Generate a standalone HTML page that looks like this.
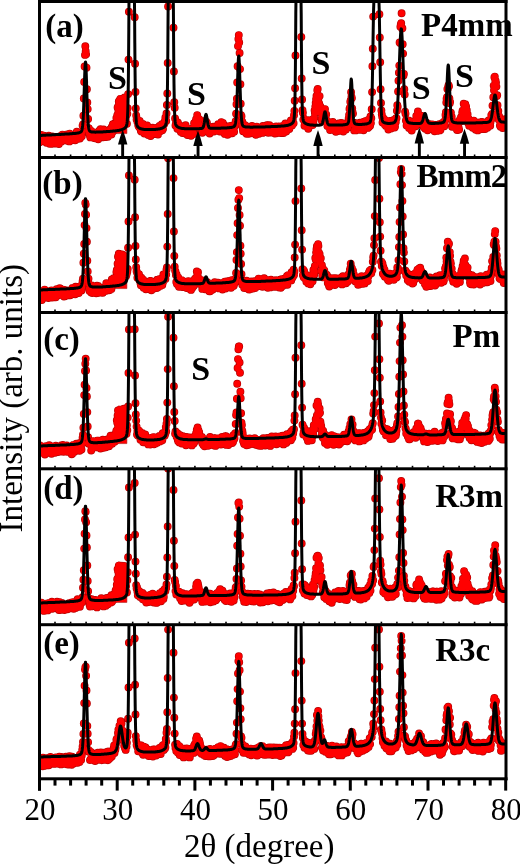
<!DOCTYPE html><html><head><meta charset="utf-8"><title>XRD Rietveld refinement</title><style>html,body{margin:0;padding:0;background:#fff;}svg{display:block}</style></head><body>
<svg width="520" height="864" viewBox="0 0 520 864">
<rect width="520" height="864" fill="#fff"/>
<defs>
<clipPath id="ca"><rect x="40" y="2" width="466" height="155"/></clipPath>
<clipPath id="cb"><rect x="40" y="158" width="466" height="154"/></clipPath>
<clipPath id="cc"><rect x="40" y="313" width="466" height="155"/></clipPath>
<clipPath id="cd"><rect x="40" y="469" width="466" height="155"/></clipPath>
<clipPath id="ce"><rect x="40" y="625" width="466" height="153"/></clipPath>
</defs>
<defs><path id="oa" d="M39.5 142.4h0M39.9 138.8h0M40.3 136.1h0M40.7 138.8h0M41.1 134.9h0M41.4 136.2h0M41.8 140.1h0M42.2 135.1h0M42.6 141h0M43 140.5h0M43.4 139.8h0M43.8 135.9h0M44.2 135.7h0M44.6 139.5h0M44.9 139.2h0M45.3 140.4h0M45.7 138.4h0M46.1 136.9h0M46.5 142.7h0M46.9 141.5h0M47.3 137.8h0M47.7 136.2h0M48 142.5h0M48.4 138.3h0M48.8 135.7h0M49.2 137.1h0M49.6 143.7h0M50 138.6h0M50.4 142.1h0M50.8 138h0M51.2 143.9h0M51.5 142.2h0M51.9 136.8h0M52.3 136.5h0M52.7 140.5h0M53.1 139.3h0M53.5 136.7h0M53.9 141.4h0M54.3 137.9h0M54.7 138.5h0M55 139.2h0M55.4 143.6h0M55.8 143.3h0M56.2 141.7h0M56.6 138.8h0M57 139.5h0M57.4 139.6h0M57.8 137.2h0M58.1 138.7h0M58.5 141.7h0M58.9 144.1h0M59.3 140.3h0M59.7 136.9h0M60.1 136.2h0M60.5 137.5h0M60.9 136.5h0M61.3 136.3h0M61.6 141.6h0M62 137.6h0M62.4 134.6h0M62.8 136.5h0M63.2 140.5h0M63.6 139.5h0M64 137.5h0M64.4 135.8h0M64.8 137.4h0M65.1 139.8h0M65.5 136.6h0M65.9 134.6h0M66.3 136.4h0M66.7 135.4h0M67.1 137h0M67.5 136.7h0M67.9 140.9h0M68.2 139.7h0M68.6 138.7h0M69 134h0M69.4 141.4h0M69.8 133.6h0M70.2 137.8h0M70.6 134.6h0M71 140.4h0M71.4 138.6h0M71.7 140.2h0M72.1 139.2h0M72.5 139.7h0M72.9 139.3h0M73.3 139.5h0M73.7 138.9h0M74.1 136.8h0M74.5 136.6h0M74.9 136.6h0M75.2 140.3h0M75.6 139.6h0M76 138.3h0M76.4 136.6h0M76.8 131.8h0M77.2 137.6h0M77.6 135.8h0M78 133.7h0M78.4 136.7h0M78.7 138.8h0M79.1 133.6h0M79.5 136.7h0M79.9 138.5h0M80.3 136.5h0M80.7 132.7h0M81.1 135.5h0M81.5 136.2h0M81.8 136.3h0M82.2 131.7h0M82.6 125.6h0M83 124.4h0M83.4 115.8h0M83.8 98.5h0M84.2 81.9h0M84.6 66.5h0M85 54.9h0M85.3 46.3h0M85.7 51.3h0M86.1 54.2h0M86.5 67.8h0M86.9 89.2h0M87.3 102.4h0M87.7 109.1h0M88.1 119h0M88.5 130.1h0M88.8 128.3h0M89.2 133.5h0M89.6 133h0M90 136.2h0M90.4 137.4h0M90.8 133.5h0M91.2 130.9h0M91.6 136h0M91.9 131.6h0M92.3 136.1h0M92.7 135h0M93.1 133.5h0M93.5 136.5h0M93.9 137.9h0M94.3 136.1h0M94.7 135.6h0M95.1 138.3h0M95.4 137.7h0M95.8 137.3h0M96.2 136.5h0M96.6 132.4h0M97 136h0M97.4 136h0M97.8 138.5h0M98.2 139.2h0M98.6 132.8h0M98.9 137.7h0M99.3 130.8h0M99.7 133.6h0M100.1 133.4h0M100.5 129.3h0M100.9 136h0M101.3 130.5h0M101.7 129.9h0M102 130.5h0M102.4 136h0M102.8 134.6h0M103.2 137.3h0M103.6 129.5h0M104 131.3h0M104.4 135.6h0M104.8 136.2h0M105.2 133.3h0M105.5 135.6h0M105.9 136.4h0M106.3 137.1h0M106.7 133.6h0M107.1 133.3h0M107.5 132.7h0M107.9 136.7h0M108.3 132.3h0M108.7 132h0M109 131.5h0M109.4 131.6h0M109.8 130.1h0M110.2 129.2h0M110.6 130.6h0M111 133.7h0M111.4 134.5h0M111.8 127h0M112.1 130.7h0M112.5 132.1h0M112.9 124.2h0M113.3 130.4h0M113.7 126.6h0M114.1 123.7h0M114.5 129.9h0M114.9 124.9h0M115.3 124.1h0M115.6 124.5h0M116 123.2h0M116.4 117.9h0M116.8 118.3h0M117.2 115.4h0M117.6 107.4h0M118 106.7h0M118.4 107.3h0M118.8 101.4h0M119.1 109h0M119.5 108.8h0M119.9 100.6h0M120.3 102.3h0M120.7 100.7h0M121.1 109.6h0M121.5 100.8h0M121.9 98.9h0M122.3 101.5h0M122.6 110.7h0M123 99.1h0M123.4 103.3h0M123.8 105.5h0M124.2 98.1h0M124.6 97.4h0M125 106.4h0M125.4 105.9h0M125.7 118.7h0M126.1 123.6h0M126.5 115.3h0M126.9 123.8h0M127.3 113.8h0M127.7 108.1h0M128.1 94.1h0M128.5 59.6h0M128.9 11.7h0M129.2 -7h0M129.6 -7h0M130 -7h0M130.4 -7h0M130.8 -7h0M131.2 -7h0M131.6 -7h0M132 -7h0M132.4 -7h0M132.7 -7h0M133.1 -7h0M133.5 -7h0M133.9 -7h0M134.3 -7h0M134.7 17.3h0M135.1 63.8h0M135.5 92h0M135.8 108.4h0M136.2 115.4h0M136.6 119.5h0M137 118.9h0M137.4 121.8h0M137.8 120.8h0M138.2 125.1h0M138.6 126.3h0M139 125.5h0M139.3 127.3h0M139.7 121h0M140.1 123.3h0M140.5 124.1h0M140.9 131h0M141.3 131.5h0M141.7 127.9h0M142.1 131.1h0M142.5 124.4h0M142.8 123.9h0M143.2 132.2h0M143.6 125.6h0M144 129.2h0M144.4 133.5h0M144.8 128.8h0M145.2 128h0M145.6 127.4h0M145.9 127.3h0M146.3 131.1h0M146.7 127h0M147.1 125.4h0M147.5 129.1h0M147.9 134.3h0M148.3 135.1h0M148.7 134.7h0M149.1 130.8h0M149.4 131.5h0M149.8 132.2h0M150.2 135.8h0M150.6 136h0M151 134.1h0M151.4 132.3h0M151.8 130.6h0M152.2 131.3h0M152.6 127.8h0M152.9 130.2h0M153.3 128.7h0M153.7 133h0M154.1 130.5h0M154.5 133.2h0M154.9 128.7h0M155.3 134.1h0M155.7 133h0M156.1 133.2h0M156.4 132.1h0M156.8 133.2h0M157.2 127.7h0M157.6 134.1h0M158 134.6h0M158.4 128.9h0M158.8 130.1h0M159.2 130.8h0M159.5 126h0M159.9 130.6h0M160.3 131.3h0M160.7 126.7h0M161.1 127.9h0M161.5 124.9h0M161.9 124.3h0M162.3 130.2h0M162.7 124h0M163 129.1h0M163.4 124.6h0M163.8 123.1h0M164.2 123.9h0M164.6 122.3h0M165 120.4h0M165.4 117.5h0M165.8 117h0M166.2 120.9h0M166.5 113.4h0M166.9 105h0M167.3 93.4h0M167.7 62.9h0M168.1 6.5h0M168.5 -7h0M168.9 -7h0M169.3 -7h0M169.6 -7h0M170 -7h0M170.4 -7h0M170.8 -7h0M171.2 -7h0M171.6 -7h0M172 -7h0M172.4 -7h0M172.8 -7h0M173.1 -7h0M173.5 27.7h0M173.9 71.4h0M174.3 102.3h0M174.7 107.8h0M175.1 118.5h0M175.5 125.4h0M175.9 123.5h0M176.3 123.5h0M176.6 126.4h0M177 126.6h0M177.4 128.8h0M177.8 122.4h0M178.2 128.9h0M178.6 124.1h0M179 129.5h0M179.4 125.7h0M179.7 125.5h0M180.1 127.8h0M180.5 128.4h0M180.9 132.1h0M181.3 127.1h0M181.7 131.7h0M182.1 131.1h0M182.5 133.1h0M182.9 129.7h0M183.2 130.9h0M183.6 127.6h0M184 130.6h0M184.4 133.2h0M184.8 126.2h0M185.2 128.5h0M185.6 125.2h0M186 128.5h0M186.4 133.1h0M186.7 128.2h0M187.1 132.1h0M187.5 135.1h0M187.9 128.9h0M188.3 129.1h0M188.7 132.5h0M189.1 129.7h0M189.5 129.3h0M189.8 134.6h0M190.2 134.8h0M190.6 132.1h0M191 135.8h0M191.4 131.2h0M191.8 131.3h0M192.2 128.4h0M192.6 134.2h0M193 130.1h0M193.3 127.9h0M193.7 133.9h0M194.1 123.3h0M194.5 126.5h0M194.9 127.3h0M195.3 125.4h0M195.7 121.1h0M196.1 119.2h0M196.5 122.4h0M196.8 125.1h0M197.2 115.1h0M197.6 122.4h0M198 124.1h0M198.4 124.5h0M198.8 124.5h0M199.2 119.1h0M199.6 129.1h0M200 126.5h0M200.3 129.9h0M200.7 126.9h0M201.1 131.9h0M201.5 126.6h0M201.9 126.2h0M202.3 132.7h0M202.7 125.9h0M203.1 128.2h0M203.4 127.7h0M203.8 130.1h0M204.2 127.3h0M204.6 130.5h0M205 121h0M205.4 122.3h0M205.8 123h0M206.2 121.8h0M206.6 126.6h0M206.9 122.8h0M207.3 125.5h0M207.7 128.2h0M208.1 128h0M208.5 131.5h0M208.9 132.6h0M209.3 129.7h0M209.7 133.6h0M210.1 130.1h0M210.4 128.5h0M210.8 127.9h0M211.2 128.4h0M211.6 129.7h0M212 127.2h0M212.4 128h0M212.8 129.6h0M213.2 126.7h0M213.5 130.8h0M213.9 131.6h0M214.3 129.2h0M214.7 127.8h0M215.1 128.2h0M215.5 130.7h0M215.9 130.7h0M216.3 129.8h0M216.7 127.2h0M217 129.8h0M217.4 128.3h0M217.8 130.8h0M218.2 124.3h0M218.6 129.5h0M219 125.5h0M219.4 126.4h0M219.8 131.5h0M220.2 127.1h0M220.5 123.8h0M220.9 130.7h0M221.3 122.1h0M221.7 123.9h0M222.1 124.6h0M222.5 130.6h0M222.9 123h0M223.3 131.9h0M223.6 128.7h0M224 129.8h0M224.4 133h0M224.8 133.9h0M225.2 126.4h0M225.6 132.4h0M226 127.2h0M226.4 131h0M226.8 131h0M227.1 126.7h0M227.5 134.8h0M227.9 134.5h0M228.3 132h0M228.7 132.2h0M229.1 132.4h0M229.5 126.1h0M229.9 127.3h0M230.3 129.6h0M230.6 130.5h0M231 128.1h0M231.4 131h0M231.8 125.7h0M232.2 133.3h0M232.6 130h0M233 129.7h0M233.4 130.2h0M233.7 128.4h0M234.1 131.8h0M234.5 126.8h0M234.9 125.6h0M235.3 124.1h0M235.7 121.1h0M236.1 113.8h0M236.5 104.2h0M236.9 98.7h0M237.2 82.4h0M237.6 66.2h0M238 46.1h0M238.4 38.9h0M238.8 35.1h0M239.2 42.5h0M239.6 53h0M240 69.1h0M240.4 84.2h0M240.7 103.7h0M241.1 115.2h0M241.5 116.3h0M241.9 125.4h0M242.3 121.8h0M242.7 128.7h0M243.1 131.2h0M243.5 124.1h0M243.9 127.1h0M244.2 125.4h0M244.6 128.9h0M245 128.2h0M245.4 125.5h0M245.8 132.7h0M246.2 133h0M246.6 133.8h0M247 127.9h0M247.3 133.2h0M247.7 132.7h0M248.1 128.6h0M248.5 132.8h0M248.9 133.8h0M249.3 127.3h0M249.7 133.5h0M250.1 132.3h0M250.5 128.9h0M250.8 132.8h0M251.2 127.5h0M251.6 129.7h0M252 125.9h0M252.4 131.2h0M252.8 127.3h0M253.2 131.3h0M253.6 132.6h0M254 133h0M254.3 130.9h0M254.7 133.7h0M255.1 131.8h0M255.5 126.9h0M255.9 134.8h0M256.3 130.5h0M256.7 126.6h0M257.1 128h0M257.4 132.4h0M257.8 132.3h0M258.2 128.1h0M258.6 127.5h0M259 133.8h0M259.4 130.2h0M259.8 132.5h0M260.2 129.8h0M260.6 127.6h0M260.9 128.6h0M261.3 130.9h0M261.7 129.7h0M262.1 132.1h0M262.5 132.9h0M262.9 126h0M263.3 129.7h0M263.7 126.5h0M264.1 130.6h0M264.4 130.9h0M264.8 126.3h0M265.2 129.7h0M265.6 129.8h0M266 130.8h0M266.4 125.7h0M266.8 125.2h0M267.2 128.1h0M267.5 128.3h0M267.9 125.1h0M268.3 132.8h0M268.7 131.4h0M269.1 126.6h0M269.5 125.2h0M269.9 127.7h0M270.3 127h0M270.7 129.4h0M271 126.5h0M271.4 127.5h0M271.8 132.6h0M272.2 132.6h0M272.6 129.3h0M273 128h0M273.4 130.3h0M273.8 132.5h0M274.2 129.9h0M274.5 132.3h0M274.9 133.6h0M275.3 127.2h0M275.7 129.2h0M276.1 126.4h0M276.5 133.2h0M276.9 133h0M277.3 131.3h0M277.7 128.7h0M278 128.8h0M278.4 128.6h0M278.8 126.4h0M279.2 129.3h0M279.6 128.5h0M280 131.3h0M280.4 133.1h0M280.8 129h0M281.1 127.6h0M281.5 131.4h0M281.9 126.2h0M282.3 129.5h0M282.7 126.6h0M283.1 128.9h0M283.5 133.1h0M283.9 130.6h0M284.3 128h0M284.6 124.8h0M285 126.3h0M285.4 123.5h0M285.8 126.8h0M286.2 131.6h0M286.6 126.3h0M287 123.9h0M287.4 129.5h0M287.8 128.7h0M288.1 124.9h0M288.5 125.1h0M288.9 124.9h0M289.3 129h0M289.7 125h0M290.1 123.1h0M290.5 126.2h0M290.9 120.4h0M291.2 124.6h0M291.6 120.5h0M292 125.5h0M292.4 124h0M292.8 119.8h0M293.2 123.3h0M293.6 123.3h0M294 115.2h0M294.4 110.9h0M294.7 100.7h0M295.1 88.2h0M295.5 55.5h0M295.9 -7h0M296.3 -7h0M296.7 -7h0M297.1 -7h0M297.5 -7h0M297.9 -7h0M298.2 -7h0M298.6 -7h0M299 -7h0M299.4 -7h0M299.8 -7h0M300.2 -7h0M300.6 -7h0M301 -7h0M301.3 37h0M301.7 78.5h0M302.1 99.5h0M302.5 110.3h0M302.9 112.7h0M303.3 119.6h0M303.7 118.7h0M304.1 118.6h0M304.5 125.7h0M304.8 123.1h0M305.2 119.7h0M305.6 123.4h0M306 122h0M306.4 123.8h0M306.8 125.2h0M307.2 125.1h0M307.6 121.8h0M308 127.5h0M308.3 128.7h0M308.7 120.3h0M309.1 123.3h0M309.5 124.1h0M309.9 122.7h0M310.3 122.9h0M310.7 120.4h0M311.1 125.1h0M311.4 124.1h0M311.8 125.3h0M312.2 123.3h0M312.6 125.1h0M313 119.3h0M313.4 123.6h0M313.8 119.7h0M314.2 118.1h0M314.6 110.5h0M314.9 113h0M315.3 106.7h0M315.7 102.7h0M316.1 99.1h0M316.5 96h0M316.9 97h0M317.3 90.2h0M317.7 88.9h0M318.1 96.6h0M318.4 98.4h0M318.8 96.1h0M319.2 103.5h0M319.6 96.1h0M320 108.2h0M320.4 106.4h0M320.8 113h0M321.2 110.7h0M321.6 118.6h0M321.9 120.8h0M322.3 120.3h0M322.7 119.9h0M323.1 115h0M323.5 116.2h0M323.9 113h0M324.3 109.9h0M324.7 117.4h0M325 109.1h0M325.4 114.8h0M325.8 114.3h0M326.2 114.5h0M326.6 122.4h0M327 120.6h0M327.4 126.1h0M327.8 123.8h0M328.2 121.7h0M328.5 124.8h0M328.9 124.5h0M329.3 124.6h0M329.7 125.1h0M330.1 130h0M330.5 124.6h0M330.9 128.2h0M331.3 122.3h0M331.7 129.4h0M332 123.8h0M332.4 124.4h0M332.8 121.9h0M333.2 127.1h0M333.6 124.1h0M334 125.1h0M334.4 124.7h0M334.8 130.4h0M335.1 125.4h0M335.5 127.2h0M335.9 131.7h0M336.3 127.6h0M336.7 127.6h0M337.1 124.6h0M337.5 128.5h0M337.9 125.8h0M338.3 131h0M338.6 127.6h0M339 130h0M339.4 123.2h0M339.8 124.2h0M340.2 126h0M340.6 129.4h0M341 123h0M341.4 125.1h0M341.8 127.8h0M342.1 130.1h0M342.5 126.8h0M342.9 129.6h0M343.3 131.5h0M343.7 123.5h0M344.1 128.9h0M344.5 125h0M344.9 127.7h0M345.2 124.7h0M345.6 128.1h0M346 129.5h0M346.4 125.3h0M346.8 124.9h0M347.2 123.4h0M347.6 124.8h0M348 127.5h0M348.4 124.2h0M348.7 118.2h0M349.1 114.9h0M349.5 109h0M349.9 107.8h0M350.3 101.8h0M350.7 100.3h0M351.1 92.2h0M351.5 96.8h0M351.9 98.1h0M352.2 108.5h0M352.6 112.2h0M353 113.6h0M353.4 124.3h0M353.8 122.7h0M354.2 130.4h0M354.6 124.6h0M355 129.1h0M355.4 125.4h0M355.7 130.4h0M356.1 128.1h0M356.5 123.3h0M356.9 129.5h0M357.3 127.9h0M357.7 125.5h0M358.1 126.9h0M358.5 126.9h0M358.8 127.4h0M359.2 125.9h0M359.6 129.7h0M360 122.7h0M360.4 126.8h0M360.8 123.5h0M361.2 124.3h0M361.6 127.4h0M362 125h0M362.3 123.6h0M362.7 130h0M363.1 128.6h0M363.5 130.2h0M363.9 121.6h0M364.3 123.6h0M364.7 128h0M365.1 128.1h0M365.5 122.2h0M365.8 121h0M366.2 125.7h0M366.6 122.8h0M367 127.4h0M367.4 125.3h0M367.8 127.9h0M368.2 122.7h0M368.6 119.8h0M368.9 127h0M369.3 126.4h0M369.7 121.9h0M370.1 125.8h0M370.5 116.4h0M370.9 123.1h0M371.3 118.2h0M371.7 109.2h0M372.1 92.1h0M372.4 66.3h0M372.8 48.7h0M373.2 16.6h0M373.6 -7h0M374 -7h0M374.4 -7h0M374.8 -7h0M375.2 -7h0M375.6 -7h0M375.9 -7h0M376.3 -7h0M376.7 -7h0M377.1 -7h0M377.5 -7h0M377.9 -7h0M378.3 -7h0M378.7 -7h0M379 -7h0M379.4 14.2h0M379.8 37.5h0M380.2 62.2h0M380.6 89.2h0M381 103h0M381.4 110.5h0M381.8 114.5h0M382.2 116.7h0M382.5 122.6h0M382.9 120.5h0M383.3 118.1h0M383.7 121.6h0M384.1 121.1h0M384.5 124.2h0M384.9 123.4h0M385.3 120.1h0M385.7 123.3h0M386 126h0M386.4 123.5h0M386.8 121.4h0M387.2 126.6h0M387.6 124.8h0M388 123.6h0M388.4 129.5h0M388.8 129.2h0M389.1 128.3h0M389.5 126.7h0M389.9 121h0M390.3 123.6h0M390.7 121.1h0M391.1 128.5h0M391.5 121h0M391.9 123.7h0M392.3 121.6h0M392.6 125.9h0M393 121.8h0M393.4 126.6h0M393.8 120h0M394.2 122.6h0M394.6 127.6h0M395 126.8h0M395.4 123h0M395.8 121.9h0M396.1 118.3h0M396.5 118.3h0M396.9 110.7h0M397.3 105.3h0M397.7 106.7h0M398.1 91.5h0M398.5 80.8h0M398.9 72.7h0M399.3 65.6h0M399.6 42.4h0M400 42.9h0M400.4 26.7h0M400.8 24.3h0M401.2 23.2h0M401.6 13.3h0M402 28.4h0M402.4 28.2h0M402.7 44.2h0M403.1 53.6h0M403.5 75.5h0M403.9 74h0M404.3 89.2h0M404.7 94.5h0M405.1 111.7h0M405.5 113.7h0M405.9 120.6h0M406.2 119.7h0M406.6 125.6h0M407 125h0M407.4 121.4h0M407.8 123.8h0M408.2 123.4h0M408.6 120.5h0M409 128.1h0M409.4 126h0M409.7 124.9h0M410.1 124.8h0M410.5 124.4h0M410.9 128.1h0M411.3 125.8h0M411.7 130.5h0M412.1 121.8h0M412.5 124.2h0M412.8 125.8h0M413.2 125.6h0M413.6 125.5h0M414 124.5h0M414.4 126.7h0M414.8 121.6h0M415.2 121.2h0M415.6 126.2h0M416 120.3h0M416.3 115.9h0M416.7 124.6h0M417.1 116.5h0M417.5 120.5h0M417.9 111.5h0M418.3 118.1h0M418.7 116h0M419.1 120.4h0M419.5 120.9h0M419.8 119.6h0M420.2 120.4h0M420.6 118.2h0M421 124.1h0M421.4 115.8h0M421.8 123.8h0M422.2 120.7h0M422.6 118.8h0M422.9 121.6h0M423.3 120.4h0M423.7 127.2h0M424.1 120.9h0M424.5 120.9h0M424.9 124.7h0M425.3 128.8h0M425.7 125.7h0M426.1 128.8h0M426.4 126.2h0M426.8 123h0M427.2 128.1h0M427.6 130.3h0M428 125.2h0M428.4 128.5h0M428.8 123.9h0M429.2 127.7h0M429.6 124.2h0M429.9 126h0M430.3 125.9h0M430.7 127.2h0M431.1 127.4h0M431.5 126.3h0M431.9 128.4h0M432.3 124.4h0M432.7 127.2h0M433.1 125.1h0M433.4 126.6h0M433.8 129.6h0M434.2 127.7h0M434.6 131.3h0M435 127.4h0M435.4 125h0M435.8 125.5h0M436.2 129.8h0M436.5 127.9h0M436.9 127.8h0M437.3 130.9h0M437.7 129.4h0M438.1 129.5h0M438.5 124.6h0M438.9 127.8h0M439.3 124.1h0M439.7 130.4h0M440 130h0M440.4 130h0M440.8 127.7h0M441.2 127.5h0M441.6 124.3h0M442 126.4h0M442.4 124h0M442.8 122.6h0M443.2 125.4h0M443.5 123.1h0M443.9 124.5h0M444.3 126.2h0M444.7 124.1h0M445.1 120.3h0M445.5 115h0M445.9 112.3h0M446.3 102.5h0M446.6 98.7h0M447 97.1h0M447.4 88.9h0M447.8 88.8h0M448.2 86.4h0M448.6 85.2h0M449 86.3h0M449.4 98.5h0M449.8 103.3h0M450.1 101.9h0M450.5 114.1h0M450.9 112.7h0M451.3 119.3h0M451.7 116.8h0M452.1 126.8h0M452.5 125.6h0M452.9 125.4h0M453.3 121.7h0M453.6 125.5h0M454 124.2h0M454.4 127h0M454.8 124.7h0M455.2 125.2h0M455.6 125.8h0M456 122.7h0M456.4 124h0M456.7 129.2h0M457.1 130h0M457.5 129.7h0M457.9 130h0M458.3 127.3h0M458.7 128h0M459.1 129.5h0M459.5 121.4h0M459.9 119.6h0M460.2 119.7h0M460.6 118.8h0M461 117.2h0M461.4 121.2h0M461.8 120h0M462.2 112.5h0M462.6 110.7h0M463 117.5h0M463.4 110.1h0M463.7 103.7h0M464.1 111.4h0M464.5 107.6h0M464.9 105.4h0M465.3 104.3h0M465.7 112.4h0M466.1 106.5h0M466.5 111h0M466.8 110.3h0M467.2 116.6h0M467.6 114.2h0M468 122.8h0M468.4 118.5h0M468.8 120.3h0M469.2 125.7h0M469.6 123.5h0M470 121.9h0M470.3 122.4h0M470.7 123.2h0M471.1 123.8h0M471.5 125.2h0M471.9 122.5h0M472.3 124.4h0M472.7 127.7h0M473.1 125.9h0M473.5 127.4h0M473.8 120.6h0M474.2 124.9h0M474.6 128.4h0M475 122h0M475.4 129.2h0M475.8 129.7h0M476.2 122.5h0M476.6 128h0M477 123.3h0M477.3 127.7h0M477.7 130.4h0M478.1 125.7h0M478.5 124h0M478.9 129.8h0M479.3 124.9h0M479.7 122.4h0M480.1 122.9h0M480.4 126.5h0M480.8 128h0M481.2 125.8h0M481.6 123.3h0M482 122h0M482.4 129h0M482.8 125.9h0M483.2 126.6h0M483.6 124.4h0M483.9 126h0M484.3 126.2h0M484.7 122.8h0M485.1 129h0M485.5 127.5h0M485.9 124.3h0M486.3 122.4h0M486.7 127.3h0M487.1 122.7h0M487.4 127.8h0M487.8 124.2h0M488.2 121.6h0M488.6 120.4h0M489 122.2h0M489.4 123.4h0M489.8 124.1h0M490.2 125.7h0M490.5 121.9h0M490.9 118.6h0M491.3 115.1h0M491.7 118.8h0M492.1 114h0M492.5 105.6h0M492.9 106.1h0M493.3 97.3h0M493.7 85.6h0M494 90.3h0M494.4 77.3h0M494.8 76.6h0M495.2 80h0M495.6 80.6h0M496 82.6h0M496.4 86.6h0M496.8 96.1h0M497.2 95.3h0M497.5 105.3h0M497.9 114.9h0M498.3 111h0M498.7 119.6h0M499.1 116.1h0M499.5 118.4h0M499.9 125.4h0M500.3 122.5h0M500.6 126.7h0M501 120.8h0M501.4 126.1h0M501.8 120.3h0M502.2 120.7h0M502.6 128h0M503 127h0M503.4 125.1h0M503.8 125.6h0M504.1 125.9h0M504.5 121.4h0M504.9 119.2h0M505.3 124.4h0M505.7 125h0"/></defs>
<g clip-path="url(#ca)" fill="none" stroke-linecap="round"><use href="#oa" stroke="#b80000" stroke-width="7.9"/><path d="M113.5 133.2 L115 109.5 L116.2 100.5 Q116.8 95.5 118.6 95.5 L124 96 Q126.8 96 126.8 98.5 L126.8 133.2 Z" fill="#ff0000" stroke="#b80000" stroke-width="0.7"/><use href="#oa" stroke="#ff0000" stroke-width="6.5"/></g>
<polyline clip-path="url(#ca)" points="40,135.5 40.2,135.4 40.4,135.4 40.6,135.4 40.8,135.4 41,135.4 41.2,135.4 41.4,135.4 41.6,135.4 41.8,135.4 42,135.4 42.2,135.3 42.4,135.3 42.6,135.3 42.8,135.3 43,135.3 43.2,135.3 43.4,135.3 43.6,135.3 43.8,135.3 44,135.3 44.2,135.2 44.4,135.2 44.6,135.2 44.8,135.2 45,135.2 45.2,135.2 45.4,135.2 45.6,135.2 45.8,135.2 46,135.1 46.2,135.1 46.4,135.1 46.6,135.1 46.8,135.1 47,135.1 47.2,135.1 47.4,135.1 47.6,135.1 47.8,135.1 48,135 48.2,135 48.4,135 48.6,135 48.8,135 49,135 49.2,135 49.4,135 49.6,135 49.8,135 50,134.9 50.2,134.9 50.4,134.9 50.6,134.9 50.8,134.9 51,134.9 51.2,134.9 51.4,134.9 51.6,134.9 51.8,134.8 52,134.8 52.2,134.8 52.4,134.8 52.6,134.8 52.8,134.8 53,134.8 53.2,134.8 53.4,134.8 53.6,134.8 53.8,134.7 54,134.7 54.2,134.7 54.4,134.7 54.6,134.7 54.8,134.7 55,134.7 55.2,134.7 55.4,134.7 55.6,134.6 55.8,134.6 56,134.6 56.2,134.6 56.4,134.6 56.6,134.6 56.8,134.6 57,134.6 57.2,134.6 57.4,134.5 57.6,134.5 57.8,134.5 58,134.5 58.2,134.5 58.4,134.5 58.6,134.5 58.8,134.5 59,134.5 59.2,134.5 59.4,134.4 59.6,134.4 59.8,134.4 60,134.4 60.2,134.4 60.4,134.4 60.6,134.4 60.8,134.4 61,134.4 61.2,134.3 61.4,134.3 61.6,134.3 61.8,134.3 62,134.3 62.2,134.3 62.4,134.3 62.6,134.3 62.8,134.3 63,134.2 63.2,134.2 63.4,134.2 63.6,134.2 63.8,134.2 64,134.2 64.2,134.2 64.4,134.2 64.6,134.1 64.8,134.1 65,134.1 65.2,134.1 65.4,134.1 65.6,134.1 65.8,134.1 66,134.1 66.2,134.1 66.4,134 66.6,134 66.8,134 67,134 67.2,134 67.4,134 67.6,134 67.8,134 68,133.9 68.2,133.9 68.4,133.9 68.6,133.9 68.8,133.9 69,133.9 69.2,133.9 69.4,133.9 69.6,133.8 69.8,133.8 70,133.8 70.2,133.8 70.4,133.8 70.6,133.8 70.8,133.8 71,133.7 71.2,133.7 71.4,133.7 71.6,133.7 71.8,133.7 72,133.7 72.2,133.7 72.4,133.6 72.6,133.6 72.8,133.6 73,133.6 73.2,133.6 73.4,133.6 73.6,133.5 73.8,133.5 74,133.5 74.2,133.5 74.4,133.5 74.6,133.4 74.8,133.4 75,133.4 75.2,133.4 75.4,133.4 75.6,133.3 75.8,133.3 76,133.3 76.2,133.3 76.4,133.2 76.6,133.2 76.8,133.2 77,133.2 77.2,133.1 77.4,133.1 77.6,133.1 77.8,133 78,133 78.2,132.9 78.4,132.9 78.6,132.9 78.8,132.8 79,132.8 79.2,132.7 79.4,132.6 79.6,132.6 79.8,132.5 80,132.4 80.2,132.3 80.4,132.3 80.6,132.1 80.8,132 81,131.8 81.2,131.6 81.4,131.3 81.6,131 81.8,130.5 82,129.8 82.2,128.9 82.4,127.6 82.6,126 82.8,123.9 83,121.2 83.2,117.8 83.4,113.8 83.6,109 83.8,103.6 84,97.6 84.2,91.2 84.4,84.7 84.6,78.3 84.8,72.5 85,67.6 85.2,64 85.4,62.2 85.6,62.1 85.8,64 86,67.5 86.2,72.4 86.4,78.2 86.6,84.5 86.8,91 87,97.4 87.2,103.4 87.4,108.8 87.6,113.5 87.8,117.5 88,120.9 88.2,123.5 88.4,125.6 88.6,127.3 88.8,128.5 89,129.4 89.2,130 89.4,130.5 89.6,130.8 89.8,131.1 90,131.3 90.2,131.4 90.4,131.5 90.6,131.6 90.8,131.7 91,131.8 91.2,131.8 91.4,131.9 91.6,131.9 91.8,131.9 92,132 92.2,132 92.4,132 92.6,132 92.8,132.1 93,132.1 93.2,132.1 93.4,132.1 93.6,132.1 93.8,132.1 94,132.1 94.2,132.1 94.4,132.1 94.6,132.1 94.8,132.1 95,132.2 95.2,132.2 95.4,132.2 95.6,132.2 95.8,132.2 96,132.1 96.2,132.1 96.4,132.1 96.6,132.1 96.8,132.1 97,132.1 97.2,132.1 97.4,132.1 97.6,132.1 97.8,132.1 98,132.1 98.2,132.1 98.4,132.1 98.6,132.1 98.8,132.1 99,132.1 99.2,132.1 99.4,132 99.6,132 99.8,132 100,132 100.2,132 100.4,132 100.6,132 100.8,132 101,132 101.2,132 101.4,131.9 101.6,131.9 101.8,131.9 102,131.9 102.2,131.9 102.4,131.9 102.6,131.9 102.8,131.9 103,131.9 103.2,131.8 103.4,131.8 103.6,131.8 103.8,131.8 104,131.8 104.2,131.8 104.4,131.8 104.6,131.8 104.8,131.7 105,131.7 105.2,131.7 105.4,131.7 105.6,131.7 105.8,131.7 106,131.7 106.2,131.7 106.4,131.6 106.6,131.6 106.8,131.6 107,131.6 107.2,131.6 107.4,131.6 107.6,131.6 107.8,131.5 108,131.5 108.2,131.5 108.4,131.5 108.6,131.5 108.8,131.5 109,131.5 109.2,131.4 109.4,131.4 109.6,131.4 109.8,131.4 110,131.4 110.2,131.4 110.4,131.3 110.6,131.3 110.8,131.3 111,131.3 111.2,131.3 111.4,131.3 111.6,131.2 111.8,131.2 112,131.2 112.2,131.2 112.4,131.2 112.6,131.2 112.8,131.1 113,131.1 113.2,131.1 113.4,131.1 113.6,131.1 113.8,131 114,131 114.2,131 114.4,131 114.6,131 114.8,130.9 115,130.9 115.2,130.9 115.4,130.9 115.6,130.8 115.8,130.8 116,130.8 116.2,130.8 116.4,130.7 116.6,130.7 116.8,130.7 117,130.7 117.2,130.6 117.4,130.6 117.6,130.6 117.8,130.5 118,130.5 118.2,130.5 118.4,130.5 118.6,130.4 118.8,130.4 119,130.3 119.2,130.3 119.4,130.3 119.6,130.2 119.8,130.2 120,130.1 120.2,130.1 120.4,130 120.6,130 120.8,129.9 121,129.9 121.2,129.8 121.4,129.8 121.6,129.7 121.8,129.6 122,129.6 122.2,129.5 122.4,129.4 122.6,129.3 122.8,129.2 123,129.2 123.2,129.1 123.4,129 123.6,128.9 123.8,128.8 124,128.6 124.2,128.5 124.4,128.4 124.6,128.3 124.8,128.1 125,128 125.2,127.8 125.4,127.6 125.6,127.4 125.8,127.2 126,126.9 126.2,126.5 126.4,126.1 126.6,125.5 126.8,124.7 127,123.5 127.2,121.7 127.4,119.1 127.6,115.3 127.8,109.8 128,102 128.2,91 128.4,75.9 128.6,55.6 128.8,29 129,-2 129.2,-2 129.4,-2 129.6,-2 129.8,-2 130,-2 130.2,-2 130.4,-2 130.6,-2 130.8,-2 131,-2 131.2,-2 131.4,-2 131.6,-2 131.8,-2 132,-2 132.2,-2 132.4,-2 132.6,-2 132.8,-2 133,-2 133.2,-2 133.4,-2 133.6,-2 133.8,-2 134,-2 134.2,-2 134.4,-2 134.6,12.7 134.8,43 135,66.3 135.2,83.8 135.4,96.7 135.6,106 135.8,112.6 136,117.2 136.2,120.3 136.4,122.4 136.6,123.8 136.8,124.8 137,125.5 137.2,126 137.4,126.4 137.6,126.7 137.8,126.9 138,127.1 138.2,127.3 138.4,127.5 138.6,127.6 138.8,127.8 139,127.9 139.2,128 139.4,128.1 139.6,128.2 139.8,128.3 140,128.4 140.2,128.5 140.4,128.6 140.6,128.7 140.8,128.7 141,128.8 141.2,128.9 141.4,128.9 141.6,129 141.8,129 142,129.1 142.2,129.1 142.4,129.2 142.6,129.2 142.8,129.2 143,129.3 143.2,129.3 143.4,129.3 143.6,129.3 143.8,129.4 144,129.4 144.2,129.4 144.4,129.4 144.6,129.4 144.8,129.5 145,129.5 145.2,129.5 145.4,129.5 145.6,129.5 145.8,129.5 146,129.5 146.2,129.5 146.4,129.6 146.6,129.6 146.8,129.6 147,129.6 147.2,129.6 147.4,129.6 147.6,129.6 147.8,129.6 148,129.6 148.2,129.6 148.4,129.6 148.6,129.6 148.8,129.6 149,129.6 149.2,129.6 149.4,129.6 149.6,129.6 149.8,129.6 150,129.6 150.2,129.6 150.4,129.6 150.6,129.6 150.8,129.6 151,129.6 151.2,129.6 151.4,129.6 151.6,129.6 151.8,129.6 152,129.5 152.2,129.5 152.4,129.5 152.6,129.5 152.8,129.5 153,129.5 153.2,129.5 153.4,129.5 153.6,129.5 153.8,129.5 154,129.5 154.2,129.5 154.4,129.4 154.6,129.4 154.8,129.4 155,129.4 155.2,129.4 155.4,129.4 155.6,129.4 155.8,129.3 156,129.3 156.2,129.3 156.4,129.3 156.6,129.3 156.8,129.3 157,129.2 157.2,129.2 157.4,129.2 157.6,129.2 157.8,129.2 158,129.1 158.2,129.1 158.4,129.1 158.6,129 158.8,129 159,129 159.2,128.9 159.4,128.9 159.6,128.9 159.8,128.8 160,128.8 160.2,128.7 160.4,128.7 160.6,128.6 160.8,128.6 161,128.5 161.2,128.5 161.4,128.4 161.6,128.3 161.8,128.3 162,128.2 162.2,128.1 162.4,128 162.6,127.9 162.8,127.8 163,127.7 163.2,127.6 163.4,127.5 163.6,127.3 163.8,127.2 164,127.1 164.2,126.9 164.4,126.7 164.6,126.6 164.8,126.4 165,126.1 165.2,125.9 165.4,125.6 165.6,125.2 165.8,124.7 166,124 166.2,122.9 166.4,121.4 166.6,119 166.8,115.5 167,110.2 167.2,102.5 167.4,91.3 167.6,75.6 167.8,54.1 168,25.3 168.2,-2 168.4,-2 168.6,-2 168.8,-2 169,-2 169.2,-2 169.4,-2 169.6,-2 169.8,-2 170,-2 170.2,-2 170.4,-2 170.6,-2 170.8,-2 171,-2 171.2,-2 171.4,-2 171.6,-2 171.8,-2 172,-2 172.2,-2 172.4,-2 172.6,-2 172.8,-2 173,-2 173.2,-2 173.4,7.6 173.6,40.5 173.8,65.5 174,84 174.2,97.2 174.4,106.5 174.6,112.9 174.8,117.3 175,120.1 175.2,122 175.4,123.3 175.6,124.2 175.8,124.7 176,125.2 176.2,125.5 176.4,125.8 176.6,126 176.8,126.2 177,126.4 177.2,126.5 177.4,126.7 177.6,126.8 177.8,127 178,127.1 178.2,127.2 178.4,127.3 178.6,127.4 178.8,127.5 179,127.6 179.2,127.7 179.4,127.8 179.6,127.8 179.8,127.9 180,128 180.2,128 180.4,128.1 180.6,128.1 180.8,128.2 181,128.2 181.2,128.3 181.4,128.3 181.6,128.3 181.8,128.4 182,128.4 182.2,128.4 182.4,128.5 182.6,128.5 182.8,128.5 183,128.5 183.2,128.6 183.4,128.6 183.6,128.6 183.8,128.6 184,128.6 184.2,128.6 184.4,128.7 184.6,128.7 184.8,128.7 185,128.7 185.2,128.7 185.4,128.7 185.6,128.7 185.8,128.7 186,128.7 186.2,128.8 186.4,128.8 186.6,128.8 186.8,128.8 187,128.8 187.2,128.8 187.4,128.8 187.6,128.8 187.8,128.8 188,128.8 188.2,128.8 188.4,128.8 188.6,128.8 188.8,128.8 189,128.8 189.2,128.8 189.4,128.8 189.6,128.8 189.8,128.8 190,128.8 190.2,128.8 190.4,128.8 190.6,128.8 190.8,128.8 191,128.8 191.2,128.8 191.4,128.8 191.6,128.8 191.8,128.8 192,128.8 192.2,128.8 192.4,128.8 192.6,128.8 192.8,128.8 193,128.8 193.2,128.8 193.4,128.8 193.6,128.8 193.8,128.8 194,128.8 194.2,128.8 194.4,128.8 194.6,128.8 194.8,128.8 195,128.8 195.2,128.8 195.4,128.8 195.6,128.8 195.8,128.8 196,128.8 196.2,128.8 196.4,128.8 196.6,128.8 196.8,128.8 197,128.7 197.2,128.7 197.4,128.7 197.6,128.7 197.8,128.7 198,128.7 198.2,128.7 198.4,128.7 198.6,128.7 198.8,128.7 199,128.7 199.2,128.7 199.4,128.7 199.6,128.6 199.8,128.6 200,128.6 200.2,128.6 200.4,128.6 200.6,128.6 200.8,128.5 201,128.5 201.2,128.5 201.4,128.5 201.6,128.4 201.8,128.4 202,128.3 202.2,128.2 202.4,128.1 202.6,127.9 202.8,127.7 203,127.4 203.2,127.1 203.4,126.6 203.6,126 203.8,125.2 204,124.3 204.2,123.3 204.4,122.2 204.6,120.9 204.8,119.6 205,118.3 205.2,117.1 205.4,116 205.6,115.2 205.8,114.6 206,114.4 206.2,114.6 206.4,115.1 206.6,116 206.8,117.1 207,118.3 207.2,119.6 207.4,120.9 207.6,122.1 207.8,123.2 208,124.2 208.2,125.1 208.4,125.8 208.6,126.4 208.8,126.9 209,127.3 209.2,127.6 209.4,127.8 209.6,127.9 209.8,128 210,128.1 210.2,128.2 210.4,128.2 210.6,128.2 210.8,128.2 211,128.3 211.2,128.3 211.4,128.3 211.6,128.3 211.8,128.3 212,128.3 212.2,128.3 212.4,128.3 212.6,128.3 212.8,128.3 213,128.3 213.2,128.3 213.4,128.3 213.6,128.3 213.8,128.3 214,128.3 214.2,128.3 214.4,128.3 214.6,128.3 214.8,128.3 215,128.3 215.2,128.3 215.4,128.3 215.6,128.3 215.8,128.3 216,128.3 216.2,128.3 216.4,128.3 216.6,128.3 216.8,128.3 217,128.3 217.2,128.3 217.4,128.3 217.6,128.2 217.8,128.2 218,128.2 218.2,128.2 218.4,128.2 218.6,128.2 218.8,128.2 219,128.2 219.2,128.2 219.4,128.2 219.6,128.2 219.8,128.2 220,128.2 220.2,128.2 220.4,128.2 220.6,128.2 220.8,128.2 221,128.1 221.2,128.1 221.4,128.1 221.6,128.1 221.8,128.1 222,128.1 222.2,128.1 222.4,128.1 222.6,128.1 222.8,128.1 223,128.1 223.2,128.1 223.4,128 223.6,128 223.8,128 224,128 224.2,128 224.4,128 224.6,128 224.8,128 225,128 225.2,128 225.4,128 225.6,127.9 225.8,127.9 226,127.9 226.2,127.9 226.4,127.9 226.6,127.9 226.8,127.9 227,127.9 227.2,127.8 227.4,127.8 227.6,127.8 227.8,127.8 228,127.8 228.2,127.8 228.4,127.8 228.6,127.7 228.8,127.7 229,127.7 229.2,127.7 229.4,127.7 229.6,127.6 229.8,127.6 230,127.6 230.2,127.6 230.4,127.5 230.6,127.5 230.8,127.5 231,127.5 231.2,127.4 231.4,127.4 231.6,127.4 231.8,127.3 232,127.3 232.2,127.2 232.4,127.2 232.6,127.1 232.8,127.1 233,127 233.2,126.9 233.4,126.8 233.6,126.8 233.8,126.7 234,126.5 234.2,126.4 234.4,126.2 234.6,125.9 234.8,125.6 235,125.1 235.2,124.5 235.4,123.6 235.6,122.5 235.8,120.9 236,118.9 236.2,116.4 236.4,113.2 236.6,109.3 236.8,104.7 237,99.3 237.2,93.4 237.4,87.1 237.6,80.5 237.8,74 238,67.9 238.2,62.7 238.4,58.8 238.6,56.5 238.8,56 239,57.4 239.2,60.6 239.4,65.2 239.6,70.8 239.8,77.2 240,83.7 240.2,90.2 240.4,96.4 240.6,102 240.8,106.9 241,111.2 241.2,114.7 241.4,117.6 241.6,119.8 241.8,121.6 242,122.9 242.2,123.9 242.4,124.6 242.6,125.1 242.8,125.5 243,125.8 243.2,126 243.4,126.2 243.6,126.3 243.8,126.4 244,126.5 244.2,126.6 244.4,126.6 244.6,126.7 244.8,126.7 245,126.8 245.2,126.8 245.4,126.9 245.6,126.9 245.8,126.9 246,126.9 246.2,127 246.4,127 246.6,127 246.8,127 247,127 247.2,127.1 247.4,127.1 247.6,127.1 247.8,127.1 248,127.1 248.2,127.1 248.4,127.1 248.6,127.1 248.8,127.1 249,127.1 249.2,127.1 249.4,127.1 249.6,127.1 249.8,127.1 250,127.2 250.2,127.2 250.4,127.2 250.6,127.2 250.8,127.2 251,127.2 251.2,127.2 251.4,127.2 251.6,127.2 251.8,127.2 252,127.2 252.2,127.2 252.4,127.2 252.6,127.2 252.8,127.2 253,127.2 253.2,127.1 253.4,127.1 253.6,127.1 253.8,127.1 254,127.1 254.2,127.1 254.4,127.1 254.6,127.1 254.8,127.1 255,127.1 255.2,127.1 255.4,127.1 255.6,127.1 255.8,127.1 256,127.1 256.2,127.1 256.4,127.1 256.6,127.1 256.8,127.1 257,127.1 257.2,127.1 257.4,127.1 257.6,127.1 257.8,127.1 258,127.1 258.2,127.1 258.4,127 258.6,127 258.8,127 259,127 259.2,127 259.4,127 259.6,127 259.8,127 260,127 260.2,127 260.4,127 260.6,127 260.8,127 261,127 261.2,127 261.4,127 261.6,127 261.8,127 262,127 262.2,126.9 262.4,126.9 262.6,126.9 262.8,126.9 263,126.9 263.2,126.9 263.4,126.9 263.6,126.9 263.8,126.9 264,126.9 264.2,126.9 264.4,126.9 264.6,126.9 264.8,126.9 265,126.9 265.2,126.9 265.4,126.8 265.6,126.8 265.8,126.8 266,126.8 266.2,126.8 266.4,126.8 266.6,126.8 266.8,126.8 267,126.8 267.2,126.8 267.4,126.8 267.6,126.8 267.8,126.8 268,126.8 268.2,126.7 268.4,126.7 268.6,126.7 268.8,126.7 269,126.7 269.2,126.7 269.4,126.7 269.6,126.7 269.8,126.7 270,126.7 270.2,126.7 270.4,126.7 270.6,126.7 270.8,126.7 271,126.6 271.2,126.6 271.4,126.6 271.6,126.6 271.8,126.6 272,126.6 272.2,126.6 272.4,126.6 272.6,126.6 272.8,126.6 273,126.6 273.2,126.6 273.4,126.5 273.6,126.5 273.8,126.5 274,126.5 274.2,126.5 274.4,126.5 274.6,126.5 274.8,126.5 275,126.5 275.2,126.5 275.4,126.5 275.6,126.4 275.8,126.4 276,126.4 276.2,126.4 276.4,126.4 276.6,126.4 276.8,126.4 277,126.4 277.2,126.4 277.4,126.4 277.6,126.3 277.8,126.3 278,126.3 278.2,126.3 278.4,126.3 278.6,126.3 278.8,126.3 279,126.3 279.2,126.3 279.4,126.2 279.6,126.2 279.8,126.2 280,126.2 280.2,126.2 280.4,126.2 280.6,126.2 280.8,126.1 281,126.1 281.2,126.1 281.4,126.1 281.6,126.1 281.8,126.1 282,126.1 282.2,126 282.4,126 282.6,126 282.8,126 283,126 283.2,126 283.4,125.9 283.6,125.9 283.8,125.9 284,125.9 284.2,125.9 284.4,125.8 284.6,125.8 284.8,125.8 285,125.8 285.2,125.7 285.4,125.7 285.6,125.7 285.8,125.7 286,125.6 286.2,125.6 286.4,125.6 286.6,125.5 286.8,125.5 287,125.5 287.2,125.4 287.4,125.4 287.6,125.3 287.8,125.3 288,125.3 288.2,125.2 288.4,125.1 288.6,125.1 288.8,125 289,125 289.2,124.9 289.4,124.8 289.6,124.8 289.8,124.7 290,124.6 290.2,124.5 290.4,124.4 290.6,124.3 290.8,124.2 291,124.1 291.2,124 291.4,123.9 291.6,123.7 291.8,123.6 292,123.5 292.2,123.3 292.4,123.1 292.6,122.9 292.8,122.7 293,122.4 293.2,122.1 293.4,121.7 293.6,121.2 293.8,120.4 294,119.3 294.2,117.6 294.4,115 294.6,111.1 294.8,105.3 295,96.8 295.2,84.6 295.4,67.6 295.6,44.4 295.8,13.6 296,-2 296.2,-2 296.4,-2 296.6,-2 296.8,-2 297,-2 297.2,-2 297.4,-2 297.6,-2 297.8,-2 298,-2 298.2,-2 298.4,-2 298.6,-2 298.8,-2 299,-2 299.2,-2 299.4,-2 299.6,-2 299.8,-2 300,-2 300.2,-2 300.4,-2 300.6,-2 300.8,-2 301,-2 301.2,13.4 301.4,44.2 301.6,67.4 301.8,84.4 302,96.6 302.2,105.1 302.4,110.9 302.6,114.7 302.8,117.3 303,119 303.2,120.2 303.4,120.9 303.6,121.5 303.8,121.8 304,122.1 304.2,122.4 304.4,122.6 304.6,122.8 304.8,123 305,123.1 305.2,123.3 305.4,123.4 305.6,123.5 305.8,123.6 306,123.7 306.2,123.8 306.4,123.9 306.6,124 306.8,124.1 307,124.2 307.2,124.2 307.4,124.3 307.6,124.4 307.8,124.4 308,124.5 308.2,124.5 308.4,124.6 308.6,124.6 308.8,124.7 309,124.7 309.2,124.8 309.4,124.8 309.6,124.8 309.8,124.8 310,124.9 310.2,124.9 310.4,124.9 310.6,124.9 310.8,125 311,125 311.2,125 311.4,125 311.6,125 311.8,125.1 312,125.1 312.2,125.1 312.4,125.1 312.6,125.1 312.8,125.1 313,125.1 313.2,125.1 313.4,125.2 313.6,125.2 313.8,125.2 314,125.2 314.2,125.2 314.4,125.2 314.6,125.2 314.8,125.2 315,125.2 315.2,125.2 315.4,125.2 315.6,125.2 315.8,125.2 316,125.2 316.2,125.2 316.4,125.2 316.6,125.2 316.8,125.2 317,125.2 317.2,125.2 317.4,125.2 317.6,125.2 317.8,125.2 318,125.2 318.2,125.2 318.4,125.2 318.6,125.2 318.8,125.2 319,125.2 319.2,125.2 319.4,125.2 319.6,125.1 319.8,125.1 320,125.1 320.2,125.1 320.4,125.1 320.6,125 320.8,125 321,124.9 321.2,124.8 321.4,124.7 321.6,124.6 321.8,124.4 322,124.1 322.2,123.8 322.4,123.3 322.6,122.7 322.8,122 323,121.2 323.2,120.2 323.4,119.1 323.6,117.9 323.8,116.7 324,115.5 324.2,114.3 324.4,113.3 324.6,112.5 324.8,111.9 325,111.8 325.2,111.9 325.4,112.5 325.6,113.3 325.8,114.3 326,115.5 326.2,116.7 326.4,117.9 326.6,119.1 326.8,120.2 327,121.2 327.2,122 327.4,122.7 327.6,123.3 327.8,123.7 328,124.1 328.2,124.3 328.4,124.5 328.6,124.7 328.8,124.8 329,124.9 329.2,124.9 329.4,125 329.6,125 329.8,125 330,125 330.2,125.1 330.4,125.1 330.6,125.1 330.8,125.1 331,125.1 331.2,125.1 331.4,125.1 331.6,125.1 331.8,125.1 332,125.1 332.2,125.1 332.4,125.1 332.6,125.1 332.8,125.1 333,125.1 333.2,125.1 333.4,125.1 333.6,125.1 333.8,125.1 334,125.1 334.2,125.1 334.4,125.1 334.6,125.1 334.8,125.1 335,125.1 335.2,125.1 335.4,125.1 335.6,125.1 335.8,125.1 336,125.1 336.2,125.1 336.4,125.1 336.6,125.1 336.8,125.1 337,125.1 337.2,125.1 337.4,125.1 337.6,125.1 337.8,125.1 338,125.1 338.2,125.1 338.4,125.1 338.6,125.1 338.8,125 339,125 339.2,125 339.4,125 339.6,125 339.8,125 340,125 340.2,125 340.4,125 340.6,125 340.8,125 341,125 341.2,125 341.4,125 341.6,124.9 341.8,124.9 342,124.9 342.2,124.9 342.4,124.9 342.6,124.9 342.8,124.9 343,124.9 343.2,124.8 343.4,124.8 343.6,124.8 343.8,124.8 344,124.8 344.2,124.8 344.4,124.7 344.6,124.7 344.8,124.7 345,124.7 345.2,124.6 345.4,124.6 345.6,124.6 345.8,124.5 346,124.5 346.2,124.5 346.4,124.4 346.6,124.3 346.8,124.3 347,124.2 347.2,124.1 347.4,124 347.6,123.8 347.8,123.6 348,123.2 348.2,122.8 348.4,122.1 348.6,121.1 348.8,119.8 349,118.1 349.2,115.8 349.4,112.9 349.6,109.4 349.8,105.4 350,100.9 350.2,96.1 350.4,91.3 350.6,86.8 350.8,83 351,80.3 351.2,79.1 351.4,79.5 351.6,81.5 351.8,84.7 352,88.9 352.2,93.6 352.4,98.4 352.6,103.1 352.8,107.4 353,111.2 353.2,114.3 353.4,116.9 353.6,118.9 353.8,120.4 354,121.5 354.2,122.3 354.4,122.9 354.6,123.3 354.8,123.5 355,123.7 355.2,123.8 355.4,123.9 355.6,124 355.8,124.1 356,124.1 356.2,124.2 356.4,124.2 356.6,124.2 356.8,124.3 357,124.3 357.2,124.3 357.4,124.3 357.6,124.3 357.8,124.4 358,124.4 358.2,124.4 358.4,124.4 358.6,124.4 358.8,124.4 359,124.4 359.2,124.4 359.4,124.4 359.6,124.4 359.8,124.4 360,124.4 360.2,124.4 360.4,124.4 360.6,124.4 360.8,124.4 361,124.4 361.2,124.4 361.4,124.4 361.6,124.4 361.8,124.4 362,124.4 362.2,124.3 362.4,124.3 362.6,124.3 362.8,124.3 363,124.3 363.2,124.3 363.4,124.3 363.6,124.3 363.8,124.2 364,124.2 364.2,124.2 364.4,124.2 364.6,124.2 364.8,124.1 365,124.1 365.2,124.1 365.4,124.1 365.6,124 365.8,124 366,124 366.2,123.9 366.4,123.9 366.6,123.9 366.8,123.8 367,123.8 367.2,123.7 367.4,123.7 367.6,123.6 367.8,123.5 368,123.5 368.2,123.4 368.4,123.3 368.6,123.2 368.8,123.1 369,123 369.2,122.9 369.4,122.8 369.6,122.6 369.8,122.4 370,122.2 370.2,121.9 370.4,121.4 370.6,120.8 370.8,119.8 371,118.5 371.2,116.5 371.4,113.7 371.6,109.9 371.8,104.8 372,98.1 372.2,89.8 372.4,79.9 372.6,68.4 372.8,55.9 373,42.9 373.2,30.1 373.4,18.6 373.6,9.4 373.8,3.4 374,1.2 374.2,1.1 374.4,1 374.6,1 374.8,0.9 375,0.8 375.2,0.7 375.4,0.7 375.6,0.6 375.8,0.6 376,0.5 376.2,0.5 376.4,0.4 376.6,0.4 376.8,0.4 377,0.4 377.2,0.4 377.4,0.4 377.6,0.4 377.8,0.4 378,0.5 378.2,0.5 378.4,0.6 378.6,0.6 378.8,0.7 379,2.8 379.2,8.8 379.4,18 379.6,29.5 379.8,42.2 380,55.3 380.2,67.8 380.4,79.2 380.6,89.2 380.8,97.5 381,104.1 381.2,109.2 381.4,113.1 381.6,115.9 381.8,117.8 382,119.2 382.2,120.1 382.4,120.8 382.6,121.2 382.8,121.5 383,121.8 383.2,122 383.4,122.1 383.6,122.3 383.8,122.4 384,122.5 384.2,122.6 384.4,122.7 384.6,122.7 384.8,122.8 385,122.9 385.2,122.9 385.4,123 385.6,123.1 385.8,123.1 386,123.1 386.2,123.2 386.4,123.2 386.6,123.2 386.8,123.3 387,123.3 387.2,123.3 387.4,123.3 387.6,123.4 387.8,123.4 388,123.4 388.2,123.4 388.4,123.4 388.6,123.4 388.8,123.4 389,123.4 389.2,123.4 389.4,123.4 389.6,123.4 389.8,123.4 390,123.4 390.2,123.4 390.4,123.4 390.6,123.3 390.8,123.3 391,123.3 391.2,123.3 391.4,123.3 391.6,123.2 391.8,123.2 392,123.2 392.2,123.2 392.4,123.1 392.6,123.1 392.8,123 393,123 393.2,122.9 393.4,122.9 393.6,122.8 393.8,122.7 394,122.6 394.2,122.5 394.4,122.4 394.6,122.2 394.8,122 395,121.7 395.2,121.4 395.4,121 395.6,120.5 395.8,119.9 396,119.2 396.2,118.3 396.4,117.2 396.6,115.8 396.8,114.3 397,112.4 397.2,110.2 397.4,107.6 397.6,104.7 397.8,101.4 398,97.7 398.2,93.6 398.4,89.1 398.6,84.3 398.8,79.1 399,73.8 399.2,68.2 399.4,62.6 399.6,57 399.8,51.6 400,46.4 400.2,41.7 400.4,37.5 400.6,34 400.8,31.4 401,29.6 401.2,28.9 401.4,29.1 401.6,30.4 401.8,32.6 402,35.7 402.2,39.5 402.4,44 402.6,48.9 402.8,54.2 403,59.8 403.2,65.4 403.4,71 403.6,76.4 403.8,81.7 404,86.7 404.2,91.4 404.4,95.6 404.6,99.6 404.8,103.1 405,106.2 405.2,108.9 405.4,111.3 405.6,113.3 405.8,115 406,116.5 406.2,117.7 406.4,118.7 406.6,119.5 406.8,120.2 407,120.7 407.2,121.1 407.4,121.5 407.6,121.8 407.8,122 408,122.2 408.2,122.4 408.4,122.5 408.6,122.6 408.8,122.7 409,122.8 409.2,122.8 409.4,122.9 409.6,122.9 409.8,123 410,123 410.2,123.1 410.4,123.1 410.6,123.1 410.8,123.2 411,123.2 411.2,123.2 411.4,123.2 411.6,123.3 411.8,123.3 412,123.3 412.2,123.3 412.4,123.3 412.6,123.3 412.8,123.4 413,123.4 413.2,123.4 413.4,123.4 413.6,123.4 413.8,123.4 414,123.4 414.2,123.4 414.4,123.4 414.6,123.5 414.8,123.5 415,123.5 415.2,123.5 415.4,123.5 415.6,123.5 415.8,123.5 416,123.5 416.2,123.5 416.4,123.5 416.6,123.5 416.8,123.5 417,123.5 417.2,123.5 417.4,123.5 417.6,123.5 417.8,123.5 418,123.5 418.2,123.5 418.4,123.5 418.6,123.5 418.8,123.5 419,123.5 419.2,123.5 419.4,123.4 419.6,123.4 419.8,123.4 420,123.4 420.2,123.3 420.4,123.3 420.6,123.3 420.8,123.2 421,123.1 421.2,123 421.4,122.8 421.6,122.6 421.8,122.4 422,122 422.2,121.7 422.4,121.2 422.6,120.7 422.8,120.1 423,119.4 423.2,118.7 423.4,117.9 423.6,117.1 423.8,116.3 424,115.5 424.2,114.8 424.4,114.2 424.6,113.8 424.8,113.5 425,113.4 425.2,113.5 425.4,113.7 425.6,114.2 425.8,114.8 426,115.5 426.2,116.3 426.4,117.1 426.6,117.9 426.8,118.7 427,119.4 427.2,120.1 427.4,120.6 427.6,121.2 427.8,121.6 428,122 428.2,122.3 428.4,122.5 428.6,122.7 428.8,122.9 429,123 429.2,123.1 429.4,123.2 429.6,123.2 429.8,123.3 430,123.3 430.2,123.3 430.4,123.3 430.6,123.3 430.8,123.4 431,123.4 431.2,123.4 431.4,123.4 431.6,123.4 431.8,123.4 432,123.4 432.2,123.4 432.4,123.4 432.6,123.4 432.8,123.4 433,123.4 433.2,123.4 433.4,123.4 433.6,123.4 433.8,123.4 434,123.4 434.2,123.4 434.4,123.4 434.6,123.4 434.8,123.4 435,123.4 435.2,123.3 435.4,123.3 435.6,123.3 435.8,123.3 436,123.3 436.2,123.3 436.4,123.3 436.6,123.3 436.8,123.3 437,123.3 437.2,123.3 437.4,123.3 437.6,123.3 437.8,123.2 438,123.2 438.2,123.2 438.4,123.2 438.6,123.2 438.8,123.2 439,123.2 439.2,123.1 439.4,123.1 439.6,123.1 439.8,123.1 440,123.1 440.2,123 440.4,123 440.6,123 440.8,123 441,122.9 441.2,122.9 441.4,122.9 441.6,122.8 441.8,122.8 442,122.7 442.2,122.7 442.4,122.6 442.6,122.6 442.8,122.5 443,122.4 443.2,122.3 443.4,122.2 443.6,122.1 443.8,121.9 444,121.6 444.2,121.3 444.4,120.9 444.6,120.3 444.8,119.5 445,118.5 445.2,117.1 445.4,115.4 445.6,113.3 445.8,110.7 446,107.6 446.2,104 446.4,99.9 446.6,95.4 446.8,90.5 447,85.5 447.2,80.5 447.4,75.8 447.6,71.6 447.8,68.3 448,66 448.2,65 448.4,65.3 448.6,67 448.8,69.8 449,73.6 449.2,78.1 449.4,83 449.6,88 449.8,92.9 450,97.6 450.2,101.9 450.4,105.8 450.6,109.2 450.8,112 451,114.3 451.2,116.2 451.4,117.8 451.6,118.9 451.8,119.8 452,120.5 452.2,121 452.4,121.4 452.6,121.6 452.8,121.9 453,122 453.2,122.1 453.4,122.2 453.6,122.3 453.8,122.4 454,122.4 454.2,122.5 454.4,122.5 454.6,122.6 454.8,122.6 455,122.7 455.2,122.7 455.4,122.7 455.6,122.7 455.8,122.8 456,122.8 456.2,122.8 456.4,122.8 456.6,122.8 456.8,122.9 457,122.9 457.2,122.9 457.4,122.9 457.6,122.9 457.8,122.9 458,122.9 458.2,122.9 458.4,122.9 458.6,122.9 458.8,123 459,123 459.2,123 459.4,123 459.6,123 459.8,123 460,123 460.2,123 460.4,123 460.6,123 460.8,123 461,123 461.2,123 461.4,123 461.6,123 461.8,123 462,123 462.2,123 462.4,123 462.6,123 462.8,123 463,123 463.2,123 463.4,123 463.6,123 463.8,123 464,123 464.2,123 464.4,123 464.6,123 464.8,123 465,123 465.2,123 465.4,123 465.6,123 465.8,123 466,123 466.2,123 466.4,123 466.6,123 466.8,123 467,123 467.2,123 467.4,123 467.6,123 467.8,123 468,123 468.2,123 468.4,123 468.6,123 468.8,123 469,123 469.2,123 469.4,123 469.6,123 469.8,123 470,123 470.2,123 470.4,122.9 470.6,122.9 470.8,122.9 471,122.9 471.2,122.9 471.4,122.9 471.6,122.9 471.8,122.9 472,122.9 472.2,122.9 472.4,122.9 472.6,122.9 472.8,122.9 473,122.9 473.2,122.9 473.4,122.9 473.6,122.9 473.8,122.9 474,122.9 474.2,122.9 474.4,122.9 474.6,122.9 474.8,122.9 475,122.9 475.2,122.9 475.4,122.9 475.6,122.9 475.8,122.9 476,122.8 476.2,122.8 476.4,122.8 476.6,122.8 476.8,122.8 477,122.8 477.2,122.8 477.4,122.8 477.6,122.8 477.8,122.8 478,122.8 478.2,122.8 478.4,122.8 478.6,122.8 478.8,122.8 479,122.8 479.2,122.8 479.4,122.8 479.6,122.8 479.8,122.8 480,122.7 480.2,122.7 480.4,122.7 480.6,122.7 480.8,122.7 481,122.7 481.2,122.7 481.4,122.7 481.6,122.7 481.8,122.7 482,122.7 482.2,122.7 482.4,122.7 482.6,122.7 482.8,122.6 483,122.6 483.2,122.6 483.4,122.6 483.6,122.6 483.8,122.6 484,122.6 484.2,122.6 484.4,122.6 484.6,122.6 484.8,122.5 485,122.5 485.2,122.5 485.4,122.5 485.6,122.5 485.8,122.5 486,122.5 486.2,122.4 486.4,122.4 486.6,122.4 486.8,122.4 487,122.4 487.2,122.3 487.4,122.3 487.6,122.3 487.8,122.2 488,122.2 488.2,122.2 488.4,122.1 488.6,122 488.8,122 489,121.9 489.2,121.8 489.4,121.7 489.6,121.5 489.8,121.3 490,121.1 490.2,120.8 490.4,120.4 490.6,120 490.8,119.5 491,118.9 491.2,118.2 491.4,117.4 491.6,116.5 491.8,115.4 492,114.2 492.2,112.9 492.4,111.5 492.6,110 492.8,108.4 493,106.8 493.2,105.1 493.4,103.4 493.6,101.7 493.8,100.2 494,98.7 494.2,97.5 494.4,96.4 494.6,95.6 494.8,95.1 495,95 495.2,95.1 495.4,95.6 495.6,96.4 495.8,97.4 496,98.7 496.2,100.1 496.4,101.7 496.6,103.3 496.8,105 497,106.7 497.2,108.4 497.4,109.9 497.6,111.4 497.8,112.9 498,114.1 498.2,115.3 498.4,116.3 498.6,117.3 498.8,118.1 499,118.8 499.2,119.4 499.4,119.9 499.6,120.3 499.8,120.6 500,120.9 500.2,121.1 500.4,121.3 500.6,121.5 500.8,121.6 501,121.7 501.2,121.8 501.4,121.8 501.6,121.9 501.8,121.9 502,122 502.2,122 502.4,122 502.6,122.1 502.8,122.1 503,122.1 503.2,122.1 503.4,122.1 503.6,122.1 503.8,122.2 504,122.2 504.2,122.2 504.4,122.2 504.6,122.2 504.8,122.2 505,122.2 505.2,122.2 505.4,122.2 505.6,122.2 505.8,122.2 506,122.2" stroke="#000" stroke-width="3" fill="none" stroke-linejoin="round"/>
<defs><path id="ob" d="M39.5 297.8h0M39.9 291.2h0M40.3 295.9h0M40.7 298.3h0M41.1 294.1h0M41.4 297.9h0M41.8 300h0M42.2 297.6h0M42.6 291.8h0M43 298h0M43.4 298.1h0M43.8 295.3h0M44.2 293.7h0M44.6 289.6h0M44.9 290.9h0M45.3 295h0M45.7 295.7h0M46.1 291.8h0M46.5 291h0M46.9 294.7h0M47.3 297.2h0M47.7 296.6h0M48 292.2h0M48.4 298.1h0M48.8 296.3h0M49.2 294h0M49.6 293.9h0M50 294.9h0M50.4 294.4h0M50.8 292h0M51.2 294.8h0M51.5 290.5h0M51.9 290.6h0M52.3 297.6h0M52.7 295.3h0M53.1 291.6h0M53.5 293.7h0M53.9 293.4h0M54.3 295.4h0M54.7 295h0M55 296.9h0M55.4 293.8h0M55.8 297.3h0M56.2 295.2h0M56.6 289.3h0M57 291.3h0M57.4 295.3h0M57.8 295.6h0M58.1 294.2h0M58.5 292.3h0M58.9 289.2h0M59.3 294.8h0M59.7 288.2h0M60.1 293.7h0M60.5 291.8h0M60.9 293.2h0M61.3 294.8h0M61.6 293.9h0M62 293.6h0M62.4 290.1h0M62.8 289.6h0M63.2 289.6h0M63.6 292.1h0M64 296.6h0M64.4 295.7h0M64.8 290.8h0M65.1 296.3h0M65.5 290.2h0M65.9 295.7h0M66.3 291.4h0M66.7 295.5h0M67.1 293.9h0M67.5 292.4h0M67.9 292.1h0M68.2 291.2h0M68.6 290.8h0M69 294.4h0M69.4 294.9h0M69.8 291.4h0M70.2 295.2h0M70.6 294.2h0M71 293.4h0M71.4 290h0M71.7 292.9h0M72.1 292.1h0M72.5 288h0M72.9 292.9h0M73.3 288.4h0M73.7 291.4h0M74.1 292.3h0M74.5 288.2h0M74.9 289.3h0M75.2 294.2h0M75.6 286.7h0M76 291.8h0M76.4 290.5h0M76.8 291.5h0M77.2 292.6h0M77.6 290.7h0M78 290.5h0M78.4 290.9h0M78.7 293h0M79.1 289.1h0M79.5 288.4h0M79.9 289.9h0M80.3 286.1h0M80.7 289.7h0M81.1 287h0M81.5 290.5h0M81.8 287.6h0M82.2 284.7h0M82.6 281.2h0M83 278.8h0M83.4 262.7h0M83.8 253.7h0M84.2 244h0M84.6 225.1h0M85 213.9h0M85.3 202.9h0M85.7 204.5h0M86.1 214.8h0M86.5 228.1h0M86.9 241.7h0M87.3 260.7h0M87.7 271.4h0M88.1 278.8h0M88.5 278.7h0M88.8 283.6h0M89.2 288.8h0M89.6 291.1h0M90 285.7h0M90.4 287.7h0M90.8 291.1h0M91.2 292.4h0M91.6 285.9h0M91.9 285.5h0M92.3 293.1h0M92.7 288.4h0M93.1 292.2h0M93.5 287.1h0M93.9 288.4h0M94.3 292.9h0M94.7 292.6h0M95.1 287.2h0M95.4 291.7h0M95.8 286.6h0M96.2 293.3h0M96.6 286.4h0M97 285.8h0M97.4 290h0M97.8 293h0M98.2 285.9h0M98.6 291.7h0M98.9 291.5h0M99.3 291.9h0M99.7 288.1h0M100.1 290.7h0M100.5 287.7h0M100.9 288.3h0M101.3 288.3h0M101.7 290.7h0M102 292.8h0M102.4 289.5h0M102.8 292.7h0M103.2 291.5h0M103.6 290.4h0M104 288.3h0M104.4 288h0M104.8 287.8h0M105.2 290.1h0M105.5 290.9h0M105.9 285.6h0M106.3 283.2h0M106.7 285.5h0M107.1 284h0M107.5 288.8h0M107.9 288.3h0M108.3 285.4h0M108.7 286.3h0M109 290.3h0M109.4 288.6h0M109.8 289.9h0M110.2 285.8h0M110.6 288.2h0M111 284.7h0M111.4 289.1h0M111.8 279.5h0M112.1 285.3h0M112.5 280.2h0M112.9 282.2h0M113.3 284.7h0M113.7 278.2h0M114.1 280.6h0M114.5 278.3h0M114.9 279.9h0M115.3 280.5h0M115.6 280.2h0M116 279.4h0M116.4 272.1h0M116.8 269.9h0M117.2 272.4h0M117.6 263.8h0M118 256.7h0M118.4 263.1h0M118.8 253.8h0M119.1 255.6h0M119.5 256.5h0M119.9 260.2h0M120.3 266.3h0M120.7 264.6h0M121.1 256.8h0M121.5 265.9h0M121.9 254.4h0M122.3 263.8h0M122.6 256.6h0M123 259.5h0M123.4 265.1h0M123.8 264.4h0M124.2 261.5h0M124.6 256.3h0M125 259.6h0M125.4 272.5h0M125.7 272.7h0M126.1 275.9h0M126.5 274.6h0M126.9 273.2h0M127.3 271.7h0M127.7 269h0M128.1 247.8h0M128.5 221.5h0M128.9 175.4h0M129.2 149h0M129.6 149h0M130 149h0M130.4 149h0M130.8 149h0M131.2 149h0M131.6 149h0M132 149h0M132.4 149h0M132.7 149h0M133.1 149h0M133.5 149h0M133.9 149h0M134.3 149h0M134.7 179.8h0M135.1 217.3h0M135.5 246h0M135.8 259.5h0M136.2 267.3h0M136.6 271.3h0M137 272.5h0M137.4 277.8h0M137.8 277.3h0M138.2 273.6h0M138.6 277h0M139 274.2h0M139.3 278.9h0M139.7 280.6h0M140.1 279.7h0M140.5 283.3h0M140.9 285.2h0M141.3 277.7h0M141.7 284.8h0M142.1 285.8h0M142.5 280.1h0M142.8 281.7h0M143.2 279.7h0M143.6 287.7h0M144 282.1h0M144.4 284h0M144.8 284.7h0M145.2 287.7h0M145.6 286.4h0M145.9 289.3h0M146.3 286h0M146.7 282.5h0M147.1 287.1h0M147.5 283.9h0M147.9 282.9h0M148.3 285.7h0M148.7 284.7h0M149.1 284.8h0M149.4 289.1h0M149.8 283.1h0M150.2 281h0M150.6 281h0M151 283.8h0M151.4 290.2h0M151.8 287.7h0M152.2 283.3h0M152.6 288.3h0M152.9 289.1h0M153.3 284.1h0M153.7 283.5h0M154.1 286.8h0M154.5 281.7h0M154.9 282.3h0M155.3 285.2h0M155.7 283.4h0M156.1 281.5h0M156.4 285.8h0M156.8 288h0M157.2 279.7h0M157.6 283.6h0M158 284.6h0M158.4 286.9h0M158.8 284.7h0M159.2 279.1h0M159.5 280.2h0M159.9 279.2h0M160.3 283.9h0M160.7 285.7h0M161.1 284h0M161.5 284.4h0M161.9 283.1h0M162.3 285.1h0M162.7 278.9h0M163 282.3h0M163.4 274.4h0M163.8 278.3h0M164.2 278.2h0M164.6 278.3h0M165 278.9h0M165.4 279h0M165.8 274.7h0M166.2 274.6h0M166.5 269.8h0M166.9 267.4h0M167.3 246.6h0M167.7 214h0M168.1 158.3h0M168.5 149h0M168.9 149h0M169.3 149h0M169.6 149h0M170 149h0M170.4 149h0M170.8 149h0M171.2 149h0M171.6 149h0M172 149h0M172.4 149h0M172.8 149h0M173.1 149h0M173.5 178.1h0M173.9 231.5h0M174.3 255.9h0M174.7 266.8h0M175.1 270.6h0M175.5 271.4h0M175.9 275.1h0M176.3 281.9h0M176.6 274.4h0M177 283.9h0M177.4 279h0M177.8 283.2h0M178.2 277.5h0M178.6 282h0M179 286.8h0M179.4 286.7h0M179.7 281.8h0M180.1 281h0M180.5 282.8h0M180.9 283.2h0M181.3 283.6h0M181.7 280.1h0M182.1 287h0M182.5 284.3h0M182.9 283.1h0M183.2 281.3h0M183.6 281.5h0M184 286.7h0M184.4 287.1h0M184.8 285.5h0M185.2 284.5h0M185.6 286.1h0M186 283.4h0M186.4 286.3h0M186.7 288h0M187.1 287.9h0M187.5 284.1h0M187.9 285.8h0M188.3 281.1h0M188.7 287.7h0M189.1 284.4h0M189.5 282h0M189.8 289.1h0M190.2 282.4h0M190.6 283.6h0M191 289.9h0M191.4 283.5h0M191.8 284.4h0M192.2 287.9h0M192.6 281.3h0M193 283.2h0M193.3 280.9h0M193.7 286.1h0M194.1 283.6h0M194.5 283h0M194.9 279h0M195.3 278.4h0M195.7 283.7h0M196.1 280.9h0M196.5 277.2h0M196.8 271.4h0M197.2 276.5h0M197.6 274.8h0M198 272.3h0M198.4 281.5h0M198.8 283h0M199.2 278.8h0M199.6 282.7h0M200 281.2h0M200.3 281h0M200.7 284.2h0M201.1 283.8h0M201.5 280.2h0M201.9 280.7h0M202.3 288.9h0M202.7 283.4h0M203.1 285.5h0M203.4 283.4h0M203.8 288.5h0M204.2 288h0M204.6 282.3h0M205 289.2h0M205.4 288.5h0M205.8 287.1h0M206.2 286.3h0M206.6 283.3h0M206.9 287.1h0M207.3 282.3h0M207.7 286.1h0M208.1 286.7h0M208.5 289.9h0M208.9 286h0M209.3 291.3h0M209.7 285h0M210.1 291.3h0M210.4 284.4h0M210.8 284.6h0M211.2 290.4h0M211.6 284.1h0M212 285.7h0M212.4 288.7h0M212.8 289.6h0M213.2 286.5h0M213.5 285.8h0M213.9 288.1h0M214.3 284.9h0M214.7 282.3h0M215.1 285.1h0M215.5 282.4h0M215.9 285.4h0M216.3 282.7h0M216.7 284.8h0M217 283h0M217.4 287h0M217.8 283.7h0M218.2 282.7h0M218.6 284.4h0M219 288.4h0M219.4 283.9h0M219.8 284.8h0M220.2 284.7h0M220.5 285.3h0M220.9 287.9h0M221.3 283.8h0M221.7 286.9h0M222.1 289.1h0M222.5 289.5h0M222.9 282.9h0M223.3 283.8h0M223.6 284.8h0M224 283.1h0M224.4 288.4h0M224.8 281.6h0M225.2 283.2h0M225.6 288.6h0M226 286.1h0M226.4 283.2h0M226.8 287.1h0M227.1 281.4h0M227.5 281.5h0M227.9 284h0M228.3 285.6h0M228.7 286.5h0M229.1 283.7h0M229.5 282.7h0M229.9 280.9h0M230.3 281.3h0M230.6 280.9h0M231 287.8h0M231.4 283.4h0M231.8 280.1h0M232.2 280.9h0M232.6 284.1h0M233 282.3h0M233.4 285.9h0M233.7 285.7h0M234.1 284.5h0M234.5 282h0M234.9 281.2h0M235.3 282.1h0M235.7 278.8h0M236.1 272.9h0M236.5 260h0M236.9 252.2h0M237.2 235.1h0M237.6 223.3h0M238 208h0M238.4 199.7h0M238.8 190.1h0M239.2 198.1h0M239.6 215h0M240 225.8h0M240.4 245.7h0M240.7 253.7h0M241.1 263.9h0M241.5 274.2h0M241.9 281.7h0M242.3 284.7h0M242.7 280.7h0M243.1 285h0M243.5 283.4h0M243.9 284.3h0M244.2 287.9h0M244.6 288.1h0M245 282.9h0M245.4 282.6h0M245.8 285.2h0M246.2 283.2h0M246.6 280.8h0M247 281.4h0M247.3 287.7h0M247.7 281.6h0M248.1 287.8h0M248.5 288.9h0M248.9 289.4h0M249.3 289.5h0M249.7 287.4h0M250.1 287.1h0M250.5 284.8h0M250.8 285.9h0M251.2 281.4h0M251.6 288.7h0M252 288.6h0M252.4 288.8h0M252.8 288.5h0M253.2 287.8h0M253.6 286.9h0M254 287.6h0M254.3 281.2h0M254.7 286.6h0M255.1 288h0M255.5 283.6h0M255.9 285.4h0M256.3 282.2h0M256.7 286.7h0M257.1 285.2h0M257.4 281h0M257.8 282.7h0M258.2 279.8h0M258.6 278.6h0M259 280.3h0M259.4 280.6h0M259.8 285.9h0M260.2 284.4h0M260.6 284.6h0M260.9 285.7h0M261.3 282.2h0M261.7 279.8h0M262.1 284.8h0M262.5 286.7h0M262.9 285.7h0M263.3 286.6h0M263.7 282.9h0M264.1 278.2h0M264.4 285h0M264.8 282.8h0M265.2 284.7h0M265.6 283.1h0M266 285.6h0M266.4 285h0M266.8 286.5h0M267.2 282.3h0M267.5 282.3h0M267.9 287.7h0M268.3 284.9h0M268.7 280.1h0M269.1 280.2h0M269.5 284.5h0M269.9 281.8h0M270.3 287.4h0M270.7 281.2h0M271 279.8h0M271.4 281.9h0M271.8 284.2h0M272.2 284.2h0M272.6 280.2h0M273 286.3h0M273.4 286.1h0M273.8 286.7h0M274.2 285.1h0M274.5 285.4h0M274.9 286.2h0M275.3 280.9h0M275.7 284.3h0M276.1 280.2h0M276.5 286.9h0M276.9 286.7h0M277.3 281.6h0M277.7 281h0M278 280.8h0M278.4 281.5h0M278.8 284.8h0M279.2 287.6h0M279.6 287.1h0M280 279.8h0M280.4 284.6h0M280.8 287.7h0M281.1 280.6h0M281.5 279.2h0M281.9 285.5h0M282.3 286.3h0M282.7 283.6h0M283.1 285.1h0M283.5 279.2h0M283.9 283.8h0M284.3 278.6h0M284.6 280.3h0M285 283.5h0M285.4 280.9h0M285.8 278.5h0M286.2 278.9h0M286.6 283.3h0M287 276h0M287.4 284.7h0M287.8 281.1h0M288.1 275.1h0M288.5 280h0M288.9 280h0M289.3 276.5h0M289.7 276h0M290.1 278.3h0M290.5 277.3h0M290.9 275.3h0M291.2 280.4h0M291.6 272.2h0M292 277.2h0M292.4 277.7h0M292.8 272.4h0M293.2 276.2h0M293.6 269.8h0M294 275h0M294.4 271.8h0M294.7 257.4h0M295.1 244.6h0M295.5 201.1h0M295.9 149h0M296.3 149h0M296.7 149h0M297.1 149h0M297.5 149h0M297.9 149h0M298.2 149h0M298.6 149h0M299 149h0M299.4 149h0M299.8 149h0M300.2 149h0M300.6 149h0M301 149h0M301.3 188.4h0M301.7 230.2h0M302.1 249.6h0M302.5 269.3h0M302.9 275.3h0M303.3 269.8h0M303.7 277.2h0M304.1 271h0M304.5 272.7h0M304.8 278.3h0M305.2 277.7h0M305.6 275.1h0M306 275.6h0M306.4 281.8h0M306.8 281.9h0M307.2 275.8h0M307.6 279.5h0M308 282.1h0M308.3 283.4h0M308.7 282.9h0M309.1 282.9h0M309.5 278.4h0M309.9 275.4h0M310.3 284.2h0M310.7 277h0M311.1 282.6h0M311.4 280.6h0M311.8 276h0M312.2 278.2h0M312.6 281.2h0M313 275.7h0M313.4 269.9h0M313.8 272.7h0M314.2 274.8h0M314.6 271.8h0M314.9 265.9h0M315.3 258h0M315.7 259.4h0M316.1 252.6h0M316.5 249.3h0M316.9 246.3h0M317.3 254h0M317.7 250.1h0M318.1 244.1h0M318.4 245.9h0M318.8 252.4h0M319.2 253.8h0M319.6 254h0M320 262h0M320.4 258.1h0M320.8 258.3h0M321.2 271.1h0M321.6 265h0M321.9 265.2h0M322.3 275.4h0M322.7 268.1h0M323.1 274.2h0M323.5 277.4h0M323.9 275.7h0M324.3 270.5h0M324.7 274.9h0M325 274.2h0M325.4 277.6h0M325.8 275.5h0M326.2 274.8h0M326.6 274.7h0M327 275.1h0M327.4 276.4h0M327.8 283h0M328.2 279.3h0M328.5 280.8h0M328.9 285.6h0M329.3 286.6h0M329.7 282.8h0M330.1 282h0M330.5 281.8h0M330.9 279.3h0M331.3 283h0M331.7 278.2h0M332 280.5h0M332.4 284.2h0M332.8 281.7h0M333.2 281.2h0M333.6 281.1h0M334 278.1h0M334.4 284.1h0M334.8 285h0M335.1 281.2h0M335.5 281.1h0M335.9 278.3h0M336.3 280h0M336.7 279.7h0M337.1 278.9h0M337.5 283.4h0M337.9 283h0M338.3 282.8h0M338.6 279.8h0M339 278.6h0M339.4 283.1h0M339.8 281.4h0M340.2 280.4h0M340.6 279.1h0M341 279.5h0M341.4 277.5h0M341.8 283.5h0M342.1 284.4h0M342.5 281.3h0M342.9 276.2h0M343.3 281.2h0M343.7 282.8h0M344.1 279.5h0M344.5 281.2h0M344.9 280.1h0M345.2 276.2h0M345.6 280.8h0M346 283.3h0M346.4 279h0M346.8 278.3h0M347.2 277.1h0M347.6 281.8h0M348 276.8h0M348.4 274.5h0M348.7 280.1h0M349.1 280.2h0M349.5 274.5h0M349.9 269.6h0M350.3 268.5h0M350.7 263.7h0M351.1 266.4h0M351.5 268.3h0M351.9 268.2h0M352.2 270.2h0M352.6 270.8h0M353 270.6h0M353.4 277.4h0M353.8 274.5h0M354.2 276.1h0M354.6 279.5h0M355 277.2h0M355.4 281.6h0M355.7 281.6h0M356.1 279.7h0M356.5 279h0M356.9 279.9h0M357.3 282.5h0M357.7 278.9h0M358.1 284.7h0M358.5 281.8h0M358.8 281.4h0M359.2 284.5h0M359.6 282.6h0M360 277.2h0M360.4 278h0M360.8 277.7h0M361.2 278.5h0M361.6 276.3h0M362 277.5h0M362.3 278.8h0M362.7 280.2h0M363.1 283.7h0M363.5 281.1h0M363.9 278.3h0M364.3 279h0M364.7 283.4h0M365.1 279.4h0M365.5 282.1h0M365.8 277.5h0M366.2 276.8h0M366.6 275.9h0M367 275.4h0M367.4 279.2h0M367.8 281.1h0M368.2 274.4h0M368.6 276h0M368.9 272.5h0M369.3 271.7h0M369.7 270.6h0M370.1 271.8h0M370.5 271.7h0M370.9 269.7h0M371.3 273.2h0M371.7 270.2h0M372.1 269.6h0M372.4 269.9h0M372.8 261.7h0M373.2 257.2h0M373.6 255.6h0M374 245.1h0M374.4 238.2h0M374.8 216.1h0M375.2 180h0M375.6 149h0M375.9 149h0M376.3 149h0M376.7 149h0M377.1 149h0M377.5 149h0M377.9 149h0M378.3 149h0M378.7 149h0M379 158.1h0M379.4 198.8h0M379.8 222.3h0M380.2 236.6h0M380.6 250.8h0M381 261.8h0M381.4 261.8h0M381.8 266h0M382.2 263h0M382.5 263.8h0M382.9 273.7h0M383.3 266.7h0M383.7 274.4h0M384.1 275.4h0M384.5 269.6h0M384.9 276.8h0M385.3 273.1h0M385.7 276.3h0M386 276h0M386.4 273.4h0M386.8 277h0M387.2 277.9h0M387.6 277.4h0M388 279.9h0M388.4 277.1h0M388.8 280.7h0M389.1 279.7h0M389.5 275.1h0M389.9 273.6h0M390.3 278.1h0M390.7 277.5h0M391.1 274.7h0M391.5 275.2h0M391.9 275.2h0M392.3 274.6h0M392.6 277.1h0M393 278.4h0M393.4 278.3h0M393.8 279.8h0M394.2 276.7h0M394.6 273.9h0M395 276.1h0M395.4 275.3h0M395.8 273h0M396.1 274.3h0M396.5 277.4h0M396.9 277h0M397.3 267.4h0M397.7 271.8h0M398.1 268.5h0M398.5 260.1h0M398.9 247.1h0M399.3 237h0M399.6 221.9h0M400 207.4h0M400.4 184.3h0M400.8 172.1h0M401.2 169h0M401.6 173.7h0M402 185.1h0M402.4 200.9h0M402.7 216.4h0M403.1 234.5h0M403.5 248.2h0M403.9 252.5h0M404.3 261.4h0M404.7 270.8h0M405.1 271.7h0M405.5 270.8h0M405.9 272.6h0M406.2 275.6h0M406.6 272.7h0M407 272.7h0M407.4 275.8h0M407.8 280.3h0M408.2 275.1h0M408.6 280.4h0M409 274.8h0M409.4 281.7h0M409.7 280h0M410.1 275.1h0M410.5 276.6h0M410.9 277.3h0M411.3 275.3h0M411.7 281.8h0M412.1 278.4h0M412.5 283.6h0M412.8 282.8h0M413.2 283h0M413.6 280.4h0M414 275.3h0M414.4 279.7h0M414.8 273.7h0M415.2 277h0M415.6 276.6h0M416 272.6h0M416.3 276.4h0M416.7 272.7h0M417.1 277.8h0M417.5 269.6h0M417.9 275.8h0M418.3 270.5h0M418.7 272h0M419.1 268.5h0M419.5 273.2h0M419.8 272.9h0M420.2 267.8h0M420.6 271.4h0M421 271.5h0M421.4 271.1h0M421.8 277.3h0M422.2 274h0M422.6 280.6h0M422.9 279.1h0M423.3 277.9h0M423.7 280.4h0M424.1 278.9h0M424.5 279.9h0M424.9 283.9h0M425.3 281.7h0M425.7 278.7h0M426.1 286h0M426.4 286.8h0M426.8 282.8h0M427.2 281.5h0M427.6 281.4h0M428 283.7h0M428.4 279.1h0M428.8 284.6h0M429.2 284.4h0M429.6 282.1h0M429.9 277.5h0M430.3 278.3h0M430.7 286h0M431.1 283.2h0M431.5 284.6h0M431.9 279.4h0M432.3 281.4h0M432.7 283.5h0M433.1 279.4h0M433.4 282.1h0M433.8 277.9h0M434.2 279.6h0M434.6 281.5h0M435 285.6h0M435.4 283.2h0M435.8 284.5h0M436.2 282.4h0M436.5 276.5h0M436.9 280.7h0M437.3 282.3h0M437.7 282.2h0M438.1 276.7h0M438.5 280.8h0M438.9 279.1h0M439.3 276.2h0M439.7 276.4h0M440 275.2h0M440.4 279.8h0M440.8 276.4h0M441.2 282.7h0M441.6 278.6h0M442 276.3h0M442.4 276.1h0M442.8 274.9h0M443.2 276h0M443.5 281.6h0M443.9 280.2h0M444.3 276.5h0M444.7 275.1h0M445.1 268.4h0M445.5 270.9h0M445.9 266.1h0M446.3 257.6h0M446.6 261.6h0M447 248.2h0M447.4 248.3h0M447.8 241.7h0M448.2 245.5h0M448.6 244h0M449 243.7h0M449.4 255.2h0M449.8 252.1h0M450.1 255.8h0M450.5 261.6h0M450.9 263.6h0M451.3 273h0M451.7 268.7h0M452.1 278.4h0M452.5 277.8h0M452.9 274.1h0M453.3 281.8h0M453.6 281.1h0M454 277.8h0M454.4 278h0M454.8 279.1h0M455.2 282h0M455.6 281.5h0M456 277.7h0M456.4 280.7h0M456.7 283.8h0M457.1 281.6h0M457.5 276.2h0M457.9 276.5h0M458.3 276.7h0M458.7 278.8h0M459.1 277.1h0M459.5 281.4h0M459.9 282.1h0M460.2 276.5h0M460.6 277.4h0M461 273.8h0M461.4 271.3h0M461.8 269.8h0M462.2 274.2h0M462.6 266.2h0M463 269.3h0M463.4 263.3h0M463.7 260.7h0M464.1 263.8h0M464.5 263.9h0M464.9 258.5h0M465.3 265h0M465.7 265.8h0M466.1 268.3h0M466.5 271.3h0M466.8 270.9h0M467.2 270.8h0M467.6 267.6h0M468 275h0M468.4 274h0M468.8 277.3h0M469.2 276.1h0M469.6 274.7h0M470 282.5h0M470.3 283.8h0M470.7 278.8h0M471.1 284.2h0M471.5 276.2h0M471.9 275.3h0M472.3 283.3h0M472.7 275.9h0M473.1 276.4h0M473.5 284.4h0M473.8 284.5h0M474.2 283.1h0M474.6 280.8h0M475 281.3h0M475.4 277.5h0M475.8 279.8h0M476.2 278.7h0M476.6 282.8h0M477 277.3h0M477.3 278.8h0M477.7 282.4h0M478.1 279.9h0M478.5 277.9h0M478.9 281.6h0M479.3 283.1h0M479.7 279.5h0M480.1 284.6h0M480.4 280.3h0M480.8 276.3h0M481.2 277.2h0M481.6 280.4h0M482 280.8h0M482.4 278.4h0M482.8 282.9h0M483.2 279.4h0M483.6 281.1h0M483.9 276.8h0M484.3 279.7h0M484.7 276.6h0M485.1 276.7h0M485.5 276.9h0M485.9 276.1h0M486.3 276.6h0M486.7 274.8h0M487.1 280.4h0M487.4 282.3h0M487.8 276.1h0M488.2 279.5h0M488.6 280h0M489 276h0M489.4 274.2h0M489.8 274.1h0M490.2 281h0M490.5 281.1h0M490.9 276.1h0M491.3 271.5h0M491.7 267.9h0M492.1 261.1h0M492.5 261.7h0M492.9 262.4h0M493.3 256.9h0M493.7 244.2h0M494 245.1h0M494.4 241.6h0M494.8 234.1h0M495.2 231.1h0M495.6 241.8h0M496 246.5h0M496.4 248.6h0M496.8 255.4h0M497.2 260.7h0M497.5 263.4h0M497.9 267.6h0M498.3 273.8h0M498.7 269.6h0M499.1 272.2h0M499.5 278.2h0M499.9 274.5h0M500.3 279.1h0M500.6 277.8h0M501 275.3h0M501.4 275.1h0M501.8 279.1h0M502.2 278h0M502.6 277.9h0M503 278.2h0M503.4 281.6h0M503.8 283h0M504.1 274.5h0M504.5 281.2h0M504.9 282.5h0M505.3 282.4h0M505.7 281.5h0"/></defs>
<g clip-path="url(#cb)" fill="none" stroke-linecap="round"><use href="#ob" stroke="#b80000" stroke-width="7.9"/><path d="M113.5 288.2 L115 265 L116.2 256 Q116.8 251 118.6 251 L124 251.5 Q126.8 251.5 126.8 254 L126.8 288.2 Z" fill="#ff0000" stroke="#b80000" stroke-width="0.7"/><use href="#ob" stroke="#ff0000" stroke-width="6.5"/></g>
<polyline clip-path="url(#cb)" points="40,290 40.2,289.9 40.4,289.9 40.6,289.9 40.8,289.9 41,289.9 41.2,289.9 41.4,289.9 41.6,289.9 41.8,289.9 42,289.9 42.2,289.9 42.4,289.9 42.6,289.8 42.8,289.8 43,289.8 43.2,289.8 43.4,289.8 43.6,289.8 43.8,289.8 44,289.8 44.2,289.8 44.4,289.8 44.6,289.8 44.8,289.8 45,289.8 45.2,289.7 45.4,289.7 45.6,289.7 45.8,289.7 46,289.7 46.2,289.7 46.4,289.7 46.6,289.7 46.8,289.7 47,289.7 47.2,289.7 47.4,289.7 47.6,289.7 47.8,289.6 48,289.6 48.2,289.6 48.4,289.6 48.6,289.6 48.8,289.6 49,289.6 49.2,289.6 49.4,289.6 49.6,289.6 49.8,289.6 50,289.6 50.2,289.5 50.4,289.5 50.6,289.5 50.8,289.5 51,289.5 51.2,289.5 51.4,289.5 51.6,289.5 51.8,289.5 52,289.5 52.2,289.5 52.4,289.5 52.6,289.5 52.8,289.4 53,289.4 53.2,289.4 53.4,289.4 53.6,289.4 53.8,289.4 54,289.4 54.2,289.4 54.4,289.4 54.6,289.4 54.8,289.4 55,289.4 55.2,289.3 55.4,289.3 55.6,289.3 55.8,289.3 56,289.3 56.2,289.3 56.4,289.3 56.6,289.3 56.8,289.3 57,289.3 57.2,289.3 57.4,289.3 57.6,289.2 57.8,289.2 58,289.2 58.2,289.2 58.4,289.2 58.6,289.2 58.8,289.2 59,289.2 59.2,289.2 59.4,289.2 59.6,289.2 59.8,289.2 60,289.1 60.2,289.1 60.4,289.1 60.6,289.1 60.8,289.1 61,289.1 61.2,289.1 61.4,289.1 61.6,289.1 61.8,289.1 62,289.1 62.2,289 62.4,289 62.6,289 62.8,289 63,289 63.2,289 63.4,289 63.6,289 63.8,289 64,289 64.2,289 64.4,288.9 64.6,288.9 64.8,288.9 65,288.9 65.2,288.9 65.4,288.9 65.6,288.9 65.8,288.9 66,288.9 66.2,288.9 66.4,288.8 66.6,288.8 66.8,288.8 67,288.8 67.2,288.8 67.4,288.8 67.6,288.8 67.8,288.8 68,288.8 68.2,288.8 68.4,288.7 68.6,288.7 68.8,288.7 69,288.7 69.2,288.7 69.4,288.7 69.6,288.7 69.8,288.7 70,288.7 70.2,288.6 70.4,288.6 70.6,288.6 70.8,288.6 71,288.6 71.2,288.6 71.4,288.6 71.6,288.5 71.8,288.5 72,288.5 72.2,288.5 72.4,288.5 72.6,288.5 72.8,288.5 73,288.4 73.2,288.4 73.4,288.4 73.6,288.4 73.8,288.4 74,288.4 74.2,288.3 74.4,288.3 74.6,288.3 74.8,288.3 75,288.3 75.2,288.2 75.4,288.2 75.6,288.2 75.8,288.2 76,288.1 76.2,288.1 76.4,288.1 76.6,288.1 76.8,288 77,288 77.2,288 77.4,287.9 77.6,287.9 77.8,287.9 78,287.8 78.2,287.8 78.4,287.7 78.6,287.7 78.8,287.6 79,287.6 79.2,287.5 79.4,287.4 79.6,287.4 79.8,287.3 80,287.2 80.2,287.1 80.4,286.9 80.6,286.8 80.8,286.6 81,286.4 81.2,286.2 81.4,285.8 81.6,285.4 81.8,284.7 82,283.9 82.2,282.7 82.4,281.2 82.6,279.1 82.8,276.4 83,273 83.2,268.8 83.4,263.7 83.6,257.7 83.8,250.9 84,243.3 84.2,235.3 84.4,227.1 84.6,219.1 84.8,211.7 85,205.6 85.2,201.1 85.4,198.7 85.6,198.7 85.8,201 86,205.5 86.2,211.6 86.4,218.9 86.6,226.9 86.8,235.1 87,243.2 87.2,250.7 87.4,257.5 87.6,263.5 87.8,268.5 88,272.7 88.2,276.1 88.4,278.7 88.6,280.8 88.8,282.3 89,283.4 89.2,284.3 89.4,284.9 89.6,285.3 89.8,285.6 90,285.9 90.2,286.1 90.4,286.2 90.6,286.3 90.8,286.4 91,286.5 91.2,286.6 91.4,286.6 91.6,286.7 91.8,286.7 92,286.8 92.2,286.8 92.4,286.9 92.6,286.9 92.8,286.9 93,286.9 93.2,287 93.4,287 93.6,287 93.8,287 94,287 94.2,287 94.4,287 94.6,287 94.8,287.1 95,287.1 95.2,287.1 95.4,287.1 95.6,287.1 95.8,287.1 96,287.1 96.2,287.1 96.4,287.1 96.6,287.1 96.8,287.1 97,287.1 97.2,287.1 97.4,287.1 97.6,287.1 97.8,287.1 98,287 98.2,287 98.4,287 98.6,287 98.8,287 99,287 99.2,287 99.4,287 99.6,287 99.8,287 100,287 100.2,287 100.4,287 100.6,287 100.8,286.9 101,286.9 101.2,286.9 101.4,286.9 101.6,286.9 101.8,286.9 102,286.9 102.2,286.9 102.4,286.9 102.6,286.9 102.8,286.8 103,286.8 103.2,286.8 103.4,286.8 103.6,286.8 103.8,286.8 104,286.8 104.2,286.8 104.4,286.7 104.6,286.7 104.8,286.7 105,286.7 105.2,286.7 105.4,286.7 105.6,286.7 105.8,286.7 106,286.6 106.2,286.6 106.4,286.6 106.6,286.6 106.8,286.6 107,286.6 107.2,286.6 107.4,286.6 107.6,286.5 107.8,286.5 108,286.5 108.2,286.5 108.4,286.5 108.6,286.5 108.8,286.5 109,286.4 109.2,286.4 109.4,286.4 109.6,286.4 109.8,286.4 110,286.4 110.2,286.3 110.4,286.3 110.6,286.3 110.8,286.3 111,286.3 111.2,286.3 111.4,286.2 111.6,286.2 111.8,286.2 112,286.2 112.2,286.2 112.4,286.2 112.6,286.1 112.8,286.1 113,286.1 113.2,286.1 113.4,286.1 113.6,286 113.8,286 114,286 114.2,286 114.4,286 114.6,285.9 114.8,285.9 115,285.9 115.2,285.9 115.4,285.9 115.6,285.8 115.8,285.8 116,285.8 116.2,285.8 116.4,285.7 116.6,285.7 116.8,285.7 117,285.7 117.2,285.6 117.4,285.6 117.6,285.6 117.8,285.5 118,285.5 118.2,285.5 118.4,285.4 118.6,285.4 118.8,285.4 119,285.3 119.2,285.3 119.4,285.3 119.6,285.2 119.8,285.2 120,285.1 120.2,285.1 120.4,285 120.6,285 120.8,284.9 121,284.9 121.2,284.8 121.4,284.8 121.6,284.7 121.8,284.6 122,284.6 122.2,284.5 122.4,284.4 122.6,284.3 122.8,284.2 123,284.1 123.2,284.1 123.4,284 123.6,283.9 123.8,283.8 124,283.6 124.2,283.5 124.4,283.4 124.6,283.3 124.8,283.1 125,282.9 125.2,282.8 125.4,282.6 125.6,282.4 125.8,282.1 126,281.9 126.2,281.5 126.4,281.1 126.6,280.5 126.8,279.7 127,278.5 127.2,276.7 127.4,274.1 127.6,270.3 127.8,264.8 128,257 128.2,246 128.4,230.9 128.6,210.6 128.8,184 129,154 129.2,154 129.4,154 129.6,154 129.8,154 130,154 130.2,154 130.4,154 130.6,154 130.8,154 131,154 131.2,154 131.4,154 131.6,154 131.8,154 132,154 132.2,154 132.4,154 132.6,154 132.8,154 133,154 133.2,154 133.4,154 133.6,154 133.8,154 134,154 134.2,154 134.4,154 134.6,167.7 134.8,198 135,221.3 135.2,238.8 135.4,251.7 135.6,261 135.8,267.6 136,272.1 136.2,275.3 136.4,277.4 136.6,278.8 136.8,279.8 137,280.5 137.2,281 137.4,281.4 137.6,281.7 137.8,281.9 138,282.1 138.2,282.3 138.4,282.5 138.6,282.6 138.8,282.8 139,282.9 139.2,283 139.4,283.1 139.6,283.2 139.8,283.3 140,283.4 140.2,283.5 140.4,283.6 140.6,283.7 140.8,283.7 141,283.8 141.2,283.9 141.4,283.9 141.6,284 141.8,284 142,284.1 142.2,284.1 142.4,284.1 142.6,284.2 142.8,284.2 143,284.2 143.2,284.3 143.4,284.3 143.6,284.3 143.8,284.4 144,284.4 144.2,284.4 144.4,284.4 144.6,284.4 144.8,284.5 145,284.5 145.2,284.5 145.4,284.5 145.6,284.5 145.8,284.5 146,284.5 146.2,284.5 146.4,284.5 146.6,284.6 146.8,284.6 147,284.6 147.2,284.6 147.4,284.6 147.6,284.6 147.8,284.6 148,284.6 148.2,284.6 148.4,284.6 148.6,284.6 148.8,284.6 149,284.6 149.2,284.6 149.4,284.6 149.6,284.6 149.8,284.6 150,284.6 150.2,284.6 150.4,284.6 150.6,284.6 150.8,284.6 151,284.6 151.2,284.6 151.4,284.6 151.6,284.6 151.8,284.5 152,284.5 152.2,284.5 152.4,284.5 152.6,284.5 152.8,284.5 153,284.5 153.2,284.5 153.4,284.5 153.6,284.5 153.8,284.5 154,284.5 154.2,284.4 154.4,284.4 154.6,284.4 154.8,284.4 155,284.4 155.2,284.4 155.4,284.4 155.6,284.4 155.8,284.3 156,284.3 156.2,284.3 156.4,284.3 156.6,284.3 156.8,284.3 157,284.2 157.2,284.2 157.4,284.2 157.6,284.2 157.8,284.1 158,284.1 158.2,284.1 158.4,284.1 158.6,284 158.8,284 159,284 159.2,283.9 159.4,283.9 159.6,283.9 159.8,283.8 160,283.8 160.2,283.7 160.4,283.7 160.6,283.6 160.8,283.6 161,283.5 161.2,283.5 161.4,283.4 161.6,283.3 161.8,283.2 162,283.2 162.2,283.1 162.4,283 162.6,282.9 162.8,282.8 163,282.7 163.2,282.6 163.4,282.5 163.6,282.3 163.8,282.2 164,282.1 164.2,281.9 164.4,281.7 164.6,281.6 164.8,281.4 165,281.1 165.2,280.9 165.4,280.6 165.6,280.2 165.8,279.7 166,279 166.2,277.9 166.4,276.4 166.6,274 166.8,270.5 167,265.2 167.2,257.5 167.4,246.3 167.6,230.6 167.8,209.1 168,180.3 168.2,154 168.4,154 168.6,154 168.8,154 169,154 169.2,154 169.4,154 169.6,154 169.8,154 170,154 170.2,154 170.4,154 170.6,154 170.8,154 171,154 171.2,154 171.4,154 171.6,154 171.8,154 172,154 172.2,154 172.4,154 172.6,154 172.8,154 173,154 173.2,154 173.4,162.6 173.6,195.5 173.8,220.5 174,239 174.2,252.2 174.4,261.5 174.6,267.9 174.8,272.3 175,275.1 175.2,277 175.4,278.3 175.6,279.1 175.8,279.7 176,280.2 176.2,280.5 176.4,280.8 176.6,281 176.8,281.2 177,281.4 177.2,281.5 177.4,281.7 177.6,281.8 177.8,282 178,282.1 178.2,282.2 178.4,282.3 178.6,282.4 178.8,282.5 179,282.6 179.2,282.7 179.4,282.8 179.6,282.8 179.8,282.9 180,283 180.2,283 180.4,283.1 180.6,283.1 180.8,283.2 181,283.2 181.2,283.3 181.4,283.3 181.6,283.3 181.8,283.4 182,283.4 182.2,283.4 182.4,283.5 182.6,283.5 182.8,283.5 183,283.5 183.2,283.6 183.4,283.6 183.6,283.6 183.8,283.6 184,283.6 184.2,283.6 184.4,283.7 184.6,283.7 184.8,283.7 185,283.7 185.2,283.7 185.4,283.7 185.6,283.7 185.8,283.7 186,283.7 186.2,283.8 186.4,283.8 186.6,283.8 186.8,283.8 187,283.8 187.2,283.8 187.4,283.8 187.6,283.8 187.8,283.8 188,283.8 188.2,283.8 188.4,283.8 188.6,283.8 188.8,283.8 189,283.8 189.2,283.8 189.4,283.8 189.6,283.8 189.8,283.8 190,283.8 190.2,283.8 190.4,283.8 190.6,283.8 190.8,283.8 191,283.8 191.2,283.8 191.4,283.8 191.6,283.8 191.8,283.8 192,283.8 192.2,283.8 192.4,283.8 192.6,283.8 192.8,283.8 193,283.8 193.2,283.8 193.4,283.8 193.6,283.8 193.8,283.8 194,283.8 194.2,283.8 194.4,283.8 194.6,283.8 194.8,283.8 195,283.8 195.2,283.8 195.4,283.8 195.6,283.8 195.8,283.8 196,283.8 196.2,283.8 196.4,283.8 196.6,283.8 196.8,283.8 197,283.8 197.2,283.8 197.4,283.8 197.6,283.8 197.8,283.8 198,283.8 198.2,283.8 198.4,283.7 198.6,283.7 198.8,283.7 199,283.7 199.2,283.7 199.4,283.7 199.6,283.7 199.8,283.7 200,283.7 200.2,283.7 200.4,283.7 200.6,283.7 200.8,283.6 201,283.6 201.2,283.6 201.4,283.6 201.6,283.6 201.8,283.5 202,283.5 202.2,283.5 202.4,283.4 202.6,283.3 202.8,283.2 203,283.1 203.2,282.9 203.4,282.6 203.6,282.4 203.8,282 204,281.6 204.2,281.1 204.4,280.5 204.6,279.9 204.8,279.3 205,278.7 205.2,278.1 205.4,277.6 205.6,277.2 205.8,276.9 206,276.8 206.2,276.9 206.4,277.1 206.6,277.5 206.8,278 207,278.6 207.2,279.2 207.4,279.8 207.6,280.4 207.8,281 208,281.4 208.2,281.8 208.4,282.2 208.6,282.5 208.8,282.7 209,282.8 209.2,283 209.4,283.1 209.6,283.1 209.8,283.2 210,283.2 210.2,283.2 210.4,283.2 210.6,283.3 210.8,283.3 211,283.3 211.2,283.3 211.4,283.3 211.6,283.3 211.8,283.3 212,283.3 212.2,283.3 212.4,283.3 212.6,283.2 212.8,283.2 213,283.2 213.2,283.2 213.4,283.2 213.6,283.2 213.8,283.2 214,283.2 214.2,283.2 214.4,283.2 214.6,283.2 214.8,283.2 215,283.2 215.2,283.2 215.4,283.2 215.6,283.2 215.8,283.1 216,283.1 216.2,283.1 216.4,283.1 216.6,283.1 216.8,283.1 217,283.1 217.2,283.1 217.4,283.1 217.6,283.1 217.8,283.1 218,283.1 218.2,283.1 218.4,283 218.6,283 218.8,283 219,283 219.2,283 219.4,283 219.6,283 219.8,283 220,283 220.2,283 220.4,283 220.6,282.9 220.8,282.9 221,282.9 221.2,282.9 221.4,282.9 221.6,282.9 221.8,282.9 222,282.9 222.2,282.9 222.4,282.9 222.6,282.8 222.8,282.8 223,282.8 223.2,282.8 223.4,282.8 223.6,282.8 223.8,282.8 224,282.8 224.2,282.7 224.4,282.7 224.6,282.7 224.8,282.7 225,282.7 225.2,282.7 225.4,282.7 225.6,282.7 225.8,282.6 226,282.6 226.2,282.6 226.4,282.6 226.6,282.6 226.8,282.6 227,282.6 227.2,282.5 227.4,282.5 227.6,282.5 227.8,282.5 228,282.5 228.2,282.4 228.4,282.4 228.6,282.4 228.8,282.4 229,282.4 229.2,282.3 229.4,282.3 229.6,282.3 229.8,282.3 230,282.2 230.2,282.2 230.4,282.2 230.6,282.1 230.8,282.1 231,282.1 231.2,282 231.4,282 231.6,281.9 231.8,281.9 232,281.8 232.2,281.8 232.4,281.7 232.6,281.7 232.8,281.6 233,281.5 233.2,281.4 233.4,281.4 233.6,281.3 233.8,281.1 234,281 234.2,280.8 234.4,280.6 234.6,280.3 234.8,279.9 235,279.4 235.2,278.6 235.4,277.7 235.6,276.3 235.8,274.6 236,272.3 236.2,269.3 236.4,265.7 236.6,261.2 236.8,255.9 237,249.8 237.2,243 237.4,235.8 237.6,228.2 237.8,220.8 238,213.8 238.2,207.9 238.4,203.4 238.6,200.7 238.8,200.1 239,201.7 239.2,205.4 239.4,210.7 239.6,217.2 239.8,224.4 240,231.9 240.2,239.3 240.4,246.4 240.6,252.8 240.8,258.5 241,263.4 241.2,267.4 241.4,270.7 241.6,273.3 241.8,275.3 242,276.8 242.2,277.9 242.4,278.7 242.6,279.3 242.8,279.8 243,280.1 243.2,280.3 243.4,280.5 243.6,280.7 243.8,280.8 244,280.9 244.2,281 244.4,281 244.6,281.1 244.8,281.2 245,281.2 245.2,281.2 245.4,281.3 245.6,281.3 245.8,281.4 246,281.4 246.2,281.4 246.4,281.4 246.6,281.5 246.8,281.5 247,281.5 247.2,281.5 247.4,281.5 247.6,281.5 247.8,281.5 248,281.6 248.2,281.6 248.4,281.6 248.6,281.6 248.8,281.6 249,281.6 249.2,281.6 249.4,281.6 249.6,281.6 249.8,281.6 250,281.6 250.2,281.6 250.4,281.6 250.6,281.6 250.8,281.6 251,281.6 251.2,281.6 251.4,281.6 251.6,281.6 251.8,281.6 252,281.6 252.2,281.6 252.4,281.6 252.6,281.6 252.8,281.6 253,281.6 253.2,281.6 253.4,281.6 253.6,281.6 253.8,281.6 254,281.6 254.2,281.6 254.4,281.6 254.6,281.6 254.8,281.5 255,281.5 255.2,281.5 255.4,281.5 255.6,281.5 255.8,281.5 256,281.5 256.2,281.5 256.4,281.5 256.6,281.5 256.8,281.5 257,281.5 257.2,281.5 257.4,281.5 257.6,281.5 257.8,281.5 258,281.5 258.2,281.4 258.4,281.4 258.6,281.4 258.8,281.4 259,281.4 259.2,281.4 259.4,281.4 259.6,281.4 259.8,281.4 260,281.4 260.2,281.4 260.4,281.4 260.6,281.4 260.8,281.4 261,281.3 261.2,281.3 261.4,281.3 261.6,281.3 261.8,281.3 262,281.3 262.2,281.3 262.4,281.3 262.6,281.3 262.8,281.3 263,281.3 263.2,281.3 263.4,281.3 263.6,281.2 263.8,281.2 264,281.2 264.2,281.2 264.4,281.2 264.6,281.2 264.8,281.2 265,281.2 265.2,281.2 265.4,281.2 265.6,281.2 265.8,281.1 266,281.1 266.2,281.1 266.4,281.1 266.6,281.1 266.8,281.1 267,281.1 267.2,281.1 267.4,281.1 267.6,281.1 267.8,281.1 268,281.1 268.2,281 268.4,281 268.6,281 268.8,281 269,281 269.2,281 269.4,281 269.6,281 269.8,281 270,281 270.2,280.9 270.4,280.9 270.6,280.9 270.8,280.9 271,280.9 271.2,280.9 271.4,280.9 271.6,280.9 271.8,280.9 272,280.9 272.2,280.9 272.4,280.8 272.6,280.8 272.8,280.8 273,280.8 273.2,280.8 273.4,280.8 273.6,280.8 273.8,280.8 274,280.8 274.2,280.7 274.4,280.7 274.6,280.7 274.8,280.7 275,280.7 275.2,280.7 275.4,280.7 275.6,280.7 275.8,280.7 276,280.6 276.2,280.6 276.4,280.6 276.6,280.6 276.8,280.6 277,280.6 277.2,280.6 277.4,280.6 277.6,280.5 277.8,280.5 278,280.5 278.2,280.5 278.4,280.5 278.6,280.5 278.8,280.5 279,280.5 279.2,280.4 279.4,280.4 279.6,280.4 279.8,280.4 280,280.4 280.2,280.4 280.4,280.3 280.6,280.3 280.8,280.3 281,280.3 281.2,280.3 281.4,280.3 281.6,280.2 281.8,280.2 282,280.2 282.2,280.2 282.4,280.2 282.6,280.2 282.8,280.1 283,280.1 283.2,280.1 283.4,280.1 283.6,280.1 283.8,280 284,280 284.2,280 284.4,280 284.6,279.9 284.8,279.9 285,279.9 285.2,279.9 285.4,279.8 285.6,279.8 285.8,279.8 286,279.7 286.2,279.7 286.4,279.7 286.6,279.6 286.8,279.6 287,279.6 287.2,279.5 287.4,279.5 287.6,279.4 287.8,279.4 288,279.3 288.2,279.3 288.4,279.2 288.6,279.2 288.8,279.1 289,279.1 289.2,279 289.4,278.9 289.6,278.8 289.8,278.8 290,278.7 290.2,278.6 290.4,278.5 290.6,278.4 290.8,278.3 291,278.2 291.2,278.1 291.4,277.9 291.6,277.8 291.8,277.7 292,277.5 292.2,277.3 292.4,277.2 292.6,277 292.8,276.7 293,276.5 293.2,276.2 293.4,275.8 293.6,275.2 293.8,274.4 294,273.3 294.2,271.6 294.4,269 294.6,265.1 294.8,259.3 295,250.8 295.2,238.6 295.4,221.6 295.6,198.4 295.8,167.6 296,154 296.2,154 296.4,154 296.6,154 296.8,154 297,154 297.2,154 297.4,154 297.6,154 297.8,154 298,154 298.2,154 298.4,154 298.6,154 298.8,154 299,154 299.2,154 299.4,154 299.6,154 299.8,154 300,154 300.2,154 300.4,154 300.6,154 300.8,154 301,154 301.2,167.4 301.4,198.2 301.6,221.4 301.8,238.4 302,250.5 302.2,259 302.4,264.8 302.6,268.7 302.8,271.3 303,273 303.2,274.1 303.4,274.9 303.6,275.4 303.8,275.8 304,276.1 304.2,276.4 304.4,276.6 304.6,276.8 304.8,276.9 305,277.1 305.2,277.2 305.4,277.4 305.6,277.5 305.8,277.6 306,277.7 306.2,277.8 306.4,277.9 306.6,278 306.8,278.1 307,278.2 307.2,278.2 307.4,278.3 307.6,278.4 307.8,278.4 308,278.5 308.2,278.5 308.4,278.6 308.6,278.6 308.8,278.7 309,278.7 309.2,278.8 309.4,278.8 309.6,278.8 309.8,278.9 310,278.9 310.2,278.9 310.4,278.9 310.6,279 310.8,279 311,279 311.2,279 311.4,279 311.6,279.1 311.8,279.1 312,279.1 312.2,279.1 312.4,279.1 312.6,279.1 312.8,279.1 313,279.2 313.2,279.2 313.4,279.2 313.6,279.2 313.8,279.2 314,279.2 314.2,279.2 314.4,279.2 314.6,279.2 314.8,279.2 315,279.2 315.2,279.2 315.4,279.2 315.6,279.3 315.8,279.3 316,279.3 316.2,279.3 316.4,279.3 316.6,279.3 316.8,279.3 317,279.3 317.2,279.3 317.4,279.3 317.6,279.3 317.8,279.3 318,279.3 318.2,279.3 318.4,279.3 318.6,279.3 318.8,279.3 319,279.3 319.2,279.3 319.4,279.2 319.6,279.2 319.8,279.2 320,279.2 320.2,279.2 320.4,279.2 320.6,279.2 320.8,279.1 321,279.1 321.2,279.1 321.4,279 321.6,278.9 321.8,278.8 322,278.6 322.2,278.3 322.4,278 322.6,277.7 322.8,277.2 323,276.7 323.2,276 323.4,275.3 323.6,274.5 323.8,273.7 324,272.9 324.2,272.1 324.4,271.5 324.6,270.9 324.8,270.6 325,270.5 325.2,270.6 325.4,270.9 325.6,271.5 325.8,272.1 326,272.9 326.2,273.7 326.4,274.5 326.6,275.3 326.8,276 327,276.6 327.2,277.2 327.4,277.7 327.6,278 327.8,278.3 328,278.6 328.2,278.7 328.4,278.9 328.6,279 328.8,279 329,279.1 329.2,279.1 329.4,279.1 329.6,279.2 329.8,279.2 330,279.2 330.2,279.2 330.4,279.2 330.6,279.2 330.8,279.2 331,279.2 331.2,279.2 331.4,279.2 331.6,279.2 331.8,279.2 332,279.2 332.2,279.2 332.4,279.2 332.6,279.2 332.8,279.2 333,279.2 333.2,279.2 333.4,279.2 333.6,279.2 333.8,279.2 334,279.2 334.2,279.2 334.4,279.2 334.6,279.2 334.8,279.2 335,279.2 335.2,279.2 335.4,279.2 335.6,279.2 335.8,279.2 336,279.2 336.2,279.2 336.4,279.2 336.6,279.2 336.8,279.2 337,279.2 337.2,279.2 337.4,279.2 337.6,279.2 337.8,279.2 338,279.2 338.2,279.2 338.4,279.2 338.6,279.1 338.8,279.1 339,279.1 339.2,279.1 339.4,279.1 339.6,279.1 339.8,279.1 340,279.1 340.2,279.1 340.4,279.1 340.6,279.1 340.8,279.1 341,279.1 341.2,279.1 341.4,279.1 341.6,279.1 341.8,279.1 342,279 342.2,279 342.4,279 342.6,279 342.8,279 343,279 343.2,279 343.4,279 343.6,279 343.8,279 344,278.9 344.2,278.9 344.4,278.9 344.6,278.9 344.8,278.9 345,278.9 345.2,278.9 345.4,278.8 345.6,278.8 345.8,278.8 346,278.8 346.2,278.7 346.4,278.7 346.6,278.7 346.8,278.6 347,278.6 347.2,278.5 347.4,278.4 347.6,278.2 347.8,278.1 348,277.8 348.2,277.5 348.4,277 348.6,276.5 348.8,275.8 349,274.9 349.2,273.9 349.4,272.6 349.6,271.2 349.8,269.7 350,268.1 350.2,266.5 350.4,265 350.6,263.6 350.8,262.4 351,261.6 351.2,261.3 351.4,261.4 351.6,262 351.8,262.9 352,264.2 352.2,265.6 352.4,267.2 352.6,268.8 352.8,270.4 353,271.8 353.2,273.1 353.4,274.2 353.6,275.1 353.8,275.9 354,276.5 354.2,277 354.4,277.4 354.6,277.6 354.8,277.8 355,278 355.2,278.1 355.4,278.1 355.6,278.2 355.8,278.2 356,278.3 356.2,278.3 356.4,278.3 356.6,278.3 356.8,278.3 357,278.3 357.2,278.3 357.4,278.3 357.6,278.3 357.8,278.3 358,278.3 358.2,278.2 358.4,278.2 358.6,278.2 358.8,278.2 359,278.2 359.2,278.2 359.4,278.2 359.6,278.1 359.8,278.1 360,278.1 360.2,278.1 360.4,278.1 360.6,278 360.8,278 361,278 361.2,278 361.4,277.9 361.6,277.9 361.8,277.9 362,277.9 362.2,277.8 362.4,277.8 362.6,277.8 362.8,277.7 363,277.7 363.2,277.6 363.4,277.6 363.6,277.6 363.8,277.5 364,277.5 364.2,277.4 364.4,277.4 364.6,277.3 364.8,277.2 365,277.2 365.2,277.1 365.4,277 365.6,277 365.8,276.9 366,276.8 366.2,276.7 366.4,276.6 366.6,276.5 366.8,276.4 367,276.3 367.2,276.2 367.4,276.1 367.6,276 367.8,275.9 368,275.7 368.2,275.6 368.4,275.4 368.6,275.2 368.8,275.1 369,274.9 369.2,274.7 369.4,274.4 369.6,274.2 369.8,273.9 370,273.7 370.2,273.4 370.4,273.1 370.6,272.7 370.8,272.3 371,271.9 371.2,271.5 371.4,271 371.6,270.5 371.8,269.9 372,269.3 372.2,268.6 372.4,267.8 372.6,266.8 372.8,265.7 373,264.3 373.2,262.6 373.4,260.4 373.6,257.6 373.8,254 374,249.3 374.2,243.3 374.4,235.6 374.6,225.8 374.8,213.6 375,198.9 375.2,181.4 375.4,161 375.6,154 375.8,154 376,154 376.2,154 376.4,154 376.6,154 376.8,154 377,154 377.2,154 377.4,154 377.6,154 377.8,154 378,154 378.2,154 378.4,154 378.6,154 378.8,154 379,161 379.2,181.4 379.4,198.9 379.6,213.7 379.8,225.8 380,235.6 380.2,243.3 380.4,249.3 380.6,254 380.8,257.6 381,260.3 381.2,262.5 381.4,264.2 381.6,265.6 381.8,266.7 382,267.6 382.2,268.4 382.4,269.1 382.6,269.7 382.8,270.3 383,270.8 383.2,271.3 383.4,271.7 383.6,272.1 383.8,272.4 384,272.7 384.2,273 384.4,273.3 384.6,273.6 384.8,273.8 385,274 385.2,274.2 385.4,274.4 385.6,274.6 385.8,274.7 386,274.9 386.2,275 386.4,275.1 386.6,275.3 386.8,275.4 387,275.5 387.2,275.6 387.4,275.6 387.6,275.7 387.8,275.8 388,275.9 388.2,275.9 388.4,276 388.6,276 388.8,276.1 389,276.1 389.2,276.2 389.4,276.2 389.6,276.2 389.8,276.2 390,276.3 390.2,276.3 390.4,276.3 390.6,276.3 390.8,276.3 391,276.3 391.2,276.3 391.4,276.3 391.6,276.3 391.8,276.2 392,276.2 392.2,276.2 392.4,276.1 392.6,276.1 392.8,276.1 393,276 393.2,276 393.4,275.9 393.6,275.8 393.8,275.7 394,275.6 394.2,275.5 394.4,275.4 394.6,275.3 394.8,275.2 395,275 395.2,274.9 395.4,274.7 395.6,274.5 395.8,274.2 396,273.9 396.2,273.6 396.4,273.2 396.6,272.8 396.8,272.2 397,271.6 397.2,270.7 397.4,269.6 397.6,268.3 397.8,266.6 398,264.4 398.2,261.8 398.4,258.5 398.6,254.5 398.8,249.7 399,244.1 399.2,237.7 399.4,230.4 399.6,222.5 399.8,213.9 400,204.9 400.2,196 400.4,187.3 400.6,179.6 400.8,173.2 401,168.8 401.2,166.9 401.4,167.5 401.6,170.8 401.8,176.2 402,183.4 402.2,191.6 402.4,200.5 402.6,209.5 402.8,218.3 403,226.6 403.2,234.3 403.4,241.1 403.6,247.2 403.8,252.4 404,256.7 404.2,260.4 404.4,263.4 404.6,265.8 404.8,267.7 405,269.2 405.2,270.4 405.4,271.4 405.6,272.2 405.8,272.8 406,273.3 406.2,273.7 406.4,274.1 406.6,274.4 406.8,274.7 407,274.9 407.2,275.1 407.4,275.3 407.6,275.5 407.8,275.7 408,275.8 408.2,276 408.4,276.1 408.6,276.2 408.8,276.3 409,276.4 409.2,276.5 409.4,276.6 409.6,276.7 409.8,276.7 410,276.8 410.2,276.9 410.4,276.9 410.6,277 410.8,277.1 411,277.1 411.2,277.2 411.4,277.2 411.6,277.2 411.8,277.3 412,277.3 412.2,277.4 412.4,277.4 412.6,277.4 412.8,277.4 413,277.5 413.2,277.5 413.4,277.5 413.6,277.6 413.8,277.6 414,277.6 414.2,277.6 414.4,277.6 414.6,277.7 414.8,277.7 415,277.7 415.2,277.7 415.4,277.7 415.6,277.7 415.8,277.7 416,277.8 416.2,277.8 416.4,277.8 416.6,277.8 416.8,277.8 417,277.8 417.2,277.8 417.4,277.8 417.6,277.8 417.8,277.8 418,277.8 418.2,277.8 418.4,277.9 418.6,277.9 418.8,277.9 419,277.9 419.2,277.9 419.4,277.9 419.6,277.8 419.8,277.8 420,277.8 420.2,277.8 420.4,277.8 420.6,277.8 420.8,277.7 421,277.7 421.2,277.6 421.4,277.5 421.6,277.4 421.8,277.2 422,277 422.2,276.8 422.4,276.5 422.6,276.1 422.8,275.8 423,275.3 423.2,274.8 423.4,274.3 423.6,273.8 423.8,273.3 424,272.8 424.2,272.3 424.4,272 424.6,271.7 424.8,271.5 425,271.4 425.2,271.5 425.4,271.7 425.6,272 425.8,272.4 426,272.8 426.2,273.3 426.4,273.8 426.6,274.4 426.8,274.9 427,275.4 427.2,275.8 427.4,276.2 427.6,276.5 427.8,276.8 428,277.1 428.2,277.3 428.4,277.4 428.6,277.6 428.8,277.7 429,277.7 429.2,277.8 429.4,277.8 429.6,277.9 429.8,277.9 430,277.9 430.2,277.9 430.4,278 430.6,278 430.8,278 431,278 431.2,278 431.4,278 431.6,278 431.8,278 432,278 432.2,278 432.4,278 432.6,278 432.8,278 433,278 433.2,278 433.4,278 433.6,278 433.8,278 434,278 434.2,278 434.4,278 434.6,278 434.8,278 435,278 435.2,278 435.4,278 435.6,278 435.8,278 436,278 436.2,278 436.4,278 436.6,278 436.8,278 437,278 437.2,277.9 437.4,277.9 437.6,277.9 437.8,277.9 438,277.9 438.2,277.9 438.4,277.9 438.6,277.9 438.8,277.9 439,277.9 439.2,277.9 439.4,277.9 439.6,277.8 439.8,277.8 440,277.8 440.2,277.8 440.4,277.8 440.6,277.8 440.8,277.8 441,277.7 441.2,277.7 441.4,277.7 441.6,277.7 441.8,277.6 442,277.6 442.2,277.6 442.4,277.5 442.6,277.5 442.8,277.5 443,277.4 443.2,277.3 443.4,277.2 443.6,277.1 443.8,276.9 444,276.7 444.2,276.4 444.4,276.1 444.6,275.6 444.8,275 445,274.3 445.2,273.3 445.4,272.2 445.6,270.9 445.8,269.3 446,267.5 446.2,265.4 446.4,263.2 446.6,260.7 446.8,258.2 447,255.7 447.2,253.3 447.4,251 447.6,249 447.8,247.4 448,246.3 448.2,245.9 448.4,246 448.6,246.8 448.8,248.1 449,249.9 449.2,252.1 449.4,254.5 449.6,257 449.8,259.5 450,261.9 450.2,264.3 450.4,266.4 450.6,268.4 450.8,270.1 451,271.5 451.2,272.8 451.4,273.8 451.6,274.6 451.8,275.3 452,275.8 452.2,276.2 452.4,276.5 452.6,276.8 452.8,276.9 453,277.1 453.2,277.2 453.4,277.3 453.6,277.3 453.8,277.4 454,277.4 454.2,277.5 454.4,277.5 454.6,277.5 454.8,277.6 455,277.6 455.2,277.6 455.4,277.6 455.6,277.6 455.8,277.7 456,277.7 456.2,277.7 456.4,277.7 456.6,277.7 456.8,277.7 457,277.7 457.2,277.7 457.4,277.7 457.6,277.7 457.8,277.7 458,277.8 458.2,277.8 458.4,277.8 458.6,277.8 458.8,277.8 459,277.8 459.2,277.8 459.4,277.8 459.6,277.8 459.8,277.8 460,277.8 460.2,277.8 460.4,277.8 460.6,277.8 460.8,277.8 461,277.8 461.2,277.8 461.4,277.8 461.6,277.8 461.8,277.8 462,277.8 462.2,277.8 462.4,277.8 462.6,277.8 462.8,277.8 463,277.8 463.2,277.8 463.4,277.8 463.6,277.8 463.8,277.8 464,277.8 464.2,277.8 464.4,277.8 464.6,277.8 464.8,277.8 465,277.8 465.2,277.8 465.4,277.8 465.6,277.8 465.8,277.8 466,277.8 466.2,277.8 466.4,277.8 466.6,277.8 466.8,277.8 467,277.8 467.2,277.8 467.4,277.8 467.6,277.8 467.8,277.8 468,277.8 468.2,277.8 468.4,277.8 468.6,277.8 468.8,277.8 469,277.8 469.2,277.8 469.4,277.8 469.6,277.8 469.8,277.8 470,277.8 470.2,277.8 470.4,277.8 470.6,277.8 470.8,277.8 471,277.8 471.2,277.8 471.4,277.8 471.6,277.7 471.8,277.7 472,277.7 472.2,277.7 472.4,277.7 472.6,277.7 472.8,277.7 473,277.7 473.2,277.7 473.4,277.7 473.6,277.7 473.8,277.7 474,277.7 474.2,277.7 474.4,277.7 474.6,277.7 474.8,277.7 475,277.7 475.2,277.7 475.4,277.7 475.6,277.7 475.8,277.7 476,277.7 476.2,277.7 476.4,277.7 476.6,277.7 476.8,277.7 477,277.7 477.2,277.7 477.4,277.7 477.6,277.7 477.8,277.6 478,277.6 478.2,277.6 478.4,277.6 478.6,277.6 478.8,277.6 479,277.6 479.2,277.6 479.4,277.6 479.6,277.6 479.8,277.6 480,277.6 480.2,277.6 480.4,277.6 480.6,277.6 480.8,277.6 481,277.6 481.2,277.6 481.4,277.6 481.6,277.5 481.8,277.5 482,277.5 482.2,277.5 482.4,277.5 482.6,277.5 482.8,277.5 483,277.5 483.2,277.5 483.4,277.5 483.6,277.5 483.8,277.5 484,277.4 484.2,277.4 484.4,277.4 484.6,277.4 484.8,277.4 485,277.4 485.2,277.4 485.4,277.3 485.6,277.3 485.8,277.3 486,277.3 486.2,277.3 486.4,277.3 486.6,277.2 486.8,277.2 487,277.2 487.2,277.2 487.4,277.1 487.6,277.1 487.8,277.1 488,277.1 488.2,277 488.4,277 488.6,276.9 488.8,276.9 489,276.8 489.2,276.7 489.4,276.6 489.6,276.5 489.8,276.3 490,276.1 490.2,275.9 490.4,275.6 490.6,275.2 490.8,274.7 491,274.1 491.2,273.4 491.4,272.5 491.6,271.4 491.8,270.1 492,268.6 492.2,266.9 492.4,265 492.6,262.9 492.8,260.5 493,258 493.2,255.4 493.4,252.7 493.6,250.1 493.8,247.4 494,245 494.2,242.8 494.4,241 494.6,239.6 494.8,238.7 495,238.4 495.2,238.7 495.4,239.6 495.6,241 495.8,242.8 496,245 496.2,247.4 496.4,250 496.6,252.7 496.8,255.4 497,258 497.2,260.5 497.4,262.8 497.6,264.9 497.8,266.9 498,268.6 498.2,270 498.4,271.3 498.6,272.4 498.8,273.3 499,274 499.2,274.6 499.4,275.1 499.6,275.5 499.8,275.8 500,276 500.2,276.2 500.4,276.4 500.6,276.5 500.8,276.6 501,276.7 501.2,276.7 501.4,276.8 501.6,276.8 501.8,276.9 502,276.9 502.2,276.9 502.4,277 502.6,277 502.8,277 503,277 503.2,277 503.4,277.1 503.6,277.1 503.8,277.1 504,277.1 504.2,277.1 504.4,277.1 504.6,277.1 504.8,277.1 505,277.2 505.2,277.2 505.4,277.2 505.6,277.2 505.8,277.2 506,277.2" stroke="#000" stroke-width="3" fill="none" stroke-linejoin="round"/>
<defs><path id="oc" d="M39.5 452.7h0M39.9 445.5h0M40.3 450.2h0M40.7 451.3h0M41.1 452.5h0M41.4 451.9h0M41.8 450.7h0M42.2 451.6h0M42.6 448.3h0M43 446.7h0M43.4 450.6h0M43.8 448.8h0M44.2 451.8h0M44.6 452.9h0M44.9 454.5h0M45.3 449.6h0M45.7 446.1h0M46.1 452.9h0M46.5 448.5h0M46.9 449.2h0M47.3 445.9h0M47.7 450.4h0M48 446.9h0M48.4 449.1h0M48.8 450.8h0M49.2 445.3h0M49.6 451h0M50 446.2h0M50.4 449.1h0M50.8 448.5h0M51.2 451.1h0M51.5 453.7h0M51.9 446.3h0M52.3 449.7h0M52.7 449.1h0M53.1 449.8h0M53.5 446.6h0M53.9 448.6h0M54.3 447.2h0M54.7 451.3h0M55 452.8h0M55.4 446.4h0M55.8 445.8h0M56.2 452h0M56.6 450.7h0M57 446.3h0M57.4 447.4h0M57.8 448.7h0M58.1 452.1h0M58.5 447.1h0M58.9 450.3h0M59.3 447.4h0M59.7 447.9h0M60.1 451.6h0M60.5 447.9h0M60.9 449.1h0M61.3 450.3h0M61.6 445.3h0M62 446.8h0M62.4 447.2h0M62.8 444.9h0M63.2 446.9h0M63.6 451.8h0M64 450.7h0M64.4 446.6h0M64.8 447.5h0M65.1 451.1h0M65.5 451.2h0M65.9 447h0M66.3 447.7h0M66.7 445.5h0M67.1 451.7h0M67.5 445.9h0M67.9 451.7h0M68.2 446.7h0M68.6 447.1h0M69 451.6h0M69.4 448.3h0M69.8 451.4h0M70.2 447.7h0M70.6 450h0M71 453.1h0M71.4 448.4h0M71.7 454.3h0M72.1 447.6h0M72.5 453.6h0M72.9 451.1h0M73.3 445h0M73.7 451.4h0M74.1 449.2h0M74.5 451.8h0M74.9 451h0M75.2 444.9h0M75.6 446.7h0M76 447h0M76.4 443.7h0M76.8 448.2h0M77.2 444.4h0M77.6 446.2h0M78 445h0M78.4 444.6h0M78.7 446.8h0M79.1 446.3h0M79.5 450.8h0M79.9 443h0M80.3 450.3h0M80.7 449h0M81.1 449h0M81.5 449.5h0M81.8 443.8h0M82.2 443.5h0M82.6 437.8h0M83 434.8h0M83.4 427.8h0M83.8 413.9h0M84.2 395.1h0M84.6 384.8h0M85 370.9h0M85.3 363.8h0M85.7 358.8h0M86.1 370.5h0M86.5 387.9h0M86.9 396.5h0M87.3 412.1h0M87.7 426.5h0M88.1 437.2h0M88.5 443h0M88.8 443.7h0M89.2 442.6h0M89.6 444.1h0M90 444.2h0M90.4 443.8h0M90.8 445.1h0M91.2 450.5h0M91.6 443.5h0M91.9 442.3h0M92.3 445.9h0M92.7 445.5h0M93.1 441.1h0M93.5 443h0M93.9 444h0M94.3 444.5h0M94.7 441.5h0M95.1 446h0M95.4 447.4h0M95.8 443.9h0M96.2 443.4h0M96.6 445.4h0M97 440.6h0M97.4 444.7h0M97.8 442.1h0M98.2 445.4h0M98.6 440.8h0M98.9 445.7h0M99.3 445.8h0M99.7 447.8h0M100.1 443.7h0M100.5 448.5h0M100.9 446h0M101.3 443.3h0M101.7 442.5h0M102 446.1h0M102.4 448.1h0M102.8 439.7h0M103.2 442.9h0M103.6 447.8h0M104 440.6h0M104.4 442.2h0M104.8 445.6h0M105.2 444h0M105.5 441.8h0M105.9 447.2h0M106.3 447h0M106.7 443.5h0M107.1 443.5h0M107.5 440.9h0M107.9 439.2h0M108.3 443.6h0M108.7 441.9h0M109 446.2h0M109.4 443.8h0M109.8 438.1h0M110.2 440.7h0M110.6 435.8h0M111 438.6h0M111.4 439.7h0M111.8 436h0M112.1 443.7h0M112.5 436.3h0M112.9 436.4h0M113.3 435.5h0M113.7 439.9h0M114.1 442.1h0M114.5 436.3h0M114.9 441.5h0M115.3 440.8h0M115.6 437.4h0M116 432.4h0M116.4 430.6h0M116.8 420.2h0M117.2 422.4h0M117.6 415.4h0M118 410.4h0M118.4 416.2h0M118.8 419.3h0M119.1 413h0M119.5 411.8h0M119.9 411.7h0M120.3 418.1h0M120.7 416.9h0M121.1 412.6h0M121.5 414h0M121.9 421.5h0M122.3 419.4h0M122.6 418.2h0M123 414.3h0M123.4 417.9h0M123.8 408.8h0M124.2 417.5h0M124.6 409.9h0M125 412.6h0M125.4 416.6h0M125.7 421.1h0M126.1 432h0M126.5 433.8h0M126.9 425.3h0M127.3 430.2h0M127.7 417.6h0M128.1 406.5h0M128.5 372.9h0M128.9 329.4h0M129.2 304h0M129.6 304h0M130 304h0M130.4 304h0M130.8 304h0M131.2 304h0M131.6 304h0M132 304h0M132.4 304h0M132.7 304h0M133.1 304h0M133.5 304h0M133.9 304h0M134.3 304h0M134.7 329.3h0M135.1 375.4h0M135.5 403.3h0M135.8 414.5h0M136.2 420.6h0M136.6 426.6h0M137 434.4h0M137.4 430.9h0M137.8 435.4h0M138.2 432.7h0M138.6 434.7h0M139 430.6h0M139.3 434.6h0M139.7 436.8h0M140.1 432h0M140.5 439.8h0M140.9 435.9h0M141.3 438.3h0M141.7 439.9h0M142.1 435.5h0M142.5 433.2h0M142.8 437h0M143.2 442.3h0M143.6 435h0M144 440h0M144.4 438.2h0M144.8 437.7h0M145.2 434.5h0M145.6 438.4h0M145.9 438.4h0M146.3 441.9h0M146.7 441.3h0M147.1 440.3h0M147.5 438.1h0M147.9 440.2h0M148.3 444.4h0M148.7 441.5h0M149.1 440.8h0M149.4 439.6h0M149.8 441.6h0M150.2 444.6h0M150.6 442.6h0M151 441.1h0M151.4 438.1h0M151.8 437.6h0M152.2 443.9h0M152.6 443.4h0M152.9 438.4h0M153.3 437.1h0M153.7 440h0M154.1 444.2h0M154.5 440.9h0M154.9 438.9h0M155.3 437.4h0M155.7 443.5h0M156.1 442h0M156.4 438.8h0M156.8 440.5h0M157.2 442.8h0M157.6 438.3h0M158 441h0M158.4 439h0M158.8 436.7h0M159.2 436.6h0M159.5 435.9h0M159.9 441.4h0M160.3 439.7h0M160.7 436.8h0M161.1 436.5h0M161.5 439.2h0M161.9 440.4h0M162.3 440.3h0M162.7 433.3h0M163 434.5h0M163.4 432.9h0M163.8 435.6h0M164.2 434.6h0M164.6 435.7h0M165 434.7h0M165.4 433.6h0M165.8 427.1h0M166.2 431.4h0M166.5 423.7h0M166.9 418.9h0M167.3 402.6h0M167.7 369.1h0M168.1 316.7h0M168.5 304h0M168.9 304h0M169.3 304h0M169.6 304h0M170 304h0M170.4 304h0M170.8 304h0M171.2 304h0M171.6 304h0M172 304h0M172.4 304h0M172.8 304h0M173.1 304h0M173.5 337.8h0M173.9 386.2h0M174.3 412h0M174.7 421h0M175.1 433.8h0M175.5 431.5h0M175.9 433.1h0M176.3 433h0M176.6 436.7h0M177 435.9h0M177.4 433.3h0M177.8 440.1h0M178.2 441.2h0M178.6 439.3h0M179 437.1h0M179.4 442.5h0M179.7 435h0M180.1 442.1h0M180.5 439.5h0M180.9 439.4h0M181.3 441.8h0M181.7 443.6h0M182.1 443.2h0M182.5 443h0M182.9 436.3h0M183.2 440.4h0M183.6 439.4h0M184 442.6h0M184.4 441.7h0M184.8 438.1h0M185.2 439.3h0M185.6 442.9h0M186 445.2h0M186.4 441.1h0M186.7 437h0M187.1 442.2h0M187.5 442.1h0M187.9 438.9h0M188.3 437.2h0M188.7 443.8h0M189.1 444h0M189.5 438.5h0M189.8 439.7h0M190.2 444.2h0M190.6 439.7h0M191 443.5h0M191.4 442.1h0M191.8 445.4h0M192.2 437.4h0M192.6 439.1h0M193 443.8h0M193.3 442.6h0M193.7 443.5h0M194.1 440.2h0M194.5 442.1h0M194.9 436h0M195.3 436.4h0M195.7 437.6h0M196.1 433.3h0M196.5 433.3h0M196.8 429.8h0M197.2 432.8h0M197.6 427.4h0M198 433.1h0M198.4 430.3h0M198.8 437.4h0M199.2 432.2h0M199.6 436.6h0M200 436.3h0M200.3 438.8h0M200.7 437.9h0M201.1 439.2h0M201.5 438.2h0M201.9 436.9h0M202.3 443.2h0M202.7 441h0M203.1 441.1h0M203.4 444.9h0M203.8 441.1h0M204.2 439.1h0M204.6 446.2h0M205 443.9h0M205.4 441.2h0M205.8 442.5h0M206.2 443.4h0M206.6 442.9h0M206.9 442.6h0M207.3 445.5h0M207.7 445.7h0M208.1 445.8h0M208.5 442.7h0M208.9 442.3h0M209.3 441.5h0M209.7 440.2h0M210.1 436.9h0M210.4 443.1h0M210.8 444.5h0M211.2 439.1h0M211.6 444.2h0M212 443.8h0M212.4 438.8h0M212.8 443.2h0M213.2 438.5h0M213.5 445.2h0M213.9 442.4h0M214.3 438.2h0M214.7 445.8h0M215.1 438.3h0M215.5 445.9h0M215.9 444.2h0M216.3 442.8h0M216.7 444.3h0M217 438.9h0M217.4 440.6h0M217.8 438.7h0M218.2 444h0M218.6 439.7h0M219 438.1h0M219.4 440.8h0M219.8 443.9h0M220.2 438.7h0M220.5 444.3h0M220.9 444.5h0M221.3 441.6h0M221.7 439.8h0M222.1 436.9h0M222.5 443.4h0M222.9 442.1h0M223.3 439h0M223.6 441.1h0M224 439.3h0M224.4 439.1h0M224.8 436.4h0M225.2 436.3h0M225.6 439.9h0M226 436.3h0M226.4 444.9h0M226.8 440.2h0M227.1 439.6h0M227.5 437.4h0M227.9 438.1h0M228.3 445.1h0M228.7 438.4h0M229.1 440.6h0M229.5 438.3h0M229.9 437.5h0M230.3 439.4h0M230.6 443h0M231 440.4h0M231.4 441h0M231.8 439.2h0M232.2 443.1h0M232.6 441.9h0M233 441.9h0M233.4 435.3h0M233.7 437.7h0M234.1 439.2h0M234.5 438.3h0M234.9 433.7h0M235.3 433.3h0M235.7 423.9h0M236.1 414.9h0M236.5 412.5h0M236.9 398.7h0M237.2 383.8h0M237.6 367.9h0M238 359.1h0M238.4 349.2h0M238.8 346.4h0M239.2 346.5h0M239.6 362.4h0M240 372.8h0M240.4 391.8h0M240.7 398.3h0M241.1 413.2h0M241.5 422.8h0M241.9 424.9h0M242.3 430.8h0M242.7 433.3h0M243.1 441h0M243.5 438.8h0M243.9 443.2h0M244.2 444h0M244.6 442.9h0M245 438.1h0M245.4 443.6h0M245.8 440.3h0M246.2 440h0M246.6 445.3h0M247 441.7h0M247.3 438.9h0M247.7 444.8h0M248.1 445h0M248.5 440.4h0M248.9 441.5h0M249.3 444.5h0M249.7 438.4h0M250.1 440.7h0M250.5 440.4h0M250.8 443.2h0M251.2 440.8h0M251.6 439.1h0M252 442.7h0M252.4 441.7h0M252.8 442.9h0M253.2 442.6h0M253.6 443.9h0M254 440.4h0M254.3 444.2h0M254.7 438.2h0M255.1 440.2h0M255.5 442.6h0M255.9 442.6h0M256.3 440.3h0M256.7 439.8h0M257.1 445.3h0M257.4 443.6h0M257.8 440h0M258.2 440h0M258.6 440.6h0M259 441.1h0M259.4 445.7h0M259.8 442.3h0M260.2 440.7h0M260.6 442h0M260.9 445.9h0M261.3 443.8h0M261.7 443.5h0M262.1 443h0M262.5 439h0M262.9 441.7h0M263.3 438.3h0M263.7 444.3h0M264.1 439.2h0M264.4 440.3h0M264.8 443.7h0M265.2 445.5h0M265.6 438.2h0M266 438.5h0M266.4 440.3h0M266.8 439.1h0M267.2 441.9h0M267.5 444.1h0M267.9 437.9h0M268.3 441.9h0M268.7 440.7h0M269.1 443.1h0M269.5 442.6h0M269.9 443.2h0M270.3 445.9h0M270.7 443.9h0M271 438.4h0M271.4 437.8h0M271.8 436.5h0M272.2 442.3h0M272.6 444h0M273 438h0M273.4 443.2h0M273.8 439.4h0M274.2 441.7h0M274.5 437.2h0M274.9 437.5h0M275.3 441.8h0M275.7 436.4h0M276.1 440.7h0M276.5 444.3h0M276.9 440h0M277.3 438.3h0M277.7 436.9h0M278 437.3h0M278.4 436.8h0M278.8 438.1h0M279.2 437.7h0M279.6 439.9h0M280 436.5h0M280.4 438.1h0M280.8 441.7h0M281.1 436.6h0M281.5 443.4h0M281.9 438.9h0M282.3 441.2h0M282.7 435.7h0M283.1 440.8h0M283.5 444.4h0M283.9 440.3h0M284.3 436h0M284.6 442h0M285 436.2h0M285.4 435.9h0M285.8 437.8h0M286.2 442.9h0M286.6 442.4h0M287 434.2h0M287.4 435.6h0M287.8 438.2h0M288.1 436.2h0M288.5 440.4h0M288.9 438.4h0M289.3 438.1h0M289.7 437.3h0M290.1 433.8h0M290.5 436.2h0M290.9 440.2h0M291.2 431.4h0M291.6 432.9h0M292 438.3h0M292.4 437.5h0M292.8 429.7h0M293.2 433.4h0M293.6 430.6h0M294 429.2h0M294.4 420.6h0M294.7 415.4h0M295.1 394.3h0M295.5 357.8h0M295.9 304h0M296.3 304h0M296.7 304h0M297.1 304h0M297.5 304h0M297.9 304h0M298.2 304h0M298.6 304h0M299 304h0M299.4 304h0M299.8 304h0M300.2 304h0M300.6 304h0M301 304h0M301.3 345.3h0M301.7 383.8h0M302.1 407.6h0M302.5 424.6h0M302.9 425.6h0M303.3 434.4h0M303.7 431.6h0M304.1 427.9h0M304.5 431.1h0M304.8 431.6h0M305.2 432.2h0M305.6 432.9h0M306 433h0M306.4 437.1h0M306.8 431h0M307.2 438.6h0M307.6 439.3h0M308 440.9h0M308.3 439.6h0M308.7 439h0M309.1 440.1h0M309.5 436.7h0M309.9 434.7h0M310.3 435.1h0M310.7 439.5h0M311.1 431.7h0M311.4 437.8h0M311.8 440.2h0M312.2 437.1h0M312.6 430h0M313 432.5h0M313.4 435.2h0M313.8 425.1h0M314.2 429.1h0M314.6 428.9h0M314.9 425.4h0M315.3 424.2h0M315.7 419.2h0M316.1 419.9h0M316.5 405.4h0M316.9 415.5h0M317.3 406.6h0M317.7 401.7h0M318.1 404.1h0M318.4 411.4h0M318.8 414.5h0M319.2 412.8h0M319.6 408.4h0M320 412.8h0M320.4 421.6h0M320.8 424.3h0M321.2 426h0M321.6 430.6h0M321.9 434.5h0M322.3 434.2h0M322.7 437.4h0M323.1 430.6h0M323.5 438.2h0M323.9 433.4h0M324.3 439.1h0M324.7 439h0M325 443h0M325.4 435h0M325.8 436.9h0M326.2 443h0M326.6 443.3h0M327 441.2h0M327.4 444.7h0M327.8 443.3h0M328.2 437.8h0M328.5 439.3h0M328.9 442.9h0M329.3 441.3h0M329.7 443.9h0M330.1 440.6h0M330.5 441.4h0M330.9 436.3h0M331.3 440.5h0M331.7 435.1h0M332 441.9h0M332.4 442.8h0M332.8 439.2h0M333.2 438h0M333.6 444.7h0M334 436.2h0M334.4 440.8h0M334.8 442.7h0M335.1 442.8h0M335.5 440.1h0M335.9 440.7h0M336.3 438.3h0M336.7 439.2h0M337.1 438.6h0M337.5 437.1h0M337.9 440.5h0M338.3 440.8h0M338.6 437.6h0M339 444.6h0M339.4 442.1h0M339.8 441.6h0M340.2 443.3h0M340.6 437.3h0M341 440.6h0M341.4 440.2h0M341.8 437.1h0M342.1 437h0M342.5 440.8h0M342.9 436.7h0M343.3 437h0M343.7 441.1h0M344.1 434.7h0M344.5 436.7h0M344.9 441.1h0M345.2 438.8h0M345.6 438.9h0M346 437.4h0M346.4 437.9h0M346.8 435.4h0M347.2 441.3h0M347.6 440.7h0M348 435.4h0M348.4 438.8h0M348.7 431h0M349.1 435.6h0M349.5 427.9h0M349.9 430h0M350.3 424.1h0M350.7 424.7h0M351.1 423.8h0M351.5 419.4h0M351.9 424.9h0M352.2 426.6h0M352.6 424.5h0M353 430.2h0M353.4 431.1h0M353.8 433.9h0M354.2 436h0M354.6 437.4h0M355 439.9h0M355.4 440.4h0M355.7 433.7h0M356.1 433.4h0M356.5 439.7h0M356.9 435.6h0M357.3 433.7h0M357.7 433.3h0M358.1 440.1h0M358.5 440.8h0M358.8 440.8h0M359.2 441.4h0M359.6 433.1h0M360 441.3h0M360.4 438.4h0M360.8 434.9h0M361.2 439.5h0M361.6 437.1h0M362 433.5h0M362.3 434.1h0M362.7 440.1h0M363.1 434.6h0M363.5 440.4h0M363.9 434.7h0M364.3 432.9h0M364.7 433.3h0M365.1 434.1h0M365.5 438.8h0M365.8 436.8h0M366.2 437.4h0M366.6 432.4h0M367 437.2h0M367.4 432.7h0M367.8 431.2h0M368.2 437h0M368.6 436.5h0M368.9 435.2h0M369.3 433.2h0M369.7 429.3h0M370.1 431.2h0M370.5 429.2h0M370.9 430.6h0M371.3 427.6h0M371.7 427.1h0M372.1 429.4h0M372.4 424.4h0M372.8 423.2h0M373.2 413.6h0M373.6 411.3h0M374 405.1h0M374.4 393.1h0M374.8 370.2h0M375.2 336.6h0M375.6 304h0M375.9 304h0M376.3 304h0M376.7 304h0M377.1 304h0M377.5 304h0M377.9 304h0M378.3 304h0M378.7 304h0M379 323.5h0M379.4 359.2h0M379.8 377.7h0M380.2 401.5h0M380.6 412.5h0M381 417.4h0M381.4 423.8h0M381.8 419.9h0M382.2 420.5h0M382.5 426.9h0M382.9 429.9h0M383.3 430.7h0M383.7 431.6h0M384.1 431.3h0M384.5 431.7h0M384.9 430h0M385.3 431.5h0M385.7 432.3h0M386 435.3h0M386.4 434.1h0M386.8 429.3h0M387.2 429.3h0M387.6 433h0M388 435.8h0M388.4 431.9h0M388.8 433.5h0M389.1 434.5h0M389.5 430.9h0M389.9 436.5h0M390.3 439h0M390.7 439h0M391.1 435.9h0M391.5 437h0M391.9 432.1h0M392.3 430.7h0M392.6 438.8h0M393 434.3h0M393.4 432.5h0M393.8 430.6h0M394.2 436.8h0M394.6 434.9h0M395 429.9h0M395.4 429.1h0M395.8 435.4h0M396.1 434.1h0M396.5 430.7h0M396.9 425.2h0M397.3 423.3h0M397.7 424.9h0M398.1 416.4h0M398.5 407h0M398.9 394h0M399.3 376.7h0M399.6 361.1h0M400 342.6h0M400.4 327.6h0M400.8 309.7h0M401.2 309.3h0M401.6 308.2h0M402 325.2h0M402.4 336.7h0M402.7 360.3h0M403.1 374.5h0M403.5 391.4h0M403.9 405.5h0M404.3 414.6h0M404.7 421.3h0M405.1 422.1h0M405.5 428.3h0M405.9 429.3h0M406.2 433.4h0M406.6 433.8h0M407 434.1h0M407.4 434.9h0M407.8 436.5h0M408.2 434.3h0M408.6 435h0M409 439.2h0M409.4 438.6h0M409.7 439.3h0M410.1 435.4h0M410.5 437.7h0M410.9 437.9h0M411.3 436.6h0M411.7 434.1h0M412.1 433.8h0M412.5 433.7h0M412.8 433.5h0M413.2 434.6h0M413.6 432.2h0M414 436.5h0M414.4 436.4h0M414.8 436.7h0M415.2 437h0M415.6 437.7h0M416 437.2h0M416.3 428.4h0M416.7 434.1h0M417.1 433.6h0M417.5 431.5h0M417.9 423.7h0M418.3 423.6h0M418.7 425.4h0M419.1 430.2h0M419.5 426.8h0M419.8 430.3h0M420.2 428.1h0M420.6 428.1h0M421 434.3h0M421.4 430.8h0M421.8 435.1h0M422.2 435h0M422.6 435.8h0M422.9 437.5h0M423.3 438.5h0M423.7 433.8h0M424.1 441.4h0M424.5 441h0M424.9 433.5h0M425.3 439h0M425.7 435.6h0M426.1 438h0M426.4 439.4h0M426.8 435.3h0M427.2 442.1h0M427.6 442h0M428 434.6h0M428.4 435.3h0M428.8 440.7h0M429.2 433.6h0M429.6 439.7h0M429.9 434h0M430.3 440.9h0M430.7 439.5h0M431.1 438.3h0M431.5 437.2h0M431.9 436h0M432.3 435.5h0M432.7 440.7h0M433.1 439.8h0M433.4 436.4h0M433.8 436.3h0M434.2 434h0M434.6 431.8h0M435 435.3h0M435.4 436.9h0M435.8 437.1h0M436.2 437.9h0M436.5 436.6h0M436.9 436.1h0M437.3 440.5h0M437.7 441h0M438.1 434.2h0M438.5 437.6h0M438.9 438.2h0M439.3 439h0M439.7 436.2h0M440 434.4h0M440.4 438.5h0M440.8 438.4h0M441.2 440.4h0M441.6 436.4h0M442 433h0M442.4 440.4h0M442.8 439.7h0M443.2 434.4h0M443.5 432.2h0M443.9 433.9h0M444.3 436.6h0M444.7 433.5h0M445.1 423.3h0M445.5 425.8h0M445.9 419h0M446.3 424.4h0M446.6 420.8h0M447 413.5h0M447.4 403.7h0M447.8 402.3h0M448.2 402.1h0M448.6 397.8h0M449 401.1h0M449.4 404.3h0M449.8 418.6h0M450.1 414.3h0M450.5 424.8h0M450.9 421.3h0M451.3 432.8h0M451.7 435.4h0M452.1 428.1h0M452.5 438h0M452.9 438.4h0M453.3 432.4h0M453.6 436.4h0M454 433.9h0M454.4 431.8h0M454.8 432.8h0M455.2 436.5h0M455.6 437.5h0M456 435.4h0M456.4 438.7h0M456.7 437.4h0M457.1 434h0M457.5 439.3h0M457.9 435.3h0M458.3 436.2h0M458.7 437.9h0M459.1 433.7h0M459.5 435.9h0M459.9 439.2h0M460.2 430.9h0M460.6 436.2h0M461 435.9h0M461.4 433.5h0M461.8 426.8h0M462.2 423h0M462.6 426.3h0M463 427.3h0M463.4 423.6h0M463.7 426.3h0M464.1 420.7h0M464.5 419.4h0M464.9 422.8h0M465.3 417.5h0M465.7 418.7h0M466.1 415.1h0M466.5 427.8h0M466.8 425.2h0M467.2 424.3h0M467.6 432.4h0M468 426.1h0M468.4 435.3h0M468.8 435.7h0M469.2 430.2h0M469.6 438h0M470 435.8h0M470.3 432.8h0M470.7 432.6h0M471.1 437.3h0M471.5 440.2h0M471.9 434.6h0M472.3 439h0M472.7 434.2h0M473.1 433.6h0M473.5 439.6h0M473.8 432.6h0M474.2 435.3h0M474.6 437.3h0M475 433.2h0M475.4 436.9h0M475.8 439.4h0M476.2 439.9h0M476.6 435.1h0M477 441.7h0M477.3 441.9h0M477.7 436.1h0M478.1 437.1h0M478.5 437h0M478.9 438.7h0M479.3 435.9h0M479.7 442.4h0M480.1 435.5h0M480.4 438.2h0M480.8 438.1h0M481.2 441.3h0M481.6 443.1h0M482 442.6h0M482.4 442.4h0M482.8 442.3h0M483.2 440.9h0M483.6 439.8h0M483.9 435.6h0M484.3 437.1h0M484.7 441.8h0M485.1 440.2h0M485.5 437h0M485.9 436.8h0M486.3 441.1h0M486.7 436.3h0M487.1 437.9h0M487.4 440.8h0M487.8 437.8h0M488.2 440.9h0M488.6 433.4h0M489 440h0M489.4 436.6h0M489.8 438.7h0M490.2 433.3h0M490.5 431.1h0M490.9 431.6h0M491.3 425.1h0M491.7 426.3h0M492.1 419.7h0M492.5 415.4h0M492.9 413.3h0M493.3 412.1h0M493.7 399.3h0M494 396.4h0M494.4 400.4h0M494.8 387.7h0M495.2 390.5h0M495.6 396.3h0M496 401.7h0M496.4 409.8h0M496.8 411.7h0M497.2 412.2h0M497.5 419.4h0M497.9 421.8h0M498.3 432.2h0M498.7 429.9h0M499.1 432.7h0M499.5 435.9h0M499.9 431.7h0M500.3 438h0M500.6 432.8h0M501 433.1h0M501.4 435.9h0M501.8 439.1h0M502.2 439.6h0M502.6 432.6h0M503 436.5h0M503.4 434.2h0M503.8 438.9h0M504.1 438.7h0M504.5 436.9h0M504.9 435.2h0M505.3 438.6h0M505.7 439.6h0"/></defs>
<g clip-path="url(#cc)" fill="none" stroke-linecap="round"><use href="#oc" stroke="#b80000" stroke-width="7.9"/><path d="M113.5 443.2 L115 420 L116.2 411 Q116.8 406 118.6 406 L124 406.5 Q126.8 406.5 126.8 409 L126.8 443.2 Z" fill="#ff0000" stroke="#b80000" stroke-width="0.7"/><use href="#oc" stroke="#ff0000" stroke-width="6.5"/></g>
<polyline clip-path="url(#cc)" points="40,446 40.2,445.9 40.4,445.9 40.6,445.9 40.8,445.9 41,445.9 41.2,445.9 41.4,445.9 41.6,445.9 41.8,445.9 42,445.9 42.2,445.9 42.4,445.9 42.6,445.9 42.8,445.8 43,445.8 43.2,445.8 43.4,445.8 43.6,445.8 43.8,445.8 44,445.8 44.2,445.8 44.4,445.8 44.6,445.8 44.8,445.8 45,445.8 45.2,445.7 45.4,445.7 45.6,445.7 45.8,445.7 46,445.7 46.2,445.7 46.4,445.7 46.6,445.7 46.8,445.7 47,445.7 47.2,445.7 47.4,445.7 47.6,445.7 47.8,445.6 48,445.6 48.2,445.6 48.4,445.6 48.6,445.6 48.8,445.6 49,445.6 49.2,445.6 49.4,445.6 49.6,445.6 49.8,445.6 50,445.6 50.2,445.6 50.4,445.5 50.6,445.5 50.8,445.5 51,445.5 51.2,445.5 51.4,445.5 51.6,445.5 51.8,445.5 52,445.5 52.2,445.5 52.4,445.5 52.6,445.5 52.8,445.4 53,445.4 53.2,445.4 53.4,445.4 53.6,445.4 53.8,445.4 54,445.4 54.2,445.4 54.4,445.4 54.6,445.4 54.8,445.4 55,445.4 55.2,445.3 55.4,445.3 55.6,445.3 55.8,445.3 56,445.3 56.2,445.3 56.4,445.3 56.6,445.3 56.8,445.3 57,445.3 57.2,445.3 57.4,445.3 57.6,445.2 57.8,445.2 58,445.2 58.2,445.2 58.4,445.2 58.6,445.2 58.8,445.2 59,445.2 59.2,445.2 59.4,445.2 59.6,445.2 59.8,445.2 60,445.1 60.2,445.1 60.4,445.1 60.6,445.1 60.8,445.1 61,445.1 61.2,445.1 61.4,445.1 61.6,445.1 61.8,445.1 62,445.1 62.2,445.1 62.4,445 62.6,445 62.8,445 63,445 63.2,445 63.4,445 63.6,445 63.8,445 64,445 64.2,445 64.4,445 64.6,444.9 64.8,444.9 65,444.9 65.2,444.9 65.4,444.9 65.6,444.9 65.8,444.9 66,444.9 66.2,444.9 66.4,444.9 66.6,444.8 66.8,444.8 67,444.8 67.2,444.8 67.4,444.8 67.6,444.8 67.8,444.8 68,444.8 68.2,444.8 68.4,444.8 68.6,444.7 68.8,444.7 69,444.7 69.2,444.7 69.4,444.7 69.6,444.7 69.8,444.7 70,444.7 70.2,444.6 70.4,444.6 70.6,444.6 70.8,444.6 71,444.6 71.2,444.6 71.4,444.6 71.6,444.6 71.8,444.5 72,444.5 72.2,444.5 72.4,444.5 72.6,444.5 72.8,444.5 73,444.5 73.2,444.4 73.4,444.4 73.6,444.4 73.8,444.4 74,444.4 74.2,444.4 74.4,444.3 74.6,444.3 74.8,444.3 75,444.3 75.2,444.3 75.4,444.2 75.6,444.2 75.8,444.2 76,444.2 76.2,444.1 76.4,444.1 76.6,444.1 76.8,444.1 77,444 77.2,444 77.4,444 77.6,443.9 77.8,443.9 78,443.8 78.2,443.8 78.4,443.8 78.6,443.7 78.8,443.7 79,443.6 79.2,443.5 79.4,443.5 79.6,443.4 79.8,443.3 80,443.2 80.2,443.1 80.4,443 80.6,442.9 80.8,442.7 81,442.5 81.2,442.2 81.4,441.9 81.6,441.5 81.8,440.9 82,440 82.2,438.9 82.4,437.4 82.6,435.5 82.8,432.9 83,429.7 83.2,425.6 83.4,420.8 83.6,415 83.8,408.5 84,401.3 84.2,393.6 84.4,385.8 84.6,378.1 84.8,371.1 85,365.2 85.2,361 85.4,358.7 85.6,358.7 85.8,360.9 86,365.2 86.2,371 86.4,378 86.6,385.6 86.8,393.4 87,401.1 87.2,408.2 87.4,414.7 87.6,420.4 87.8,425.2 88,429.2 88.2,432.5 88.4,435 88.6,436.9 88.8,438.4 89,439.4 89.2,440.2 89.4,440.8 89.6,441.2 89.8,441.5 90,441.7 90.2,441.9 90.4,442 90.6,442.1 90.8,442.2 91,442.3 91.2,442.4 91.4,442.4 91.6,442.5 91.8,442.5 92,442.5 92.2,442.6 92.4,442.6 92.6,442.6 92.8,442.6 93,442.7 93.2,442.7 93.4,442.7 93.6,442.7 93.8,442.7 94,442.7 94.2,442.7 94.4,442.7 94.6,442.7 94.8,442.7 95,442.7 95.2,442.7 95.4,442.7 95.6,442.7 95.8,442.7 96,442.7 96.2,442.7 96.4,442.7 96.6,442.7 96.8,442.7 97,442.7 97.2,442.7 97.4,442.7 97.6,442.7 97.8,442.6 98,442.6 98.2,442.6 98.4,442.6 98.6,442.6 98.8,442.6 99,442.6 99.2,442.6 99.4,442.6 99.6,442.5 99.8,442.5 100,442.5 100.2,442.5 100.4,442.5 100.6,442.5 100.8,442.5 101,442.5 101.2,442.4 101.4,442.4 101.6,442.4 101.8,442.4 102,442.4 102.2,442.4 102.4,442.3 102.6,442.3 102.8,442.3 103,442.3 103.2,442.3 103.4,442.3 103.6,442.3 103.8,442.2 104,442.2 104.2,442.2 104.4,442.2 104.6,442.2 104.8,442.2 105,442.1 105.2,442.1 105.4,442.1 105.6,442.1 105.8,442.1 106,442 106.2,442 106.4,442 106.6,442 106.8,442 107,442 107.2,441.9 107.4,441.9 107.6,441.9 107.8,441.9 108,441.9 108.2,441.8 108.4,441.8 108.6,441.8 108.8,441.8 109,441.8 109.2,441.7 109.4,441.7 109.6,441.7 109.8,441.7 110,441.7 110.2,441.6 110.4,441.6 110.6,441.6 110.8,441.6 111,441.6 111.2,441.5 111.4,441.5 111.6,441.5 111.8,441.5 112,441.5 112.2,441.4 112.4,441.4 112.6,441.4 112.8,441.4 113,441.3 113.2,441.3 113.4,441.3 113.6,441.3 113.8,441.2 114,441.2 114.2,441.2 114.4,441.2 114.6,441.1 114.8,441.1 115,441.1 115.2,441.1 115.4,441 115.6,441 115.8,441 116,440.9 116.2,440.9 116.4,440.9 116.6,440.9 116.8,440.8 117,440.8 117.2,440.8 117.4,440.7 117.6,440.7 117.8,440.7 118,440.6 118.2,440.6 118.4,440.5 118.6,440.5 118.8,440.5 119,440.4 119.2,440.4 119.4,440.3 119.6,440.3 119.8,440.3 120,440.2 120.2,440.2 120.4,440.1 120.6,440 120.8,440 121,439.9 121.2,439.9 121.4,439.8 121.6,439.7 121.8,439.7 122,439.6 122.2,439.5 122.4,439.4 122.6,439.3 122.8,439.2 123,439.2 123.2,439.1 123.4,439 123.6,438.9 123.8,438.8 124,438.7 124.2,438.5 124.4,438.4 124.6,438.3 124.8,438.1 125,438 125.2,437.8 125.4,437.6 125.6,437.4 125.8,437.2 126,436.9 126.2,436.6 126.4,436.1 126.6,435.5 126.8,434.7 127,433.5 127.2,431.8 127.4,429.2 127.6,425.4 127.8,419.9 128,412.1 128.2,401.1 128.4,386 128.6,365.7 128.8,339 129,309 129.2,309 129.4,309 129.6,309 129.8,309 130,309 130.2,309 130.4,309 130.6,309 130.8,309 131,309 131.2,309 131.4,309 131.6,309 131.8,309 132,309 132.2,309 132.4,309 132.6,309 132.8,309 133,309 133.2,309 133.4,309 133.6,309 133.8,309 134,309 134.2,309 134.4,309 134.6,322.9 134.8,353.1 135,376.4 135.2,394 135.4,406.9 135.6,416.2 135.8,422.8 136,427.3 136.2,430.4 136.4,432.6 136.6,434 136.8,435 137,435.7 137.2,436.2 137.4,436.6 137.6,436.9 137.8,437.1 138,437.3 138.2,437.5 138.4,437.7 138.6,437.8 138.8,438 139,438.1 139.2,438.2 139.4,438.3 139.6,438.4 139.8,438.5 140,438.6 140.2,438.7 140.4,438.8 140.6,438.9 140.8,439 141,439 141.2,439.1 141.4,439.2 141.6,439.2 141.8,439.3 142,439.3 142.2,439.4 142.4,439.4 142.6,439.4 142.8,439.5 143,439.5 143.2,439.5 143.4,439.6 143.6,439.6 143.8,439.6 144,439.7 144.2,439.7 144.4,439.7 144.6,439.7 144.8,439.7 145,439.8 145.2,439.8 145.4,439.8 145.6,439.8 145.8,439.8 146,439.8 146.2,439.8 146.4,439.9 146.6,439.9 146.8,439.9 147,439.9 147.2,439.9 147.4,439.9 147.6,439.9 147.8,439.9 148,439.9 148.2,439.9 148.4,439.9 148.6,439.9 148.8,439.9 149,439.9 149.2,439.9 149.4,439.9 149.6,439.9 149.8,439.9 150,439.9 150.2,439.9 150.4,439.9 150.6,439.9 150.8,439.9 151,439.9 151.2,439.9 151.4,439.9 151.6,439.9 151.8,439.9 152,439.9 152.2,439.9 152.4,439.9 152.6,439.9 152.8,439.9 153,439.9 153.2,439.9 153.4,439.9 153.6,439.9 153.8,439.9 154,439.9 154.2,439.9 154.4,439.8 154.6,439.8 154.8,439.8 155,439.8 155.2,439.8 155.4,439.8 155.6,439.8 155.8,439.8 156,439.8 156.2,439.7 156.4,439.7 156.6,439.7 156.8,439.7 157,439.7 157.2,439.7 157.4,439.6 157.6,439.6 157.8,439.6 158,439.6 158.2,439.6 158.4,439.5 158.6,439.5 158.8,439.5 159,439.4 159.2,439.4 159.4,439.4 159.6,439.3 159.8,439.3 160,439.3 160.2,439.2 160.4,439.2 160.6,439.1 160.8,439.1 161,439 161.2,439 161.4,438.9 161.6,438.8 161.8,438.8 162,438.7 162.2,438.6 162.4,438.5 162.6,438.4 162.8,438.3 163,438.2 163.2,438.1 163.4,438 163.6,437.9 163.8,437.7 164,437.6 164.2,437.4 164.4,437.3 164.6,437.1 164.8,436.9 165,436.7 165.2,436.4 165.4,436.1 165.6,435.8 165.8,435.2 166,434.5 166.2,433.5 166.4,431.9 166.6,429.6 166.8,426.1 167,420.8 167.2,413 167.4,401.9 167.6,386.2 167.8,364.6 168,335.9 168.2,309 168.4,309 168.6,309 168.8,309 169,309 169.2,309 169.4,309 169.6,309 169.8,309 170,309 170.2,309 170.4,309 170.6,309 170.8,309 171,309 171.2,309 171.4,309 171.6,309 171.8,309 172,309 172.2,309 172.4,309 172.6,309 172.8,309 173,309 173.2,309 173.4,318.3 173.6,351.2 173.8,376.2 174,394.6 174.2,407.9 174.4,417.2 174.6,423.6 174.8,427.9 175,430.8 175.2,432.7 175.4,434 175.6,434.8 175.8,435.4 176,435.9 176.2,436.2 176.4,436.5 176.6,436.7 176.8,436.9 177,437.1 177.2,437.3 177.4,437.4 177.6,437.6 177.8,437.7 178,437.8 178.2,437.9 178.4,438 178.6,438.1 178.8,438.2 179,438.3 179.2,438.4 179.4,438.5 179.6,438.6 179.8,438.6 180,438.7 180.2,438.8 180.4,438.8 180.6,438.9 180.8,438.9 181,439 181.2,439 181.4,439.1 181.6,439.1 181.8,439.1 182,439.2 182.2,439.2 182.4,439.2 182.6,439.3 182.8,439.3 183,439.3 183.2,439.4 183.4,439.4 183.6,439.4 183.8,439.4 184,439.4 184.2,439.5 184.4,439.5 184.6,439.5 184.8,439.5 185,439.5 185.2,439.5 185.4,439.5 185.6,439.6 185.8,439.6 186,439.6 186.2,439.6 186.4,439.6 186.6,439.6 186.8,439.6 187,439.6 187.2,439.6 187.4,439.6 187.6,439.7 187.8,439.7 188,439.7 188.2,439.7 188.4,439.7 188.6,439.7 188.8,439.7 189,439.7 189.2,439.7 189.4,439.7 189.6,439.7 189.8,439.7 190,439.7 190.2,439.7 190.4,439.7 190.6,439.7 190.8,439.7 191,439.7 191.2,439.7 191.4,439.7 191.6,439.7 191.8,439.8 192,439.8 192.2,439.8 192.4,439.8 192.6,439.8 192.8,439.8 193,439.8 193.2,439.8 193.4,439.8 193.6,439.8 193.8,439.8 194,439.8 194.2,439.8 194.4,439.8 194.6,439.8 194.8,439.8 195,439.8 195.2,439.8 195.4,439.8 195.6,439.8 195.8,439.8 196,439.8 196.2,439.8 196.4,439.8 196.6,439.8 196.8,439.8 197,439.8 197.2,439.8 197.4,439.8 197.6,439.8 197.8,439.8 198,439.8 198.2,439.8 198.4,439.8 198.6,439.8 198.8,439.8 199,439.8 199.2,439.8 199.4,439.8 199.6,439.8 199.8,439.8 200,439.8 200.2,439.8 200.4,439.8 200.6,439.8 200.8,439.8 201,439.8 201.2,439.7 201.4,439.7 201.6,439.7 201.8,439.7 202,439.7 202.2,439.7 202.4,439.7 202.6,439.7 202.8,439.7 203,439.7 203.2,439.6 203.4,439.6 203.6,439.6 203.8,439.5 204,439.5 204.2,439.4 204.4,439.3 204.6,439.2 204.8,439.2 205,439.1 205.2,439 205.4,438.9 205.6,438.9 205.8,438.8 206,438.8 206.2,438.8 206.4,438.9 206.6,438.9 206.8,439 207,439 207.2,439.1 207.4,439.2 207.6,439.3 207.8,439.3 208,439.4 208.2,439.4 208.4,439.5 208.6,439.5 208.8,439.5 209,439.5 209.2,439.5 209.4,439.6 209.6,439.6 209.8,439.6 210,439.6 210.2,439.6 210.4,439.6 210.6,439.6 210.8,439.6 211,439.6 211.2,439.5 211.4,439.5 211.6,439.5 211.8,439.5 212,439.5 212.2,439.5 212.4,439.5 212.6,439.5 212.8,439.5 213,439.5 213.2,439.5 213.4,439.5 213.6,439.5 213.8,439.5 214,439.5 214.2,439.5 214.4,439.5 214.6,439.5 214.8,439.5 215,439.5 215.2,439.5 215.4,439.5 215.6,439.5 215.8,439.4 216,439.4 216.2,439.4 216.4,439.4 216.6,439.4 216.8,439.4 217,439.4 217.2,439.4 217.4,439.4 217.6,439.4 217.8,439.4 218,439.4 218.2,439.4 218.4,439.4 218.6,439.4 218.8,439.4 219,439.4 219.2,439.4 219.4,439.4 219.6,439.3 219.8,439.3 220,439.3 220.2,439.3 220.4,439.3 220.6,439.3 220.8,439.3 221,439.3 221.2,439.3 221.4,439.3 221.6,439.3 221.8,439.3 222,439.3 222.2,439.3 222.4,439.3 222.6,439.3 222.8,439.3 223,439.2 223.2,439.2 223.4,439.2 223.6,439.2 223.8,439.2 224,439.2 224.2,439.2 224.4,439.2 224.6,439.2 224.8,439.2 225,439.2 225.2,439.2 225.4,439.2 225.6,439.1 225.8,439.1 226,439.1 226.2,439.1 226.4,439.1 226.6,439.1 226.8,439.1 227,439.1 227.2,439.1 227.4,439.1 227.6,439.1 227.8,439 228,439 228.2,439 228.4,439 228.6,439 228.8,439 229,439 229.2,439 229.4,439 229.6,438.9 229.8,438.9 230,438.9 230.2,438.9 230.4,438.9 230.6,438.9 230.8,438.8 231,438.8 231.2,438.8 231.4,438.8 231.6,438.8 231.8,438.7 232,438.7 232.2,438.7 232.4,438.6 232.6,438.6 232.8,438.6 233,438.5 233.2,438.5 233.4,438.4 233.6,438.4 233.8,438.3 234,438.3 234.2,438.2 234.4,438 234.6,437.9 234.8,437.7 235,437.4 235.2,437 235.4,436.5 235.6,435.9 235.8,435 236,433.8 236.2,432.3 236.4,430.4 236.6,428.1 236.8,425.4 237,422.2 237.2,418.8 237.4,415 237.6,411.2 237.8,407.3 238,403.8 238.2,400.7 238.4,398.4 238.6,397 238.8,396.7 239,397.6 239.2,399.4 239.4,402.1 239.6,405.5 239.8,409.2 240,413 240.2,416.9 240.4,420.5 240.6,423.8 240.8,426.7 241,429.2 241.2,431.3 241.4,432.9 241.6,434.3 241.8,435.3 242,436.1 242.2,436.6 242.4,437.1 242.6,437.4 242.8,437.6 243,437.8 243.2,437.9 243.4,438 243.6,438 243.8,438.1 244,438.2 244.2,438.2 244.4,438.2 244.6,438.3 244.8,438.3 245,438.3 245.2,438.3 245.4,438.4 245.6,438.4 245.8,438.4 246,438.4 246.2,438.4 246.4,438.4 246.6,438.4 246.8,438.4 247,438.5 247.2,438.5 247.4,438.5 247.6,438.5 247.8,438.5 248,438.5 248.2,438.5 248.4,438.5 248.6,438.5 248.8,438.5 249,438.5 249.2,438.5 249.4,438.5 249.6,438.5 249.8,438.5 250,438.5 250.2,438.5 250.4,438.5 250.6,438.5 250.8,438.5 251,438.5 251.2,438.5 251.4,438.5 251.6,438.5 251.8,438.5 252,438.5 252.2,438.5 252.4,438.5 252.6,438.5 252.8,438.5 253,438.5 253.2,438.5 253.4,438.5 253.6,438.5 253.8,438.5 254,438.5 254.2,438.4 254.4,438.4 254.6,438.4 254.8,438.4 255,438.4 255.2,438.4 255.4,438.4 255.6,438.4 255.8,438.4 256,438.4 256.2,438.4 256.4,438.4 256.6,438.4 256.8,438.4 257,438.4 257.2,438.4 257.4,438.4 257.6,438.4 257.8,438.4 258,438.4 258.2,438.4 258.4,438.4 258.6,438.4 258.8,438.4 259,438.3 259.2,438.3 259.4,438.3 259.6,438.3 259.8,438.3 260,438.3 260.2,438.3 260.4,438.3 260.6,438.3 260.8,438.3 261,438.3 261.2,438.3 261.4,438.3 261.6,438.3 261.8,438.3 262,438.3 262.2,438.3 262.4,438.3 262.6,438.3 262.8,438.2 263,438.2 263.2,438.2 263.4,438.2 263.6,438.2 263.8,438.2 264,438.2 264.2,438.2 264.4,438.2 264.6,438.2 264.8,438.2 265,438.2 265.2,438.2 265.4,438.2 265.6,438.2 265.8,438.2 266,438.2 266.2,438.1 266.4,438.1 266.6,438.1 266.8,438.1 267,438.1 267.2,438.1 267.4,438.1 267.6,438.1 267.8,438.1 268,438.1 268.2,438.1 268.4,438.1 268.6,438.1 268.8,438.1 269,438.1 269.2,438.1 269.4,438 269.6,438 269.8,438 270,438 270.2,438 270.4,438 270.6,438 270.8,438 271,438 271.2,438 271.4,438 271.6,438 271.8,438 272,438 272.2,437.9 272.4,437.9 272.6,437.9 272.8,437.9 273,437.9 273.2,437.9 273.4,437.9 273.6,437.9 273.8,437.9 274,437.9 274.2,437.9 274.4,437.9 274.6,437.9 274.8,437.8 275,437.8 275.2,437.8 275.4,437.8 275.6,437.8 275.8,437.8 276,437.8 276.2,437.8 276.4,437.8 276.6,437.8 276.8,437.8 277,437.7 277.2,437.7 277.4,437.7 277.6,437.7 277.8,437.7 278,437.7 278.2,437.7 278.4,437.7 278.6,437.7 278.8,437.7 279,437.6 279.2,437.6 279.4,437.6 279.6,437.6 279.8,437.6 280,437.6 280.2,437.6 280.4,437.6 280.6,437.6 280.8,437.5 281,437.5 281.2,437.5 281.4,437.5 281.6,437.5 281.8,437.5 282,437.5 282.2,437.4 282.4,437.4 282.6,437.4 282.8,437.4 283,437.4 283.2,437.4 283.4,437.3 283.6,437.3 283.8,437.3 284,437.3 284.2,437.3 284.4,437.2 284.6,437.2 284.8,437.2 285,437.2 285.2,437.1 285.4,437.1 285.6,437.1 285.8,437.1 286,437 286.2,437 286.4,437 286.6,436.9 286.8,436.9 287,436.9 287.2,436.8 287.4,436.8 287.6,436.8 287.8,436.7 288,436.7 288.2,436.6 288.4,436.6 288.6,436.5 288.8,436.5 289,436.4 289.2,436.3 289.4,436.3 289.6,436.2 289.8,436.1 290,436 290.2,436 290.4,435.9 290.6,435.8 290.8,435.7 291,435.6 291.2,435.4 291.4,435.3 291.6,435.2 291.8,435 292,434.9 292.2,434.7 292.4,434.5 292.6,434.4 292.8,434.1 293,433.9 293.2,433.6 293.4,433.2 293.6,432.6 293.8,431.9 294,430.7 294.2,429 294.4,426.4 294.6,422.5 294.8,416.7 295,408.2 295.2,396 295.4,379 295.6,355.8 295.8,325 296,309 296.2,309 296.4,309 296.6,309 296.8,309 297,309 297.2,309 297.4,309 297.6,309 297.8,309 298,309 298.2,309 298.4,309 298.6,309 298.8,309 299,309 299.2,309 299.4,309 299.6,309 299.8,309 300,309 300.2,309 300.4,309 300.6,309 300.8,309 301,309 301.2,324.9 301.4,355.7 301.6,378.9 301.8,395.9 302,408 302.2,416.5 302.4,422.3 302.6,426.2 302.8,428.8 303,430.5 303.2,431.6 303.4,432.4 303.6,432.9 303.8,433.3 304,433.6 304.2,433.9 304.4,434.1 304.6,434.3 304.8,434.4 305,434.6 305.2,434.7 305.4,434.9 305.6,435 305.8,435.1 306,435.2 306.2,435.3 306.4,435.4 306.6,435.5 306.8,435.6 307,435.6 307.2,435.7 307.4,435.8 307.6,435.8 307.8,435.9 308,436 308.2,436 308.4,436.1 308.6,436.1 308.8,436.1 309,436.2 309.2,436.2 309.4,436.3 309.6,436.3 309.8,436.3 310,436.3 310.2,436.4 310.4,436.4 310.6,436.4 310.8,436.4 311,436.5 311.2,436.5 311.4,436.5 311.6,436.5 311.8,436.5 312,436.6 312.2,436.6 312.4,436.6 312.6,436.6 312.8,436.6 313,436.6 313.2,436.6 313.4,436.6 313.6,436.6 313.8,436.7 314,436.7 314.2,436.7 314.4,436.7 314.6,436.7 314.8,436.7 315,436.7 315.2,436.7 315.4,436.7 315.6,436.7 315.8,436.7 316,436.7 316.2,436.7 316.4,436.7 316.6,436.7 316.8,436.7 317,436.7 317.2,436.7 317.4,436.7 317.6,436.7 317.8,436.7 318,436.7 318.2,436.7 318.4,436.7 318.6,436.7 318.8,436.7 319,436.7 319.2,436.7 319.4,436.7 319.6,436.7 319.8,436.7 320,436.7 320.2,436.7 320.4,436.7 320.6,436.7 320.8,436.7 321,436.7 321.2,436.7 321.4,436.6 321.6,436.6 321.8,436.6 322,436.5 322.2,436.4 322.4,436.4 322.6,436.2 322.8,436.1 323,435.9 323.2,435.7 323.4,435.5 323.6,435.3 323.8,435 324,434.7 324.2,434.5 324.4,434.3 324.6,434.1 324.8,434 325,434 325.2,434 325.4,434.1 325.6,434.3 325.8,434.5 326,434.7 326.2,435 326.4,435.2 326.6,435.5 326.8,435.7 327,435.9 327.2,436 327.4,436.2 327.6,436.3 327.8,436.4 328,436.5 328.2,436.5 328.4,436.6 328.6,436.6 328.8,436.6 329,436.6 329.2,436.6 329.4,436.6 329.6,436.6 329.8,436.6 330,436.6 330.2,436.6 330.4,436.6 330.6,436.6 330.8,436.6 331,436.6 331.2,436.6 331.4,436.6 331.6,436.6 331.8,436.6 332,436.6 332.2,436.6 332.4,436.6 332.6,436.6 332.8,436.6 333,436.6 333.2,436.6 333.4,436.6 333.6,436.6 333.8,436.6 334,436.6 334.2,436.6 334.4,436.6 334.6,436.6 334.8,436.6 335,436.6 335.2,436.6 335.4,436.6 335.6,436.5 335.8,436.5 336,436.5 336.2,436.5 336.4,436.5 336.6,436.5 336.8,436.5 337,436.5 337.2,436.5 337.4,436.5 337.6,436.5 337.8,436.5 338,436.5 338.2,436.5 338.4,436.5 338.6,436.5 338.8,436.5 339,436.5 339.2,436.4 339.4,436.4 339.6,436.4 339.8,436.4 340,436.4 340.2,436.4 340.4,436.4 340.6,436.4 340.8,436.4 341,436.4 341.2,436.4 341.4,436.4 341.6,436.4 341.8,436.3 342,436.3 342.2,436.3 342.4,436.3 342.6,436.3 342.8,436.3 343,436.3 343.2,436.3 343.4,436.3 343.6,436.2 343.8,436.2 344,436.2 344.2,436.2 344.4,436.2 344.6,436.2 344.8,436.2 345,436.1 345.2,436.1 345.4,436.1 345.6,436.1 345.8,436 346,436 346.2,436 346.4,436 346.6,435.9 346.8,435.9 347,435.8 347.2,435.7 347.4,435.6 347.6,435.5 347.8,435.3 348,435 348.2,434.6 348.4,434.2 348.6,433.6 348.8,432.8 349,431.9 349.2,430.7 349.4,429.4 349.6,428 349.8,426.3 350,424.6 350.2,422.9 350.4,421.2 350.6,419.7 350.8,418.5 351,417.7 351.2,417.3 351.4,417.4 351.6,418 351.8,419 352,420.4 352.2,421.9 352.4,423.6 352.6,425.3 352.8,427 353,428.5 353.2,429.9 353.4,431.1 353.6,432.1 353.8,432.9 354,433.6 354.2,434.1 354.4,434.5 354.6,434.8 354.8,435 355,435.1 355.2,435.3 355.4,435.3 355.6,435.4 355.8,435.4 356,435.4 356.2,435.5 356.4,435.5 356.6,435.5 356.8,435.5 357,435.5 357.2,435.5 357.4,435.5 357.6,435.5 357.8,435.5 358,435.4 358.2,435.4 358.4,435.4 358.6,435.4 358.8,435.4 359,435.4 359.2,435.4 359.4,435.3 359.6,435.3 359.8,435.3 360,435.3 360.2,435.3 360.4,435.2 360.6,435.2 360.8,435.2 361,435.2 361.2,435.1 361.4,435.1 361.6,435.1 361.8,435.1 362,435 362.2,435 362.4,435 362.6,434.9 362.8,434.9 363,434.8 363.2,434.8 363.4,434.8 363.6,434.7 363.8,434.7 364,434.6 364.2,434.6 364.4,434.5 364.6,434.4 364.8,434.4 365,434.3 365.2,434.3 365.4,434.2 365.6,434.1 365.8,434 366,434 366.2,433.9 366.4,433.8 366.6,433.7 366.8,433.6 367,433.5 367.2,433.4 367.4,433.2 367.6,433.1 367.8,433 368,432.8 368.2,432.7 368.4,432.5 368.6,432.3 368.8,432.2 369,432 369.2,431.8 369.4,431.5 369.6,431.3 369.8,431 370,430.8 370.2,430.5 370.4,430.1 370.6,429.8 370.8,429.4 371,429 371.2,428.6 371.4,428.1 371.6,427.6 371.8,427 372,426.4 372.2,425.6 372.4,424.8 372.6,423.8 372.8,422.7 373,421.3 373.2,419.6 373.4,417.4 373.6,414.6 373.8,411 374,406.2 374.2,400.2 374.4,392.4 374.6,382.5 374.8,370.3 375,355.4 375.2,337.8 375.4,317.3 375.6,309 375.8,309 376,309 376.2,309 376.4,309 376.6,309 376.8,309 377,309 377.2,309 377.4,309 377.6,309 377.8,309 378,309 378.2,309 378.4,309 378.6,309 378.8,309 379,317.3 379.2,337.7 379.4,355.4 379.6,370.3 379.8,382.5 380,392.3 380.2,400.1 380.4,406.2 380.6,410.9 380.8,414.5 381,417.2 381.2,419.4 381.4,421.1 381.6,422.5 381.8,423.6 382,424.6 382.2,425.4 382.4,426.1 382.6,426.7 382.8,427.2 383,427.7 383.2,428.2 383.4,428.6 383.6,429 383.8,429.4 384,429.7 384.2,430 384.4,430.2 384.6,430.5 384.8,430.7 385,430.9 385.2,431.1 385.4,431.3 385.6,431.5 385.8,431.6 386,431.8 386.2,431.9 386.4,432 386.6,432.2 386.8,432.3 387,432.4 387.2,432.4 387.4,432.5 387.6,432.6 387.8,432.7 388,432.7 388.2,432.8 388.4,432.8 388.6,432.9 388.8,432.9 389,432.9 389.2,433 389.4,433 389.6,433 389.8,433 390,433 390.2,433 390.4,433 390.6,433 390.8,433 391,433 391.2,433 391.4,433 391.6,432.9 391.8,432.9 392,432.9 392.2,432.8 392.4,432.8 392.6,432.7 392.8,432.6 393,432.6 393.2,432.5 393.4,432.4 393.6,432.3 393.8,432.2 394,432 394.2,431.9 394.4,431.8 394.6,431.6 394.8,431.4 395,431.2 395.2,431 395.4,430.7 395.6,430.4 395.8,430.1 396,429.7 396.2,429.2 396.4,428.7 396.6,428 396.8,427.2 397,426.1 397.2,424.9 397.4,423.3 397.6,421.3 397.8,418.9 398,416 398.2,412.5 398.4,408.3 398.6,403.4 398.8,397.8 399,391.3 399.2,384.1 399.4,376.2 399.6,367.7 399.8,358.8 400,349.8 400.2,340.9 400.4,332.5 400.6,325 400.8,319.1 401,315 401.2,313.2 401.4,313.8 401.6,316.8 401.8,321.9 402,328.6 402.2,336.6 402.4,345.3 402.6,354.4 402.8,363.4 403,372.1 403.2,380.3 403.4,387.9 403.6,394.7 403.8,400.8 404,406.1 404.2,410.7 404.4,414.5 404.6,417.7 404.8,420.4 405,422.5 405.2,424.3 405.4,425.7 405.6,426.9 405.8,427.8 406,428.6 406.2,429.2 406.4,429.8 406.6,430.2 406.8,430.6 407,430.9 407.2,431.2 407.4,431.4 407.6,431.7 407.8,431.9 408,432.1 408.2,432.3 408.4,432.4 408.6,432.6 408.8,432.7 409,432.8 409.2,432.9 409.4,433.1 409.6,433.2 409.8,433.3 410,433.3 410.2,433.4 410.4,433.5 410.6,433.6 410.8,433.7 411,433.7 411.2,433.8 411.4,433.8 411.6,433.9 411.8,433.9 412,434 412.2,434 412.4,434.1 412.6,434.1 412.8,434.2 413,434.2 413.2,434.2 413.4,434.3 413.6,434.3 413.8,434.3 414,434.4 414.2,434.4 414.4,434.4 414.6,434.4 414.8,434.5 415,434.5 415.2,434.5 415.4,434.5 415.6,434.5 415.8,434.6 416,434.6 416.2,434.6 416.4,434.6 416.6,434.6 416.8,434.6 417,434.7 417.2,434.7 417.4,434.7 417.6,434.7 417.8,434.7 418,434.7 418.2,434.7 418.4,434.7 418.6,434.7 418.8,434.8 419,434.8 419.2,434.8 419.4,434.8 419.6,434.8 419.8,434.8 420,434.8 420.2,434.8 420.4,434.8 420.6,434.8 420.8,434.8 421,434.8 421.2,434.8 421.4,434.8 421.6,434.8 421.8,434.8 422,434.8 422.2,434.8 422.4,434.8 422.6,434.8 422.8,434.8 423,434.7 423.2,434.7 423.4,434.7 423.6,434.6 423.8,434.5 424,434.5 424.2,434.4 424.4,434.3 424.6,434.3 424.8,434.2 425,434.1 425.2,434 425.4,434 425.6,433.9 425.8,433.9 426,433.9 426.2,433.9 426.4,433.9 426.6,434 426.8,434 427,434.1 427.2,434.2 427.4,434.3 427.6,434.4 427.8,434.4 428,434.5 428.2,434.6 428.4,434.6 428.6,434.7 428.8,434.7 429,434.8 429.2,434.8 429.4,434.8 429.6,434.9 429.8,434.9 430,434.9 430.2,434.9 430.4,434.9 430.6,434.9 430.8,434.9 431,434.9 431.2,434.9 431.4,434.9 431.6,434.9 431.8,434.9 432,434.9 432.2,434.9 432.4,434.9 432.6,434.9 432.8,434.9 433,434.9 433.2,434.9 433.4,434.9 433.6,434.9 433.8,434.9 434,434.9 434.2,434.9 434.4,434.9 434.6,434.9 434.8,434.9 435,434.9 435.2,434.9 435.4,434.9 435.6,434.9 435.8,434.9 436,434.9 436.2,434.9 436.4,434.9 436.6,434.9 436.8,434.9 437,434.9 437.2,434.9 437.4,434.8 437.6,434.8 437.8,434.8 438,434.8 438.2,434.8 438.4,434.8 438.6,434.8 438.8,434.8 439,434.8 439.2,434.8 439.4,434.8 439.6,434.8 439.8,434.8 440,434.8 440.2,434.8 440.4,434.8 440.6,434.7 440.8,434.7 441,434.7 441.2,434.7 441.4,434.7 441.6,434.7 441.8,434.7 442,434.7 442.2,434.6 442.4,434.6 442.6,434.6 442.8,434.6 443,434.5 443.2,434.5 443.4,434.5 443.6,434.4 443.8,434.3 444,434.2 444.2,434.1 444.4,433.9 444.6,433.7 444.8,433.4 445,433 445.2,432.5 445.4,432 445.6,431.3 445.8,430.6 446,429.7 446.2,428.7 446.4,427.6 446.6,426.4 446.8,425.2 447,424 447.2,422.8 447.4,421.6 447.6,420.7 447.8,419.9 448,419.4 448.2,419.2 448.4,419.2 448.6,419.6 448.8,420.2 449,421.1 449.2,422.2 449.4,423.3 449.6,424.5 449.8,425.8 450,427 450.2,428.1 450.4,429.1 450.6,430.1 450.8,430.9 451,431.6 451.2,432.2 451.4,432.7 451.6,433.1 451.8,433.4 452,433.7 452.2,433.9 452.4,434 452.6,434.1 452.8,434.2 453,434.3 453.2,434.3 453.4,434.4 453.6,434.4 453.8,434.4 454,434.5 454.2,434.5 454.4,434.5 454.6,434.5 454.8,434.5 455,434.5 455.2,434.5 455.4,434.5 455.6,434.5 455.8,434.5 456,434.6 456.2,434.6 456.4,434.6 456.6,434.6 456.8,434.6 457,434.6 457.2,434.6 457.4,434.6 457.6,434.6 457.8,434.6 458,434.6 458.2,434.6 458.4,434.6 458.6,434.6 458.8,434.6 459,434.6 459.2,434.6 459.4,434.6 459.6,434.6 459.8,434.6 460,434.6 460.2,434.6 460.4,434.6 460.6,434.6 460.8,434.6 461,434.6 461.2,434.6 461.4,434.6 461.6,434.6 461.8,434.6 462,434.6 462.2,434.6 462.4,434.6 462.6,434.6 462.8,434.6 463,434.6 463.2,434.5 463.4,434.5 463.6,434.5 463.8,434.5 464,434.5 464.2,434.5 464.4,434.5 464.6,434.5 464.8,434.5 465,434.5 465.2,434.5 465.4,434.5 465.6,434.5 465.8,434.5 466,434.5 466.2,434.5 466.4,434.5 466.6,434.5 466.8,434.5 467,434.5 467.2,434.5 467.4,434.5 467.6,434.5 467.8,434.5 468,434.5 468.2,434.5 468.4,434.5 468.6,434.5 468.8,434.5 469,434.5 469.2,434.5 469.4,434.5 469.6,434.5 469.8,434.5 470,434.4 470.2,434.4 470.4,434.4 470.6,434.4 470.8,434.4 471,434.4 471.2,434.4 471.4,434.4 471.6,434.4 471.8,434.4 472,434.4 472.2,434.4 472.4,434.4 472.6,434.4 472.8,434.4 473,434.4 473.2,434.4 473.4,434.4 473.6,434.4 473.8,434.4 474,434.4 474.2,434.4 474.4,434.4 474.6,434.4 474.8,434.3 475,434.3 475.2,434.3 475.4,434.3 475.6,434.3 475.8,434.3 476,434.3 476.2,434.3 476.4,434.3 476.6,434.3 476.8,434.3 477,434.3 477.2,434.3 477.4,434.3 477.6,434.3 477.8,434.3 478,434.3 478.2,434.3 478.4,434.3 478.6,434.2 478.8,434.2 479,434.2 479.2,434.2 479.4,434.2 479.6,434.2 479.8,434.2 480,434.2 480.2,434.2 480.4,434.2 480.6,434.2 480.8,434.2 481,434.2 481.2,434.2 481.4,434.1 481.6,434.1 481.8,434.1 482,434.1 482.2,434.1 482.4,434.1 482.6,434.1 482.8,434.1 483,434.1 483.2,434.1 483.4,434.1 483.6,434 483.8,434 484,434 484.2,434 484.4,434 484.6,434 484.8,434 485,433.9 485.2,433.9 485.4,433.9 485.6,433.9 485.8,433.9 486,433.8 486.2,433.8 486.4,433.8 486.6,433.8 486.8,433.8 487,433.7 487.2,433.7 487.4,433.7 487.6,433.6 487.8,433.6 488,433.6 488.2,433.5 488.4,433.5 488.6,433.4 488.8,433.3 489,433.3 489.2,433.2 489.4,433.1 489.6,432.9 489.8,432.7 490,432.5 490.2,432.2 490.4,431.9 490.6,431.4 490.8,430.9 491,430.2 491.2,429.4 491.4,428.4 491.6,427.1 491.8,425.7 492,424 492.2,422.1 492.4,419.9 492.6,417.5 492.8,414.9 493,412.1 493.2,409.1 493.4,406.1 493.6,403.1 493.8,400.1 494,397.4 494.2,394.9 494.4,392.8 494.6,391.3 494.8,390.3 495,390 495.2,390.3 495.4,391.3 495.6,392.8 495.8,394.9 496,397.3 496.2,400.1 496.4,403 496.6,406 496.8,409.1 497,412 497.2,414.8 497.4,417.4 497.6,419.8 497.8,422 498,423.9 498.2,425.6 498.4,427 498.6,428.2 498.8,429.2 499,430.1 499.2,430.8 499.4,431.3 499.6,431.7 499.8,432.1 500,432.4 500.2,432.6 500.4,432.7 500.6,432.9 500.8,433 501,433.1 501.2,433.1 501.4,433.2 501.6,433.3 501.8,433.3 502,433.3 502.2,433.4 502.4,433.4 502.6,433.4 502.8,433.4 503,433.5 503.2,433.5 503.4,433.5 503.6,433.5 503.8,433.5 504,433.6 504.2,433.6 504.4,433.6 504.6,433.6 504.8,433.6 505,433.6 505.2,433.6 505.4,433.6 505.6,433.7 505.8,433.7 506,433.7" stroke="#000" stroke-width="3" fill="none" stroke-linejoin="round"/>
<defs><path id="od" d="M39.5 603.2h0M39.9 607.4h0M40.3 610h0M40.7 603.2h0M41.1 603h0M41.4 602.6h0M41.8 609.7h0M42.2 608.9h0M42.6 608.3h0M43 606.5h0M43.4 610.4h0M43.8 610.9h0M44.2 603.7h0M44.6 610.7h0M44.9 607.5h0M45.3 607h0M45.7 604h0M46.1 603.6h0M46.5 604.5h0M46.9 610h0M47.3 604.9h0M47.7 610.4h0M48 609.4h0M48.4 605.8h0M48.8 606.1h0M49.2 603h0M49.6 606.9h0M50 603.9h0M50.4 603.5h0M50.8 603h0M51.2 603.7h0M51.5 605.6h0M51.9 601.8h0M52.3 608.8h0M52.7 604.6h0M53.1 603.3h0M53.5 602.1h0M53.9 605.1h0M54.3 603.6h0M54.7 607.6h0M55 602.9h0M55.4 603.5h0M55.8 602.1h0M56.2 607.6h0M56.6 606.1h0M57 601.7h0M57.4 607.9h0M57.8 604.1h0M58.1 608.6h0M58.5 608.4h0M58.9 610.1h0M59.3 603.2h0M59.7 602.1h0M60.1 610.1h0M60.5 608.6h0M60.9 606.9h0M61.3 603.9h0M61.6 605.2h0M62 603h0M62.4 607.4h0M62.8 606.7h0M63.2 605.8h0M63.6 609.7h0M64 607h0M64.4 610h0M64.8 605.8h0M65.1 608.2h0M65.5 608.2h0M65.9 604.5h0M66.3 607.7h0M66.7 609.2h0M67.1 608.5h0M67.5 609.2h0M67.9 607.3h0M68.2 606.3h0M68.6 608.3h0M69 603.2h0M69.4 606.2h0M69.8 603.7h0M70.2 605.8h0M70.6 608.3h0M71 603.7h0M71.4 607.6h0M71.7 602.5h0M72.1 604.3h0M72.5 603.8h0M72.9 602.1h0M73.3 603.7h0M73.7 608.7h0M74.1 603.3h0M74.5 602.3h0M74.9 604.8h0M75.2 607.1h0M75.6 608.1h0M76 603.5h0M76.4 602.6h0M76.8 601h0M77.2 603.7h0M77.6 599.2h0M78 600.6h0M78.4 600.3h0M78.7 601.9h0M79.1 601.5h0M79.5 601.8h0M79.9 606.8h0M80.3 603.5h0M80.7 603.8h0M81.1 601.5h0M81.5 599h0M81.8 602.6h0M82.2 602.2h0M82.6 597.3h0M83 587.8h0M83.4 579.7h0M83.8 570.2h0M84.2 548.6h0M84.6 533.7h0M85 519.5h0M85.3 511.3h0M85.7 511.7h0M86.1 522.3h0M86.5 535.4h0M86.9 547.5h0M87.3 565.5h0M87.7 580.9h0M88.1 591.2h0M88.5 598.1h0M88.8 599.3h0M89.2 600.9h0M89.6 605.1h0M90 606.5h0M90.4 603.9h0M90.8 600.3h0M91.2 606.4h0M91.6 599.2h0M91.9 605.2h0M92.3 600h0M92.7 600.2h0M93.1 600.4h0M93.5 601h0M93.9 600.2h0M94.3 602.4h0M94.7 601.9h0M95.1 602.6h0M95.4 599.9h0M95.8 605.6h0M96.2 600.4h0M96.6 604.9h0M97 607.4h0M97.4 600.7h0M97.8 600.2h0M98.2 605.4h0M98.6 605.4h0M98.9 602.5h0M99.3 601.5h0M99.7 604.3h0M100.1 601.7h0M100.5 600.5h0M100.9 601.4h0M101.3 598.2h0M101.7 602.1h0M102 599h0M102.4 604.1h0M102.8 601.1h0M103.2 599.1h0M103.6 606.4h0M104 604.4h0M104.4 603.5h0M104.8 602.2h0M105.2 599.3h0M105.5 602.7h0M105.9 605.8h0M106.3 602h0M106.7 598h0M107.1 604.6h0M107.5 599.6h0M107.9 604.2h0M108.3 601.9h0M108.7 599.5h0M109 597.9h0M109.4 597.9h0M109.8 598.6h0M110.2 599.4h0M110.6 599.3h0M111 602.5h0M111.4 595.2h0M111.8 601.9h0M112.1 600.8h0M112.5 599.2h0M112.9 600.4h0M113.3 595.4h0M113.7 594.6h0M114.1 598h0M114.5 597.5h0M114.9 597h0M115.3 593.5h0M115.6 590.5h0M116 589.6h0M116.4 589.5h0M116.8 584.8h0M117.2 579.2h0M117.6 569.1h0M118 570.9h0M118.4 568.6h0M118.8 565.6h0M119.1 574.6h0M119.5 570.4h0M119.9 577.2h0M120.3 575.2h0M120.7 567.6h0M121.1 573.5h0M121.5 569.8h0M121.9 567.7h0M122.3 569.3h0M122.6 566.2h0M123 571.1h0M123.4 574.3h0M123.8 571.9h0M124.2 575.8h0M124.6 566.1h0M125 570.4h0M125.4 574.9h0M125.7 579.4h0M126.1 586.3h0M126.5 592h0M126.9 592.4h0M127.3 580.3h0M127.7 572.3h0M128.1 557.3h0M128.5 537.4h0M128.9 487.4h0M129.2 460h0M129.6 460h0M130 460h0M130.4 460h0M130.8 460h0M131.2 460h0M131.6 460h0M132 460h0M132.4 460h0M132.7 460h0M133.1 460h0M133.5 460h0M133.9 460h0M134.3 460h0M134.7 483h0M135.1 534.6h0M135.5 561.6h0M135.8 573.7h0M136.2 585.2h0M136.6 588.5h0M137 587.2h0M137.4 591.6h0M137.8 595.3h0M138.2 595.4h0M138.6 590.6h0M139 595.5h0M139.3 591.3h0M139.7 592.9h0M140.1 597h0M140.5 596.5h0M140.9 595.3h0M141.3 592.8h0M141.7 596.8h0M142.1 597.5h0M142.5 593h0M142.8 599.3h0M143.2 595.2h0M143.6 597.3h0M144 595.7h0M144.4 596.5h0M144.8 600.3h0M145.2 595.3h0M145.6 600.6h0M145.9 600.6h0M146.3 602.6h0M146.7 595.6h0M147.1 601h0M147.5 597.4h0M147.9 599.5h0M148.3 599.4h0M148.7 602h0M149.1 598.9h0M149.4 597.3h0M149.8 596.9h0M150.2 595.2h0M150.6 594.6h0M151 599.9h0M151.4 594.4h0M151.8 594.2h0M152.2 596h0M152.6 593.8h0M152.9 598.4h0M153.3 595.4h0M153.7 602.5h0M154.1 595.5h0M154.5 600.5h0M154.9 600h0M155.3 597.8h0M155.7 595.4h0M156.1 602.5h0M156.4 602.9h0M156.8 597.1h0M157.2 602.4h0M157.6 600.4h0M158 601.8h0M158.4 598.7h0M158.8 597.7h0M159.2 600.2h0M159.5 600h0M159.9 593.1h0M160.3 594.9h0M160.7 594.6h0M161.1 601.3h0M161.5 595.4h0M161.9 596.9h0M162.3 591.4h0M162.7 594.3h0M163 597.4h0M163.4 599h0M163.8 597h0M164.2 590.6h0M164.6 589.2h0M165 591.1h0M165.4 590.9h0M165.8 588h0M166.2 588h0M166.5 584.4h0M166.9 576.7h0M167.3 557.4h0M167.7 526.5h0M168.1 468.6h0M168.5 460h0M168.9 460h0M169.3 460h0M169.6 460h0M170 460h0M170.4 460h0M170.8 460h0M171.2 460h0M171.6 460h0M172 460h0M172.4 460h0M172.8 460h0M173.1 460h0M173.5 490h0M173.9 540.7h0M174.3 565.9h0M174.7 579.9h0M175.1 581.8h0M175.5 591.1h0M175.9 585.9h0M176.3 594.6h0M176.6 592.5h0M177 592.8h0M177.4 592.2h0M177.8 593.7h0M178.2 593h0M178.6 591.7h0M179 591.6h0M179.4 595.5h0M179.7 593.9h0M180.1 598.3h0M180.5 594.9h0M180.9 599.1h0M181.3 599.9h0M181.7 601.1h0M182.1 597.2h0M182.5 593.3h0M182.9 599.9h0M183.2 600.1h0M183.6 596.6h0M184 598.2h0M184.4 597.2h0M184.8 600.6h0M185.2 595.6h0M185.6 594.6h0M186 595.4h0M186.4 594.1h0M186.7 599.8h0M187.1 597.5h0M187.5 596.7h0M187.9 599.7h0M188.3 600.9h0M188.7 597h0M189.1 599.6h0M189.5 602.7h0M189.8 599.3h0M190.2 601.5h0M190.6 597.6h0M191 595.1h0M191.4 599.2h0M191.8 593.4h0M192.2 598.8h0M192.6 599.2h0M193 592.5h0M193.3 593.4h0M193.7 597.6h0M194.1 599.5h0M194.5 593.5h0M194.9 591.6h0M195.3 591.9h0M195.7 593.6h0M196.1 586.6h0M196.5 583.9h0M196.8 585.8h0M197.2 591.4h0M197.6 582.7h0M198 584h0M198.4 586.3h0M198.8 588.3h0M199.2 591.1h0M199.6 591.1h0M200 597.1h0M200.3 592.3h0M200.7 598h0M201.1 592.2h0M201.5 592.3h0M201.9 599.6h0M202.3 601.9h0M202.7 601.5h0M203.1 599h0M203.4 595h0M203.8 597.5h0M204.2 595.1h0M204.6 595.3h0M205 600.3h0M205.4 601.5h0M205.8 601.1h0M206.2 598.8h0M206.6 597h0M206.9 594.6h0M207.3 594.3h0M207.7 601.4h0M208.1 594.8h0M208.5 593.6h0M208.9 599.9h0M209.3 594.5h0M209.7 599.2h0M210.1 593.7h0M210.4 602.3h0M210.8 598.3h0M211.2 596.2h0M211.6 599.2h0M212 601.7h0M212.4 594.8h0M212.8 595.8h0M213.2 595.5h0M213.5 601.4h0M213.9 597.1h0M214.3 596.5h0M214.7 600.4h0M215.1 595.8h0M215.5 596.3h0M215.9 600.2h0M216.3 596.5h0M216.7 599h0M217 593.1h0M217.4 598.3h0M217.8 597.7h0M218.2 592.8h0M218.6 594.6h0M219 591.4h0M219.4 593.7h0M219.8 590.1h0M220.2 589.2h0M220.5 597h0M220.9 594.9h0M221.3 592.4h0M221.7 594.4h0M222.1 596.1h0M222.5 590.8h0M222.9 594.8h0M223.3 594.4h0M223.6 595.5h0M224 596.1h0M224.4 595.7h0M224.8 600.1h0M225.2 595.2h0M225.6 593.9h0M226 601h0M226.4 594.4h0M226.8 594.4h0M227.1 599.1h0M227.5 598.8h0M227.9 597.4h0M228.3 597.2h0M228.7 595.6h0M229.1 597.3h0M229.5 596.1h0M229.9 601.2h0M230.3 593.4h0M230.6 600.8h0M231 597.7h0M231.4 601.8h0M231.8 600.9h0M232.2 598.5h0M232.6 600.7h0M233 594.5h0M233.4 598.4h0M233.7 600.5h0M234.1 597.4h0M234.5 597.2h0M234.9 592.2h0M235.3 590.5h0M235.7 587.4h0M236.1 586.9h0M236.5 578.9h0M236.9 568.5h0M237.2 545.8h0M237.6 533.9h0M238 517.4h0M238.4 502.9h0M238.8 502.4h0M239.2 506.6h0M239.6 518.7h0M240 535.8h0M240.4 553.7h0M240.7 566.4h0M241.1 580.4h0M241.5 586.6h0M241.9 592h0M242.3 591.8h0M242.7 596.5h0M243.1 595.4h0M243.5 599h0M243.9 595h0M244.2 601.7h0M244.6 594.6h0M245 600h0M245.4 593.8h0M245.8 601.5h0M246.2 602h0M246.6 600.1h0M247 594.3h0M247.3 597.2h0M247.7 593.8h0M248.1 596h0M248.5 598.9h0M248.9 598.3h0M249.3 599.7h0M249.7 597.3h0M250.1 598.7h0M250.5 594h0M250.8 595.3h0M251.2 598h0M251.6 595.8h0M252 601.3h0M252.4 599h0M252.8 594.6h0M253.2 599.9h0M253.6 600h0M254 601.5h0M254.3 594h0M254.7 595.9h0M255.1 598.1h0M255.5 594.3h0M255.9 595.1h0M256.3 600.3h0M256.7 599.2h0M257.1 595.5h0M257.4 594h0M257.8 596.9h0M258.2 595h0M258.6 600.1h0M259 596.1h0M259.4 600.2h0M259.8 594.4h0M260.2 602.5h0M260.6 597h0M260.9 594.9h0M261.3 601.1h0M261.7 596.2h0M262.1 599.6h0M262.5 600.2h0M262.9 602.2h0M263.3 601.2h0M263.7 596.8h0M264.1 596h0M264.4 597.8h0M264.8 595.9h0M265.2 598h0M265.6 600.2h0M266 598h0M266.4 595.5h0M266.8 595.7h0M267.2 593.5h0M267.5 600.2h0M267.9 601.2h0M268.3 597.8h0M268.7 595.7h0M269.1 599.3h0M269.5 594.7h0M269.9 592.9h0M270.3 595.5h0M270.7 597.2h0M271 600.6h0M271.4 600h0M271.8 594.4h0M272.2 598.2h0M272.6 596h0M273 599.7h0M273.4 592.4h0M273.8 594.8h0M274.2 599.4h0M274.5 599.3h0M274.9 600h0M275.3 597.8h0M275.7 595.3h0M276.1 600.4h0M276.5 594.6h0M276.9 598.3h0M277.3 594h0M277.7 594.8h0M278 601.5h0M278.4 598.8h0M278.8 601.7h0M279.2 601.5h0M279.6 602.2h0M280 600.9h0M280.4 600.8h0M280.8 599.6h0M281.1 600.6h0M281.5 594.7h0M281.9 595.6h0M282.3 595h0M282.7 600h0M283.1 597.3h0M283.5 593.6h0M283.9 594.4h0M284.3 597.2h0M284.6 595.3h0M285 597.4h0M285.4 593.2h0M285.8 591.9h0M286.2 597.9h0M286.6 595.3h0M287 594.3h0M287.4 597.5h0M287.8 594.6h0M288.1 598.6h0M288.5 594.2h0M288.9 598.8h0M289.3 597.6h0M289.7 591.4h0M290.1 599.4h0M290.5 591.6h0M290.9 595.8h0M291.2 597.3h0M291.6 588.9h0M292 595.8h0M292.4 595.9h0M292.8 590.4h0M293.2 590.7h0M293.6 585.5h0M294 586.2h0M294.4 578h0M294.7 572.7h0M295.1 553.3h0M295.5 521.7h0M295.9 460h0M296.3 460h0M296.7 460h0M297.1 460h0M297.5 460h0M297.9 460h0M298.2 460h0M298.6 460h0M299 460h0M299.4 460h0M299.8 460h0M300.2 460h0M300.6 460h0M301 460h0M301.3 500.5h0M301.7 543.4h0M302.1 569.3h0M302.5 584.3h0M302.9 590.3h0M303.3 588.9h0M303.7 584.5h0M304.1 592.3h0M304.5 593.5h0M304.8 585.3h0M305.2 591.1h0M305.6 586.2h0M306 587.3h0M306.4 590.2h0M306.8 595.1h0M307.2 588h0M307.6 589.9h0M308 595.1h0M308.3 590.9h0M308.7 590.7h0M309.1 595.4h0M309.5 589.5h0M309.9 592.5h0M310.3 591.3h0M310.7 593.7h0M311.1 596.4h0M311.4 588.3h0M311.8 594h0M312.2 595h0M312.6 589h0M313 584.5h0M313.4 592.4h0M313.8 588.5h0M314.2 586.7h0M314.6 579.9h0M314.9 580.8h0M315.3 576.5h0M315.7 573.3h0M316.1 568.2h0M316.5 557.7h0M316.9 557.4h0M317.3 556h0M317.7 555.8h0M318.1 556.3h0M318.4 563.5h0M318.8 558.1h0M319.2 565.9h0M319.6 568.2h0M320 565.4h0M320.4 570.2h0M320.8 577.8h0M321.2 581.8h0M321.6 576.9h0M321.9 582.7h0M322.3 585.7h0M322.7 592.7h0M323.1 591.2h0M323.5 587.5h0M323.9 591.6h0M324.3 597.2h0M324.7 590.6h0M325 594.5h0M325.4 590.6h0M325.8 595.8h0M326.2 598.9h0M326.6 595.5h0M327 595.1h0M327.4 592.9h0M327.8 598.3h0M328.2 594.3h0M328.5 594.7h0M328.9 600.5h0M329.3 601.2h0M329.7 596.1h0M330.1 597.6h0M330.5 597.1h0M330.9 598h0M331.3 595.7h0M331.7 602.7h0M332 594.9h0M332.4 596h0M332.8 599.5h0M333.2 599.1h0M333.6 599.3h0M334 596.3h0M334.4 594.4h0M334.8 597.8h0M335.1 592.4h0M335.5 596.2h0M335.9 597.9h0M336.3 594.3h0M336.7 593.8h0M337.1 593.2h0M337.5 598.1h0M337.9 595.5h0M338.3 597h0M338.6 591h0M339 595.5h0M339.4 597.7h0M339.8 599h0M340.2 593.4h0M340.6 597.7h0M341 596.5h0M341.4 594.2h0M341.8 595.3h0M342.1 596.5h0M342.5 591.8h0M342.9 591h0M343.3 594.4h0M343.7 592.5h0M344.1 591.7h0M344.5 595h0M344.9 599h0M345.2 599.7h0M345.6 592.6h0M346 595.3h0M346.4 594.1h0M346.8 600h0M347.2 592.9h0M347.6 591.5h0M348 591.6h0M348.4 595.4h0M348.7 592.1h0M349.1 592.8h0M349.5 585.2h0M349.9 582.6h0M350.3 583.7h0M350.7 575.5h0M351.1 575h0M351.5 578.4h0M351.9 574h0M352.2 581.2h0M352.6 585.7h0M353 589.8h0M353.4 584.8h0M353.8 592.7h0M354.2 592.9h0M354.6 590.8h0M355 596.9h0M355.4 594.2h0M355.7 595.2h0M356.1 592.2h0M356.5 594.4h0M356.9 594.1h0M357.3 591h0M357.7 594.6h0M358.1 592h0M358.5 591.9h0M358.8 593.6h0M359.2 590.9h0M359.6 599.2h0M360 594.6h0M360.4 596.9h0M360.8 599.6h0M361.2 592h0M361.6 593.3h0M362 597.9h0M362.3 595.5h0M362.7 594h0M363.1 596.9h0M363.5 591h0M363.9 598.3h0M364.3 598.4h0M364.7 593.2h0M365.1 594.4h0M365.5 597.1h0M365.8 594.4h0M366.2 593.3h0M366.6 596.7h0M367 594.4h0M367.4 593.6h0M367.8 589.3h0M368.2 587.7h0M368.6 592.7h0M368.9 589.3h0M369.3 593h0M369.7 586.8h0M370.1 584.7h0M370.5 590.6h0M370.9 585.5h0M371.3 580.6h0M371.7 580.9h0M372.1 583.9h0M372.4 576h0M372.8 580.9h0M373.2 580.2h0M373.6 566.9h0M374 566h0M374.4 550.1h0M374.8 528.6h0M375.2 498.4h0M375.6 460h0M375.9 460h0M376.3 460h0M376.7 460h0M377.1 460h0M377.5 460h0M377.9 460h0M378.3 460h0M378.7 460h0M379 478.2h0M379.4 509.5h0M379.8 537h0M380.2 560.8h0M380.6 564.5h0M381 571.5h0M381.4 573.9h0M381.8 582.4h0M382.2 583h0M382.5 580.9h0M382.9 582.2h0M383.3 591.9h0M383.7 590.1h0M384.1 588.6h0M384.5 587.1h0M384.9 593.5h0M385.3 588.7h0M385.7 592.3h0M386 591.2h0M386.4 592.9h0M386.8 588.9h0M387.2 594.6h0M387.6 590.5h0M388 597.3h0M388.4 589.1h0M388.8 596.9h0M389.1 593.8h0M389.5 595.3h0M389.9 590.8h0M390.3 588.6h0M390.7 591h0M391.1 590.9h0M391.5 589.2h0M391.9 595h0M392.3 596.8h0M392.6 595.8h0M393 596h0M393.4 590.8h0M393.8 591.3h0M394.2 589.5h0M394.6 590.5h0M395 594.5h0M395.4 587.3h0M395.8 593.9h0M396.1 587.6h0M396.5 586.8h0M396.9 587.8h0M397.3 583.9h0M397.7 587.5h0M398.1 577.6h0M398.5 577.9h0M398.9 570.6h0M399.3 557.2h0M399.6 534.4h0M400 518.9h0M400.4 502.4h0M400.8 487.1h0M401.2 480.9h0M401.6 485h0M402 496.7h0M402.4 519.4h0M402.7 530.1h0M403.1 553h0M403.5 563h0M403.9 576h0M404.3 580.8h0M404.7 586.5h0M405.1 588.2h0M405.5 586.6h0M405.9 589.6h0M406.2 589.7h0M406.6 594.4h0M407 592.9h0M407.4 598h0M407.8 594.7h0M408.2 592.7h0M408.6 597.9h0M409 591h0M409.4 596.7h0M409.7 595.2h0M410.1 596h0M410.5 594.2h0M410.9 592.1h0M411.3 596.9h0M411.7 595h0M412.1 592.8h0M412.5 594h0M412.8 597.8h0M413.2 594.8h0M413.6 598.4h0M414 598.1h0M414.4 592.4h0M414.8 591.5h0M415.2 595h0M415.6 596h0M416 592.2h0M416.3 585h0M416.7 584.3h0M417.1 585h0M417.5 585.8h0M417.9 585.5h0M418.3 583.4h0M418.7 582.1h0M419.1 579.5h0M419.5 583.6h0M419.8 582h0M420.2 590.3h0M420.6 586.7h0M421 584.1h0M421.4 588.3h0M421.8 585.8h0M422.2 587.4h0M422.6 591.1h0M422.9 591.3h0M423.3 592h0M423.7 597.1h0M424.1 595.8h0M424.5 598.6h0M424.9 592.1h0M425.3 598.8h0M425.7 598.9h0M426.1 597.5h0M426.4 598.4h0M426.8 596.4h0M427.2 593.7h0M427.6 591.7h0M428 598.5h0M428.4 597.9h0M428.8 597.5h0M429.2 595.1h0M429.6 593.9h0M429.9 594.5h0M430.3 597.1h0M430.7 595.7h0M431.1 597.2h0M431.5 598.9h0M431.9 596.3h0M432.3 592.7h0M432.7 591.4h0M433.1 591.4h0M433.4 591.7h0M433.8 592.3h0M434.2 594.2h0M434.6 596.6h0M435 595h0M435.4 597.2h0M435.8 593.7h0M436.2 591.8h0M436.5 599.7h0M436.9 596.4h0M437.3 591.6h0M437.7 593h0M438.1 594.6h0M438.5 597.9h0M438.9 594.7h0M439.3 599.4h0M439.7 595h0M440 599.6h0M440.4 592h0M440.8 595.7h0M441.2 591.2h0M441.6 598.5h0M442 594.4h0M442.4 592.9h0M442.8 592.9h0M443.2 595.4h0M443.5 594.9h0M443.9 594.7h0M444.3 591.3h0M444.7 592.8h0M445.1 581.1h0M445.5 580.4h0M445.9 573.8h0M446.3 575.6h0M446.6 574.3h0M447 560.1h0M447.4 556.6h0M447.8 565.5h0M448.2 556.1h0M448.6 553.9h0M449 564.6h0M449.4 567.7h0M449.8 566.9h0M450.1 576.2h0M450.5 581.1h0M450.9 586.2h0M451.3 578h0M451.7 586.7h0M452.1 587.6h0M452.5 595.5h0M452.9 592.2h0M453.3 594.8h0M453.6 596.2h0M454 591.6h0M454.4 593.8h0M454.8 597.6h0M455.2 590.5h0M455.6 591.1h0M456 591.2h0M456.4 595.4h0M456.7 595h0M457.1 594.1h0M457.5 595.7h0M457.9 592.1h0M458.3 593.6h0M458.7 593h0M459.1 591.8h0M459.5 597.6h0M459.9 590.2h0M460.2 590.4h0M460.6 593.6h0M461 593.9h0M461.4 586.2h0M461.8 589.8h0M462.2 588.7h0M462.6 583.1h0M463 578.8h0M463.4 579.1h0M463.7 579.3h0M464.1 571.1h0M464.5 579.3h0M464.9 576.4h0M465.3 575.9h0M465.7 580.1h0M466.1 574.6h0M466.5 578.5h0M466.8 586.3h0M467.2 577.5h0M467.6 583.6h0M468 592.1h0M468.4 586.6h0M468.8 588h0M469.2 595.7h0M469.6 589.4h0M470 594.2h0M470.3 596.3h0M470.7 595.3h0M471.1 592.8h0M471.5 592.3h0M471.9 598.4h0M472.3 591.2h0M472.7 599.6h0M473.1 596.9h0M473.5 595h0M473.8 595.8h0M474.2 598.9h0M474.6 596.1h0M475 599.8h0M475.4 600.9h0M475.8 599.7h0M476.2 598.2h0M476.6 595.6h0M477 600.9h0M477.3 595.1h0M477.7 594.1h0M478.1 594.4h0M478.5 593.6h0M478.9 596.1h0M479.3 597.9h0M479.7 593.8h0M480.1 592.8h0M480.4 592.1h0M480.8 597.7h0M481.2 594.1h0M481.6 597.7h0M482 599.6h0M482.4 594.8h0M482.8 596.1h0M483.2 597.1h0M483.6 597.2h0M483.9 598.3h0M484.3 594.3h0M484.7 591.8h0M485.1 593.2h0M485.5 597.9h0M485.9 595.4h0M486.3 595.3h0M486.7 592.4h0M487.1 591.4h0M487.4 596.8h0M487.8 597.5h0M488.2 591.8h0M488.6 594.5h0M489 597.6h0M489.4 596.5h0M489.8 589.5h0M490.2 590.3h0M490.5 590.5h0M490.9 588.4h0M491.3 584.4h0M491.7 584.7h0M492.1 578.2h0M492.5 578.6h0M492.9 575.4h0M493.3 564.9h0M493.7 556.6h0M494 550.4h0M494.4 552.7h0M494.8 549.4h0M495.2 545.3h0M495.6 555.6h0M496 557.4h0M496.4 559.6h0M496.8 562.1h0M497.2 571.6h0M497.5 570.9h0M497.9 579.9h0M498.3 581.3h0M498.7 584h0M499.1 593.7h0M499.5 589.6h0M499.9 588h0M500.3 596.2h0M500.6 597.1h0M501 593.5h0M501.4 595.6h0M501.8 590.7h0M502.2 594.3h0M502.6 595.6h0M503 595.3h0M503.4 593.5h0M503.8 599.1h0M504.1 599.1h0M504.5 591.5h0M504.9 597.5h0M505.3 591.7h0M505.7 598.3h0"/></defs>
<g clip-path="url(#cd)" fill="none" stroke-linecap="round"><use href="#od" stroke="#b80000" stroke-width="7.9"/><path d="M113.5 602.1 L115 576 L116.2 567 Q116.8 562 118.6 562 L124 562.5 Q126.8 562.5 126.8 565 L126.8 602.1 Z" fill="#ff0000" stroke="#b80000" stroke-width="0.7"/><use href="#od" stroke="#ff0000" stroke-width="6.5"/></g>
<polyline clip-path="url(#cd)" points="40,602.9 40.2,602.9 40.4,602.9 40.6,602.9 40.8,602.9 41,602.9 41.2,602.9 41.4,602.9 41.6,602.9 41.8,602.9 42,602.9 42.2,602.9 42.4,602.9 42.6,602.8 42.8,602.8 43,602.8 43.2,602.8 43.4,602.8 43.6,602.8 43.8,602.8 44,602.8 44.2,602.8 44.4,602.8 44.6,602.8 44.8,602.8 45,602.8 45.2,602.7 45.4,602.7 45.6,602.7 45.8,602.7 46,602.7 46.2,602.7 46.4,602.7 46.6,602.7 46.8,602.7 47,602.7 47.2,602.7 47.4,602.7 47.6,602.7 47.8,602.6 48,602.6 48.2,602.6 48.4,602.6 48.6,602.6 48.8,602.6 49,602.6 49.2,602.6 49.4,602.6 49.6,602.6 49.8,602.6 50,602.6 50.2,602.5 50.4,602.5 50.6,602.5 50.8,602.5 51,602.5 51.2,602.5 51.4,602.5 51.6,602.5 51.8,602.5 52,602.5 52.2,602.5 52.4,602.5 52.6,602.4 52.8,602.4 53,602.4 53.2,602.4 53.4,602.4 53.6,602.4 53.8,602.4 54,602.4 54.2,602.4 54.4,602.4 54.6,602.4 54.8,602.4 55,602.4 55.2,602.3 55.4,602.3 55.6,602.3 55.8,602.3 56,602.3 56.2,602.3 56.4,602.3 56.6,602.3 56.8,602.3 57,602.3 57.2,602.3 57.4,602.3 57.6,602.2 57.8,602.2 58,602.2 58.2,602.2 58.4,602.2 58.6,602.2 58.8,602.2 59,602.2 59.2,602.2 59.4,602.2 59.6,602.2 59.8,602.1 60,602.1 60.2,602.1 60.4,602.1 60.6,602.1 60.8,602.1 61,602.1 61.2,602.1 61.4,602.1 61.6,602.1 61.8,602.1 62,602.1 62.2,602 62.4,602 62.6,602 62.8,602 63,602 63.2,602 63.4,602 63.6,602 63.8,602 64,602 64.2,601.9 64.4,601.9 64.6,601.9 64.8,601.9 65,601.9 65.2,601.9 65.4,601.9 65.6,601.9 65.8,601.9 66,601.9 66.2,601.9 66.4,601.8 66.6,601.8 66.8,601.8 67,601.8 67.2,601.8 67.4,601.8 67.6,601.8 67.8,601.8 68,601.8 68.2,601.7 68.4,601.7 68.6,601.7 68.8,601.7 69,601.7 69.2,601.7 69.4,601.7 69.6,601.7 69.8,601.7 70,601.6 70.2,601.6 70.4,601.6 70.6,601.6 70.8,601.6 71,601.6 71.2,601.6 71.4,601.6 71.6,601.5 71.8,601.5 72,601.5 72.2,601.5 72.4,601.5 72.6,601.5 72.8,601.4 73,601.4 73.2,601.4 73.4,601.4 73.6,601.4 73.8,601.4 74,601.3 74.2,601.3 74.4,601.3 74.6,601.3 74.8,601.3 75,601.2 75.2,601.2 75.4,601.2 75.6,601.2 75.8,601.1 76,601.1 76.2,601.1 76.4,601.1 76.6,601 76.8,601 77,601 77.2,600.9 77.4,600.9 77.6,600.9 77.8,600.8 78,600.8 78.2,600.7 78.4,600.7 78.6,600.6 78.8,600.6 79,600.5 79.2,600.4 79.4,600.4 79.6,600.3 79.8,600.2 80,600.1 80.2,600 80.4,599.9 80.6,599.7 80.8,599.5 81,599.3 81.2,599.1 81.4,598.7 81.6,598.2 81.8,597.5 82,596.6 82.2,595.4 82.4,593.8 82.6,591.6 82.8,588.8 83,585.1 83.2,580.7 83.4,575.3 83.6,568.9 83.8,561.6 84,553.6 84.2,545.1 84.4,536.3 84.6,527.8 84.8,520 85,513.5 85.2,508.7 85.4,506.2 85.6,506.2 85.8,508.7 86,513.4 86.2,520 86.4,527.8 86.6,536.3 86.8,545 87,553.5 87.2,561.5 87.4,568.8 87.6,575.1 87.8,580.5 88,585 88.2,588.5 88.4,591.4 88.6,593.5 88.8,595.2 89,596.4 89.2,597.3 89.4,597.9 89.6,598.4 89.8,598.7 90,599 90.2,599.2 90.4,599.3 90.6,599.5 90.8,599.6 91,599.7 91.2,599.8 91.4,599.8 91.6,599.9 91.8,599.9 92,600 92.2,600 92.4,600.1 92.6,600.1 92.8,600.2 93,600.2 93.2,600.2 93.4,600.2 93.6,600.3 93.8,600.3 94,600.3 94.2,600.3 94.4,600.3 94.6,600.4 94.8,600.4 95,600.4 95.2,600.4 95.4,600.4 95.6,600.4 95.8,600.4 96,600.4 96.2,600.4 96.4,600.4 96.6,600.4 96.8,600.4 97,600.4 97.2,600.4 97.4,600.4 97.6,600.4 97.8,600.4 98,600.4 98.2,600.4 98.4,600.4 98.6,600.4 98.8,600.4 99,600.4 99.2,600.4 99.4,600.4 99.6,600.4 99.8,600.4 100,600.4 100.2,600.4 100.4,600.4 100.6,600.4 100.8,600.4 101,600.4 101.2,600.4 101.4,600.4 101.6,600.4 101.8,600.4 102,600.4 102.2,600.4 102.4,600.4 102.6,600.4 102.8,600.4 103,600.4 103.2,600.4 103.4,600.3 103.6,600.3 103.8,600.3 104,600.3 104.2,600.3 104.4,600.3 104.6,600.3 104.8,600.3 105,600.3 105.2,600.3 105.4,600.3 105.6,600.3 105.8,600.3 106,600.2 106.2,600.2 106.4,600.2 106.6,600.2 106.8,600.2 107,600.2 107.2,600.2 107.4,600.2 107.6,600.2 107.8,600.2 108,600.2 108.2,600.1 108.4,600.1 108.6,600.1 108.8,600.1 109,600.1 109.2,600.1 109.4,600.1 109.6,600.1 109.8,600.1 110,600.1 110.2,600 110.4,600 110.6,600 110.8,600 111,600 111.2,600 111.4,600 111.6,600 111.8,599.9 112,599.9 112.2,599.9 112.4,599.9 112.6,599.9 112.8,599.9 113,599.9 113.2,599.9 113.4,599.8 113.6,599.8 113.8,599.8 114,599.8 114.2,599.8 114.4,599.8 114.6,599.7 114.8,599.7 115,599.7 115.2,599.7 115.4,599.7 115.6,599.7 115.8,599.6 116,599.6 116.2,599.6 116.4,599.6 116.6,599.6 116.8,599.5 117,599.5 117.2,599.5 117.4,599.5 117.6,599.4 117.8,599.4 118,599.4 118.2,599.4 118.4,599.3 118.6,599.3 118.8,599.3 119,599.2 119.2,599.2 119.4,599.2 119.6,599.1 119.8,599.1 120,599.1 120.2,599 120.4,599 120.6,598.9 120.8,598.9 121,598.8 121.2,598.8 121.4,598.7 121.6,598.7 121.8,598.6 122,598.5 122.2,598.5 122.4,598.4 122.6,598.3 122.8,598.2 123,598.1 123.2,598.1 123.4,598 123.6,597.8 123.8,597.7 124,597.6 124.2,597.5 124.4,597.4 124.6,597.2 124.8,597.1 125,596.9 125.2,596.7 125.4,596.5 125.6,596.3 125.8,596.1 126,595.8 126.2,595.4 126.4,595 126.6,594.4 126.8,593.6 127,592.4 127.2,590.6 127.4,588 127.6,584.2 127.8,578.7 128,570.9 128.2,559.9 128.4,544.7 128.6,524.4 128.8,497.8 129,465 129.2,465 129.4,465 129.6,465 129.8,465 130,465 130.2,465 130.4,465 130.6,465 130.8,465 131,465 131.2,465 131.4,465 131.6,465 131.8,465 132,465 132.2,465 132.4,465 132.6,465 132.8,465 133,465 133.2,465 133.4,465 133.6,465 133.8,465 134,465 134.2,465 134.4,465 134.6,481.4 134.8,511.7 135,535 135.2,552.5 135.4,565.4 135.6,574.7 135.8,581.3 136,585.8 136.2,588.9 136.4,591 136.6,592.5 136.8,593.5 137,594.1 137.2,594.6 137.4,595 137.6,595.3 137.8,595.5 138,595.7 138.2,595.9 138.4,596.1 138.6,596.2 138.8,596.3 139,596.5 139.2,596.6 139.4,596.7 139.6,596.8 139.8,596.9 140,597 140.2,597.1 140.4,597.1 140.6,597.2 140.8,597.3 141,597.3 141.2,597.4 141.4,597.4 141.6,597.5 141.8,597.5 142,597.6 142.2,597.6 142.4,597.6 142.6,597.7 142.8,597.7 143,597.7 143.2,597.8 143.4,597.8 143.6,597.8 143.8,597.8 144,597.8 144.2,597.8 144.4,597.9 144.6,597.9 144.8,597.9 145,597.9 145.2,597.9 145.4,597.9 145.6,597.9 145.8,597.9 146,597.9 146.2,597.9 146.4,597.9 146.6,597.9 146.8,597.9 147,597.9 147.2,597.9 147.4,597.9 147.6,597.9 147.8,597.9 148,597.9 148.2,597.9 148.4,597.9 148.6,597.9 148.8,597.9 149,597.9 149.2,597.9 149.4,597.9 149.6,597.9 149.8,597.9 150,597.9 150.2,597.9 150.4,597.9 150.6,597.9 150.8,597.9 151,597.8 151.2,597.8 151.4,597.8 151.6,597.8 151.8,597.8 152,597.8 152.2,597.8 152.4,597.8 152.6,597.8 152.8,597.7 153,597.7 153.2,597.7 153.4,597.7 153.6,597.7 153.8,597.7 154,597.7 154.2,597.6 154.4,597.6 154.6,597.6 154.8,597.6 155,597.6 155.2,597.5 155.4,597.5 155.6,597.5 155.8,597.5 156,597.5 156.2,597.4 156.4,597.4 156.6,597.4 156.8,597.4 157,597.4 157.2,597.3 157.4,597.3 157.6,597.3 157.8,597.2 158,597.2 158.2,597.2 158.4,597.1 158.6,597.1 158.8,597.1 159,597 159.2,597 159.4,597 159.6,596.9 159.8,596.9 160,596.8 160.2,596.8 160.4,596.7 160.6,596.7 160.8,596.6 161,596.5 161.2,596.5 161.4,596.4 161.6,596.3 161.8,596.2 162,596.2 162.2,596.1 162.4,596 162.6,595.9 162.8,595.8 163,595.7 163.2,595.5 163.4,595.4 163.6,595.3 163.8,595.1 164,595 164.2,594.8 164.4,594.7 164.6,594.5 164.8,594.3 165,594 165.2,593.8 165.4,593.5 165.6,593.1 165.8,592.6 166,591.9 166.2,590.8 166.4,589.2 166.6,586.9 166.8,583.4 167,578.1 167.2,570.3 167.4,559.1 167.6,543.4 167.8,521.9 168,493.1 168.2,465 168.4,465 168.6,465 168.8,465 169,465 169.2,465 169.4,465 169.6,465 169.8,465 170,465 170.2,465 170.4,465 170.6,465 170.8,465 171,465 171.2,465 171.4,465 171.6,465 171.8,465 172,465 172.2,465 172.4,465 172.6,465 172.8,465 173,465 173.2,465 173.4,475.3 173.6,508.2 173.8,533.2 174,551.6 174.2,564.9 174.4,574.2 174.6,580.6 174.8,584.9 175,587.8 175.2,589.7 175.4,590.9 175.6,591.8 175.8,592.4 176,592.8 176.2,593.1 176.4,593.4 176.6,593.6 176.8,593.8 177,594 177.2,594.1 177.4,594.3 177.6,594.4 177.8,594.5 178,594.7 178.2,594.8 178.4,594.9 178.6,595 178.8,595.1 179,595.1 179.2,595.2 179.4,595.3 179.6,595.4 179.8,595.4 180,595.5 180.2,595.5 180.4,595.6 180.6,595.6 180.8,595.7 181,595.7 181.2,595.7 181.4,595.8 181.6,595.8 181.8,595.8 182,595.9 182.2,595.9 182.4,595.9 182.6,595.9 182.8,596 183,596 183.2,596 183.4,596 183.6,596 183.8,596 184,596 184.2,596.1 184.4,596.1 184.6,596.1 184.8,596.1 185,596.1 185.2,596.1 185.4,596.1 185.6,596.1 185.8,596.1 186,596.1 186.2,596.1 186.4,596.1 186.6,596.1 186.8,596.1 187,596.1 187.2,596.1 187.4,596.1 187.6,596.1 187.8,596.1 188,596.1 188.2,596.1 188.4,596.1 188.6,596.1 188.8,596.1 189,596.1 189.2,596.1 189.4,596.1 189.6,596.1 189.8,596.1 190,596.1 190.2,596.1 190.4,596.1 190.6,596.1 190.8,596.1 191,596.1 191.2,596.1 191.4,596.1 191.6,596.1 191.8,596 192,596 192.2,596 192.4,596 192.6,596 192.8,596 193,596 193.2,596 193.4,596 193.6,596 193.8,596 194,596 194.2,596 194.4,596 194.6,596 194.8,595.9 195,595.9 195.2,595.9 195.4,595.9 195.6,595.9 195.8,595.9 196,595.9 196.2,595.9 196.4,595.9 196.6,595.9 196.8,595.9 197,595.8 197.2,595.8 197.4,595.8 197.6,595.8 197.8,595.8 198,595.8 198.2,595.8 198.4,595.8 198.6,595.8 198.8,595.8 199,595.7 199.2,595.7 199.4,595.7 199.6,595.7 199.8,595.7 200,595.7 200.2,595.7 200.4,595.7 200.6,595.7 200.8,595.6 201,595.6 201.2,595.6 201.4,595.6 201.6,595.6 201.8,595.6 202,595.5 202.2,595.5 202.4,595.4 202.6,595.3 202.8,595.2 203,595 203.2,594.8 203.4,594.6 203.6,594.2 203.8,593.8 204,593.3 204.2,592.8 204.4,592.1 204.6,591.4 204.8,590.7 205,590 205.2,589.3 205.4,588.7 205.6,588.2 205.8,587.9 206,587.8 206.2,587.9 206.4,588.2 206.6,588.7 206.8,589.3 207,590 207.2,590.7 207.4,591.4 207.6,592.1 207.8,592.7 208,593.3 208.2,593.8 208.4,594.2 208.6,594.5 208.8,594.8 209,595 209.2,595.2 209.4,595.3 209.6,595.4 209.8,595.4 210,595.5 210.2,595.5 210.4,595.5 210.6,595.5 210.8,595.6 211,595.6 211.2,595.6 211.4,595.6 211.6,595.6 211.8,595.6 212,595.6 212.2,595.6 212.4,595.6 212.6,595.6 212.8,595.6 213,595.6 213.2,595.6 213.4,595.6 213.6,595.6 213.8,595.6 214,595.6 214.2,595.6 214.4,595.6 214.6,595.6 214.8,595.6 215,595.6 215.2,595.6 215.4,595.6 215.6,595.6 215.8,595.6 216,595.6 216.2,595.6 216.4,595.6 216.6,595.6 216.8,595.6 217,595.6 217.2,595.6 217.4,595.6 217.6,595.6 217.8,595.6 218,595.6 218.2,595.6 218.4,595.6 218.6,595.6 218.8,595.6 219,595.6 219.2,595.6 219.4,595.6 219.6,595.6 219.8,595.6 220,595.6 220.2,595.6 220.4,595.6 220.6,595.6 220.8,595.5 221,595.5 221.2,595.5 221.4,595.5 221.6,595.5 221.8,595.5 222,595.5 222.2,595.5 222.4,595.5 222.6,595.5 222.8,595.5 223,595.5 223.2,595.5 223.4,595.5 223.6,595.5 223.8,595.5 224,595.5 224.2,595.5 224.4,595.5 224.6,595.4 224.8,595.4 225,595.4 225.2,595.4 225.4,595.4 225.6,595.4 225.8,595.4 226,595.4 226.2,595.4 226.4,595.4 226.6,595.4 226.8,595.4 227,595.3 227.2,595.3 227.4,595.3 227.6,595.3 227.8,595.3 228,595.3 228.2,595.3 228.4,595.3 228.6,595.2 228.8,595.2 229,595.2 229.2,595.2 229.4,595.2 229.6,595.1 229.8,595.1 230,595.1 230.2,595.1 230.4,595 230.6,595 230.8,595 231,595 231.2,594.9 231.4,594.9 231.6,594.8 231.8,594.8 232,594.8 232.2,594.7 232.4,594.6 232.6,594.6 232.8,594.5 233,594.4 233.2,594.4 233.4,594.3 233.6,594.2 233.8,594.1 234,593.9 234.2,593.7 234.4,593.5 234.6,593.2 234.8,592.8 235,592.2 235.2,591.4 235.4,590.4 235.6,589 235.8,587.1 236,584.7 236.2,581.6 236.4,577.7 236.6,572.9 236.8,567.3 237,560.8 237.2,553.6 237.4,545.9 237.6,537.9 237.8,529.9 238,522.6 238.2,516.2 238.4,511.4 238.6,508.6 238.8,508 239,509.7 239.2,513.6 239.4,519.2 239.6,526.1 239.8,533.8 240,541.8 240.2,549.8 240.4,557.3 240.6,564.1 240.8,570.2 241,575.4 241.2,579.7 241.4,583.2 241.6,585.9 241.8,588.1 242,589.7 242.2,590.9 242.4,591.8 242.6,592.4 242.8,592.9 243,593.3 243.2,593.5 243.4,593.7 243.6,593.9 243.8,594 244,594.1 244.2,594.2 244.4,594.3 244.6,594.4 244.8,594.4 245,594.5 245.2,594.5 245.4,594.6 245.6,594.6 245.8,594.7 246,594.7 246.2,594.8 246.4,594.8 246.6,594.8 246.8,594.8 247,594.9 247.2,594.9 247.4,594.9 247.6,594.9 247.8,594.9 248,595 248.2,595 248.4,595 248.6,595 248.8,595 249,595 249.2,595 249.4,595.1 249.6,595.1 249.8,595.1 250,595.1 250.2,595.1 250.4,595.1 250.6,595.1 250.8,595.1 251,595.1 251.2,595.1 251.4,595.1 251.6,595.1 251.8,595.1 252,595.1 252.2,595.1 252.4,595.2 252.6,595.2 252.8,595.2 253,595.2 253.2,595.2 253.4,595.2 253.6,595.2 253.8,595.2 254,595.2 254.2,595.2 254.4,595.2 254.6,595.2 254.8,595.2 255,595.2 255.2,595.2 255.4,595.2 255.6,595.2 255.8,595.2 256,595.2 256.2,595.2 256.4,595.2 256.6,595.2 256.8,595.2 257,595.2 257.2,595.2 257.4,595.2 257.6,595.2 257.8,595.2 258,595.2 258.2,595.2 258.4,595.2 258.6,595.2 258.8,595.2 259,595.2 259.2,595.2 259.4,595.2 259.6,595.2 259.8,595.2 260,595.2 260.2,595.2 260.4,595.2 260.6,595.2 260.8,595.2 261,595.2 261.2,595.2 261.4,595.2 261.6,595.2 261.8,595.2 262,595.2 262.2,595.2 262.4,595.2 262.6,595.2 262.8,595.2 263,595.2 263.2,595.1 263.4,595.1 263.6,595.1 263.8,595.1 264,595.1 264.2,595.1 264.4,595.1 264.6,595.1 264.8,595.1 265,595.1 265.2,595.1 265.4,595.1 265.6,595.1 265.8,595.1 266,595.1 266.2,595.1 266.4,595.1 266.6,595.1 266.8,595.1 267,595.1 267.2,595.1 267.4,595.1 267.6,595.1 267.8,595.1 268,595.1 268.2,595.1 268.4,595.1 268.6,595.1 268.8,595.1 269,595.1 269.2,595.1 269.4,595.1 269.6,595.1 269.8,595.1 270,595.1 270.2,595.1 270.4,595 270.6,595 270.8,595 271,595 271.2,595 271.4,595 271.6,595 271.8,595 272,595 272.2,595 272.4,595 272.6,595 272.8,595 273,595 273.2,595 273.4,595 273.6,595 273.8,595 274,595 274.2,595 274.4,595 274.6,595 274.8,595 275,594.9 275.2,594.9 275.4,594.9 275.6,594.9 275.8,594.9 276,594.9 276.2,594.9 276.4,594.9 276.6,594.9 276.8,594.9 277,594.9 277.2,594.9 277.4,594.9 277.6,594.9 277.8,594.9 278,594.9 278.2,594.8 278.4,594.8 278.6,594.8 278.8,594.8 279,594.8 279.2,594.8 279.4,594.8 279.6,594.8 279.8,594.8 280,594.8 280.2,594.8 280.4,594.8 280.6,594.7 280.8,594.7 281,594.7 281.2,594.7 281.4,594.7 281.6,594.7 281.8,594.7 282,594.7 282.2,594.7 282.4,594.6 282.6,594.6 282.8,594.6 283,594.6 283.2,594.6 283.4,594.6 283.6,594.6 283.8,594.5 284,594.5 284.2,594.5 284.4,594.5 284.6,594.5 284.8,594.5 285,594.4 285.2,594.4 285.4,594.4 285.6,594.4 285.8,594.3 286,594.3 286.2,594.3 286.4,594.3 286.6,594.2 286.8,594.2 287,594.2 287.2,594.1 287.4,594.1 287.6,594.1 287.8,594 288,594 288.2,593.9 288.4,593.9 288.6,593.8 288.8,593.8 289,593.7 289.2,593.7 289.4,593.6 289.6,593.5 289.8,593.5 290,593.4 290.2,593.3 290.4,593.2 290.6,593.1 290.8,593 291,592.9 291.2,592.8 291.4,592.7 291.6,592.5 291.8,592.4 292,592.3 292.2,592.1 292.4,591.9 292.6,591.7 292.8,591.5 293,591.3 293.2,591 293.4,590.6 293.6,590 293.8,589.3 294,588.1 294.2,586.4 294.4,583.8 294.6,579.9 294.8,574.1 295,565.6 295.2,553.5 295.4,536.4 295.6,513.2 295.8,482.4 296,465 296.2,465 296.4,465 296.6,465 296.8,465 297,465 297.2,465 297.4,465 297.6,465 297.8,465 298,465 298.2,465 298.4,465 298.6,465 298.8,465 299,465 299.2,465 299.4,465 299.6,465 299.8,465 300,465 300.2,465 300.4,465 300.6,465 300.8,465 301,465 301.2,482.4 301.4,513.2 301.6,536.4 301.8,553.4 302,565.5 302.2,574 302.4,579.8 302.6,583.7 302.8,586.3 303,588 303.2,589.1 303.4,589.9 303.6,590.4 303.8,590.8 304,591.1 304.2,591.4 304.4,591.6 304.6,591.8 304.8,591.9 305,592.1 305.2,592.2 305.4,592.4 305.6,592.5 305.8,592.6 306,592.7 306.2,592.8 306.4,592.9 306.6,593 306.8,593.1 307,593.1 307.2,593.2 307.4,593.3 307.6,593.3 307.8,593.4 308,593.5 308.2,593.5 308.4,593.6 308.6,593.6 308.8,593.6 309,593.7 309.2,593.7 309.4,593.8 309.6,593.8 309.8,593.8 310,593.9 310.2,593.9 310.4,593.9 310.6,593.9 310.8,593.9 311,594 311.2,594 311.4,594 311.6,594 311.8,594 312,594.1 312.2,594.1 312.4,594.1 312.6,594.1 312.8,594.1 313,594.1 313.2,594.1 313.4,594.1 313.6,594.1 313.8,594.1 314,594.2 314.2,594.2 314.4,594.2 314.6,594.2 314.8,594.2 315,594.2 315.2,594.2 315.4,594.2 315.6,594.2 315.8,594.2 316,594.2 316.2,594.2 316.4,594.2 316.6,594.2 316.8,594.2 317,594.2 317.2,594.2 317.4,594.2 317.6,594.2 317.8,594.2 318,594.2 318.2,594.2 318.4,594.2 318.6,594.2 318.8,594.2 319,594.2 319.2,594.2 319.4,594.1 319.6,594.1 319.8,594.1 320,594.1 320.2,594.1 320.4,594.1 320.6,594 320.8,594 321,593.9 321.2,593.9 321.4,593.8 321.6,593.6 321.8,593.4 322,593.2 322.2,592.8 322.4,592.4 322.6,591.9 322.8,591.2 323,590.4 323.2,589.5 323.4,588.5 323.6,587.3 323.8,586.2 324,585 324.2,583.9 324.4,582.9 324.6,582.1 324.8,581.6 325,581.5 325.2,581.6 325.4,582.1 325.6,582.9 325.8,583.9 326,585 326.2,586.1 326.4,587.3 326.6,588.4 326.8,589.5 327,590.4 327.2,591.2 327.4,591.8 327.6,592.4 327.8,592.8 328,593.1 328.2,593.4 328.4,593.6 328.6,593.7 328.8,593.8 329,593.9 329.2,593.9 329.4,594 329.6,594 329.8,594 330,594 330.2,594 330.4,594.1 330.6,594.1 330.8,594.1 331,594.1 331.2,594.1 331.4,594.1 331.6,594.1 331.8,594.1 332,594.1 332.2,594.1 332.4,594.1 332.6,594.1 332.8,594.1 333,594.1 333.2,594.1 333.4,594.1 333.6,594.1 333.8,594.1 334,594.1 334.2,594.1 334.4,594.1 334.6,594.1 334.8,594.1 335,594.1 335.2,594.1 335.4,594.1 335.6,594.1 335.8,594.1 336,594.1 336.2,594.1 336.4,594.1 336.6,594.1 336.8,594.1 337,594.1 337.2,594.1 337.4,594.1 337.6,594.1 337.8,594.1 338,594 338.2,594 338.4,594 338.6,594 338.8,594 339,594 339.2,594 339.4,594 339.6,594 339.8,594 340,594 340.2,594 340.4,594 340.6,594 340.8,594 341,594 341.2,593.9 341.4,593.9 341.6,593.9 341.8,593.9 342,593.9 342.2,593.9 342.4,593.9 342.6,593.9 342.8,593.9 343,593.9 343.2,593.8 343.4,593.8 343.6,593.8 343.8,593.8 344,593.8 344.2,593.8 344.4,593.8 344.6,593.7 344.8,593.7 345,593.7 345.2,593.7 345.4,593.7 345.6,593.6 345.8,593.6 346,593.6 346.2,593.5 346.4,593.5 346.6,593.5 346.8,593.4 347,593.3 347.2,593.2 347.4,593.1 347.6,592.9 347.8,592.7 348,592.4 348.2,591.9 348.4,591.4 348.6,590.7 348.8,589.8 349,588.7 349.2,587.3 349.4,585.8 349.6,584 349.8,582.1 350,580 350.2,578 350.4,576 350.6,574.2 350.8,572.7 351,571.7 351.2,571.3 351.4,571.4 351.6,572.1 351.8,573.4 352,575 352.2,576.9 352.4,578.9 352.6,580.9 352.8,582.9 353,584.7 353.2,586.4 353.4,587.8 353.6,589 353.8,590 354,590.8 354.2,591.4 354.4,591.9 354.6,592.2 354.8,592.5 355,592.7 355.2,592.8 355.4,592.9 355.6,592.9 355.8,593 356,593 356.2,593 356.4,593.1 356.6,593.1 356.8,593.1 357,593.1 357.2,593.1 357.4,593.1 357.6,593.1 357.8,593.1 358,593.1 358.2,593.1 358.4,593 358.6,593 358.8,593 359,593 359.2,593 359.4,593 359.6,593 359.8,592.9 360,592.9 360.2,592.9 360.4,592.9 360.6,592.9 360.8,592.8 361,592.8 361.2,592.8 361.4,592.8 361.6,592.7 361.8,592.7 362,592.7 362.2,592.6 362.4,592.6 362.6,592.6 362.8,592.5 363,592.5 363.2,592.5 363.4,592.4 363.6,592.4 363.8,592.3 364,592.3 364.2,592.2 364.4,592.2 364.6,592.1 364.8,592.1 365,592 365.2,591.9 365.4,591.9 365.6,591.8 365.8,591.7 366,591.6 366.2,591.5 366.4,591.5 366.6,591.4 366.8,591.3 367,591.2 367.2,591 367.4,590.9 367.6,590.8 367.8,590.7 368,590.5 368.2,590.4 368.4,590.2 368.6,590 368.8,589.9 369,589.7 369.2,589.4 369.4,589.2 369.6,589 369.8,588.7 370,588.5 370.2,588.2 370.4,587.8 370.6,587.5 370.8,587.1 371,586.7 371.2,586.3 371.4,585.8 371.6,585.3 371.8,584.7 372,584 372.2,583.3 372.4,582.5 372.6,581.5 372.8,580.4 373,579 373.2,577.3 373.4,575.1 373.6,572.3 373.8,568.6 374,563.9 374.2,557.8 374.4,550 374.6,540.1 374.8,527.9 375,513 375.2,495.3 375.4,474.8 375.6,465 375.8,465 376,465 376.2,465 376.4,465 376.6,465 376.8,465 377,465 377.2,465 377.4,465 377.6,465 377.8,465 378,465 378.2,465 378.4,465 378.6,465 378.8,465 379,474.8 379.2,495.3 379.4,513 379.6,527.9 379.8,540.1 380,550 380.2,557.8 380.4,563.9 380.6,568.6 380.8,572.2 381,575 381.2,577.2 381.4,578.9 381.6,580.3 381.8,581.4 382,582.3 382.2,583.1 382.4,583.9 382.6,584.5 382.8,585 383,585.5 383.2,586 383.4,586.4 383.6,586.8 383.8,587.2 384,587.5 384.2,587.8 384.4,588.1 384.6,588.3 384.8,588.6 385,588.8 385.2,589 385.4,589.2 385.6,589.3 385.8,589.5 386,589.6 386.2,589.8 386.4,589.9 386.6,590 386.8,590.1 387,590.2 387.2,590.3 387.4,590.4 387.6,590.5 387.8,590.6 388,590.6 388.2,590.7 388.4,590.8 388.6,590.8 388.8,590.9 389,590.9 389.2,590.9 389.4,591 389.6,591 389.8,591 390,591 390.2,591.1 390.4,591.1 390.6,591.1 390.8,591.1 391,591.1 391.2,591.1 391.4,591.1 391.6,591.1 391.8,591 392,591 392.2,591 392.4,591 392.6,590.9 392.8,590.9 393,590.8 393.2,590.8 393.4,590.7 393.6,590.6 393.8,590.6 394,590.5 394.2,590.4 394.4,590.3 394.6,590.1 394.8,590 395,589.9 395.2,589.7 395.4,589.5 395.6,589.3 395.8,589.1 396,588.8 396.2,588.5 396.4,588.1 396.6,587.7 396.8,587.2 397,586.5 397.2,585.7 397.4,584.6 397.6,583.3 397.8,581.7 398,579.6 398.2,577 398.4,573.8 398.6,569.9 398.8,565.3 399,559.9 399.2,553.6 399.4,546.6 399.6,538.8 399.8,530.5 400,521.8 400.2,513.1 400.4,504.7 400.6,497.2 400.8,491 401,486.8 401.2,484.9 401.4,485.5 401.6,488.6 401.8,493.9 402,500.9 402.2,508.9 402.4,517.5 402.6,526.3 402.8,534.8 403,542.9 403.2,550.3 403.4,557 403.6,562.8 403.8,567.9 404,572.1 404.2,575.6 404.4,578.5 404.6,580.9 404.8,582.7 405,584.2 405.2,585.4 405.4,586.3 405.6,587.1 405.8,587.7 406,588.2 406.2,588.6 406.4,589 406.6,589.3 406.8,589.5 407,589.8 407.2,590 407.4,590.2 407.6,590.3 407.8,590.5 408,590.6 408.2,590.8 408.4,590.9 408.6,591 408.8,591.1 409,591.2 409.2,591.3 409.4,591.4 409.6,591.4 409.8,591.5 410,591.6 410.2,591.7 410.4,591.7 410.6,591.8 410.8,591.8 411,591.9 411.2,591.9 411.4,592 411.6,592 411.8,592 412,592.1 412.2,592.1 412.4,592.1 412.6,592.2 412.8,592.2 413,592.2 413.2,592.3 413.4,592.3 413.6,592.3 413.8,592.3 414,592.3 414.2,592.4 414.4,592.4 414.6,592.4 414.8,592.4 415,592.4 415.2,592.4 415.4,592.5 415.6,592.5 415.8,592.5 416,592.5 416.2,592.5 416.4,592.5 416.6,592.5 416.8,592.5 417,592.5 417.2,592.6 417.4,592.6 417.6,592.6 417.8,592.6 418,592.6 418.2,592.6 418.4,592.6 418.6,592.6 418.8,592.6 419,592.6 419.2,592.6 419.4,592.6 419.6,592.6 419.8,592.6 420,592.6 420.2,592.6 420.4,592.6 420.6,592.6 420.8,592.6 421,592.6 421.2,592.6 421.4,592.5 421.6,592.5 421.8,592.5 422,592.4 422.2,592.3 422.4,592.2 422.6,592.1 422.8,592 423,591.8 423.2,591.5 423.4,591.3 423.6,590.9 423.8,590.6 424,590.2 424.2,589.7 424.4,589.2 424.6,588.7 424.8,588.2 425,587.8 425.2,587.3 425.4,587 425.6,586.7 425.8,586.5 426,586.4 426.2,586.5 426.4,586.7 426.6,587 426.8,587.3 427,587.8 427.2,588.2 427.4,588.7 427.6,589.2 427.8,589.7 428,590.2 428.2,590.6 428.4,591 428.6,591.3 428.8,591.6 429,591.8 429.2,592 429.4,592.1 429.6,592.3 429.8,592.3 430,592.4 430.2,592.5 430.4,592.5 430.6,592.6 430.8,592.6 431,592.6 431.2,592.6 431.4,592.6 431.6,592.6 431.8,592.6 432,592.6 432.2,592.6 432.4,592.6 432.6,592.6 432.8,592.6 433,592.6 433.2,592.6 433.4,592.6 433.6,592.6 433.8,592.6 434,592.6 434.2,592.6 434.4,592.6 434.6,592.6 434.8,592.6 435,592.6 435.2,592.6 435.4,592.6 435.6,592.6 435.8,592.6 436,592.6 436.2,592.6 436.4,592.6 436.6,592.6 436.8,592.6 437,592.6 437.2,592.6 437.4,592.6 437.6,592.6 437.8,592.6 438,592.6 438.2,592.5 438.4,592.5 438.6,592.5 438.8,592.5 439,592.5 439.2,592.5 439.4,592.5 439.6,592.5 439.8,592.4 440,592.4 440.2,592.4 440.4,592.4 440.6,592.4 440.8,592.4 441,592.3 441.2,592.3 441.4,592.3 441.6,592.2 441.8,592.2 442,592.2 442.2,592.1 442.4,592.1 442.6,592 442.8,592 443,591.9 443.2,591.8 443.4,591.7 443.6,591.6 443.8,591.4 444,591.1 444.2,590.8 444.4,590.3 444.6,589.8 444.8,589.1 445,588.2 445.2,587.1 445.4,585.7 445.6,584.1 445.8,582.2 446,580.1 446.2,577.6 446.4,575 446.6,572.1 446.8,569.1 447,566.1 447.2,563.2 447.4,560.5 447.6,558.1 447.8,556.2 448,554.9 448.2,554.4 448.4,554.6 448.6,555.5 448.8,557.1 449,559.2 449.2,561.8 449.4,564.6 449.6,567.6 449.8,570.6 450,573.5 450.2,576.3 450.4,578.8 450.6,581.1 450.8,583.2 451,584.9 451.2,586.4 451.4,587.6 451.6,588.6 451.8,589.4 452,590 452.2,590.5 452.4,590.9 452.6,591.1 452.8,591.4 453,591.5 453.2,591.7 453.4,591.8 453.6,591.8 453.8,591.9 454,592 454.2,592 454.4,592 454.6,592.1 454.8,592.1 455,592.1 455.2,592.1 455.4,592.2 455.6,592.2 455.8,592.2 456,592.2 456.2,592.2 456.4,592.3 456.6,592.3 456.8,592.3 457,592.3 457.2,592.3 457.4,592.3 457.6,592.3 457.8,592.3 458,592.3 458.2,592.3 458.4,592.3 458.6,592.3 458.8,592.4 459,592.4 459.2,592.4 459.4,592.4 459.6,592.4 459.8,592.4 460,592.4 460.2,592.4 460.4,592.4 460.6,592.4 460.8,592.4 461,592.4 461.2,592.4 461.4,592.4 461.6,592.4 461.8,592.4 462,592.4 462.2,592.4 462.4,592.4 462.6,592.4 462.8,592.4 463,592.4 463.2,592.4 463.4,592.4 463.6,592.4 463.8,592.4 464,592.4 464.2,592.4 464.4,592.4 464.6,592.4 464.8,592.4 465,592.4 465.2,592.4 465.4,592.4 465.6,592.4 465.8,592.4 466,592.4 466.2,592.4 466.4,592.4 466.6,592.4 466.8,592.4 467,592.4 467.2,592.4 467.4,592.4 467.6,592.4 467.8,592.4 468,592.4 468.2,592.4 468.4,592.4 468.6,592.4 468.8,592.4 469,592.4 469.2,592.3 469.4,592.3 469.6,592.3 469.8,592.3 470,592.3 470.2,592.3 470.4,592.3 470.6,592.3 470.8,592.3 471,592.3 471.2,592.3 471.4,592.3 471.6,592.3 471.8,592.3 472,592.3 472.2,592.3 472.4,592.3 472.6,592.3 472.8,592.3 473,592.3 473.2,592.3 473.4,592.3 473.6,592.3 473.8,592.3 474,592.3 474.2,592.3 474.4,592.3 474.6,592.3 474.8,592.3 475,592.3 475.2,592.3 475.4,592.3 475.6,592.2 475.8,592.2 476,592.2 476.2,592.2 476.4,592.2 476.6,592.2 476.8,592.2 477,592.2 477.2,592.2 477.4,592.2 477.6,592.2 477.8,592.2 478,592.2 478.2,592.2 478.4,592.2 478.6,592.2 478.8,592.2 479,592.2 479.2,592.2 479.4,592.2 479.6,592.2 479.8,592.1 480,592.1 480.2,592.1 480.4,592.1 480.6,592.1 480.8,592.1 481,592.1 481.2,592.1 481.4,592.1 481.6,592.1 481.8,592.1 482,592.1 482.2,592.1 482.4,592 482.6,592 482.8,592 483,592 483.2,592 483.4,592 483.6,592 483.8,592 484,592 484.2,592 484.4,591.9 484.6,591.9 484.8,591.9 485,591.9 485.2,591.9 485.4,591.9 485.6,591.8 485.8,591.8 486,591.8 486.2,591.8 486.4,591.8 486.6,591.7 486.8,591.7 487,591.7 487.2,591.7 487.4,591.6 487.6,591.6 487.8,591.6 488,591.5 488.2,591.5 488.4,591.4 488.6,591.4 488.8,591.3 489,591.3 489.2,591.2 489.4,591.1 489.6,590.9 489.8,590.7 490,590.5 490.2,590.3 490.4,589.9 490.6,589.5 490.8,589 491,588.3 491.2,587.5 491.4,586.5 491.6,585.3 491.8,584 492,582.3 492.2,580.5 492.4,578.4 492.6,576.1 492.8,573.5 493,570.8 493.2,567.9 493.4,565 493.6,562.1 493.8,559.3 494,556.6 494.2,554.2 494.4,552.2 494.6,550.7 494.8,549.8 495,549.4 495.2,549.8 495.4,550.7 495.6,552.2 495.8,554.2 496,556.6 496.2,559.2 496.4,562.1 496.6,565 496.8,567.9 497,570.7 497.2,573.5 497.4,576 497.6,578.3 497.8,580.4 498,582.3 498.2,583.9 498.4,585.3 498.6,586.4 498.8,587.4 499,588.2 499.2,588.9 499.4,589.4 499.6,589.8 499.8,590.1 500,590.4 500.2,590.6 500.4,590.8 500.6,590.9 500.8,591 501,591.1 501.2,591.2 501.4,591.2 501.6,591.3 501.8,591.3 502,591.3 502.2,591.4 502.4,591.4 502.6,591.4 502.8,591.5 503,591.5 503.2,591.5 503.4,591.5 503.6,591.5 503.8,591.6 504,591.6 504.2,591.6 504.4,591.6 504.6,591.6 504.8,591.6 505,591.6 505.2,591.6 505.4,591.7 505.6,591.7 505.8,591.7 506,591.7" stroke="#000" stroke-width="3" fill="none" stroke-linejoin="round"/>
<defs><path id="oe" d="M39.5 759.7h0M39.9 759.8h0M40.3 760.6h0M40.7 763.9h0M41.1 765.1h0M41.4 764h0M41.8 759.3h0M42.2 759h0M42.6 766.3h0M43 757.6h0M43.4 760.7h0M43.8 758.5h0M44.2 765.9h0M44.6 757.9h0M44.9 765.3h0M45.3 764.6h0M45.7 765.4h0M46.1 762.4h0M46.5 760.9h0M46.9 764.2h0M47.3 765.1h0M47.7 757.9h0M48 762.4h0M48.4 764.5h0M48.8 765.3h0M49.2 758.8h0M49.6 758.1h0M50 762.5h0M50.4 756.9h0M50.8 757.6h0M51.2 758.4h0M51.5 758.5h0M51.9 763h0M52.3 759.9h0M52.7 762.1h0M53.1 759.7h0M53.5 758.3h0M53.9 760.8h0M54.3 763.9h0M54.7 760.5h0M55 760h0M55.4 760.2h0M55.8 757.5h0M56.2 757.6h0M56.6 760.4h0M57 758.3h0M57.4 761.9h0M57.8 759.8h0M58.1 759h0M58.5 763.8h0M58.9 760.6h0M59.3 756.7h0M59.7 759.2h0M60.1 760.8h0M60.5 764.2h0M60.9 764.4h0M61.3 763.9h0M61.6 757h0M62 761.1h0M62.4 759.8h0M62.8 764h0M63.2 763.2h0M63.6 761.2h0M64 758.9h0M64.4 758.8h0M64.8 762.9h0M65.1 762.6h0M65.5 762h0M65.9 756.8h0M66.3 762.3h0M66.7 764.2h0M67.1 760.3h0M67.5 762.5h0M67.9 764.6h0M68.2 759.6h0M68.6 761.3h0M69 757.3h0M69.4 756.3h0M69.8 764.3h0M70.2 759.8h0M70.6 759.9h0M71 758.3h0M71.4 759.8h0M71.7 764.7h0M72.1 756.8h0M72.5 762.2h0M72.9 763.6h0M73.3 758h0M73.7 763.5h0M74.1 763.2h0M74.5 757.7h0M74.9 758.7h0M75.2 761.5h0M75.6 760h0M76 762h0M76.4 761h0M76.8 757.8h0M77.2 758h0M77.6 762.8h0M78 760.1h0M78.4 758.8h0M78.7 760.9h0M79.1 761.8h0M79.5 762h0M79.9 754.6h0M80.3 759.4h0M80.7 754.8h0M81.1 759.9h0M81.5 754h0M81.8 755.5h0M82.2 750h0M82.6 746.5h0M83 741.9h0M83.4 734h0M83.8 723.5h0M84.2 703.1h0M84.6 685.8h0M85 669.6h0M85.3 667.4h0M85.7 666.6h0M86.1 675.8h0M86.5 690.4h0M86.9 703.5h0M87.3 725.9h0M87.7 733.8h0M88.1 742.3h0M88.5 750h0M88.8 751.8h0M89.2 750.8h0M89.6 752.1h0M90 760.1h0M90.4 759.4h0M90.8 751.9h0M91.2 752.3h0M91.6 759.3h0M91.9 755.9h0M92.3 758.4h0M92.7 759.8h0M93.1 756.1h0M93.5 754.2h0M93.9 760.5h0M94.3 760.1h0M94.7 756.7h0M95.1 761h0M95.4 757.3h0M95.8 756.9h0M96.2 755.5h0M96.6 759.8h0M97 759.6h0M97.4 754.3h0M97.8 752.8h0M98.2 754h0M98.6 759.7h0M98.9 756.9h0M99.3 754h0M99.7 754.4h0M100.1 758.5h0M100.5 753.9h0M100.9 752.5h0M101.3 756.2h0M101.7 760.2h0M102 754.7h0M102.4 753.6h0M102.8 760h0M103.2 759.5h0M103.6 754.4h0M104 752.8h0M104.4 753.4h0M104.8 754.4h0M105.2 755.2h0M105.5 756h0M105.9 759.7h0M106.3 757.6h0M106.7 760.1h0M107.1 755.6h0M107.5 751.8h0M107.9 760.2h0M108.3 751.6h0M108.7 759.2h0M109 752.9h0M109.4 756.1h0M109.8 754.4h0M110.2 757.9h0M110.6 751.4h0M111 751.6h0M111.4 752.3h0M111.8 756.5h0M112.1 754.9h0M112.5 753.7h0M112.9 753.8h0M113.3 749.9h0M113.7 747.9h0M114.1 745.5h0M114.5 752.9h0M114.9 749.2h0M115.3 749.9h0M115.6 747.9h0M116 743.7h0M116.4 739.8h0M116.8 738.8h0M117.2 740.4h0M117.6 740.6h0M118 733h0M118.4 729.6h0M118.8 733.3h0M119.1 728.6h0M119.5 725.6h0M119.9 731.1h0M120.3 731.7h0M120.7 721.2h0M121.1 724.7h0M121.5 723.4h0M121.9 736.5h0M122.3 737.6h0M122.6 730.6h0M123 738.8h0M123.4 739.3h0M123.8 740.1h0M124.2 745.8h0M124.6 746.5h0M125 748.3h0M125.4 743.2h0M125.7 749.9h0M126.1 740.7h0M126.5 746.8h0M126.9 742.8h0M127.3 736.6h0M127.7 732.8h0M128.1 718.7h0M128.5 687.5h0M128.9 642.8h0M129.2 616h0M129.6 616h0M130 616h0M130.4 616h0M130.8 616h0M131.2 616h0M131.6 616h0M132 616h0M132.4 616h0M132.7 616h0M133.1 616h0M133.5 616h0M133.9 616h0M134.3 616h0M134.7 638.5h0M135.1 684.7h0M135.5 714.5h0M135.8 736.1h0M136.2 740.5h0M136.6 745h0M137 745.9h0M137.4 746.9h0M137.8 747.7h0M138.2 751.2h0M138.6 748.4h0M139 747.6h0M139.3 747.1h0M139.7 751.4h0M140.1 748.3h0M140.5 745.2h0M140.9 748h0M141.3 745.5h0M141.7 746.8h0M142.1 750.6h0M142.5 753.5h0M142.8 748.4h0M143.2 754.8h0M143.6 747.7h0M144 746.6h0M144.4 751.4h0M144.8 751.5h0M145.2 752h0M145.6 747.4h0M145.9 748.1h0M146.3 753.2h0M146.7 754.1h0M147.1 753.2h0M147.5 749.5h0M147.9 752.8h0M148.3 754.6h0M148.7 756h0M149.1 751h0M149.4 753.7h0M149.8 752.2h0M150.2 750.6h0M150.6 752.7h0M151 755.9h0M151.4 752.5h0M151.8 750h0M152.2 750.4h0M152.6 756.2h0M152.9 756.5h0M153.3 749.4h0M153.7 755.1h0M154.1 752h0M154.5 749.4h0M154.9 749.9h0M155.3 751.2h0M155.7 753.9h0M156.1 755.5h0M156.4 749.7h0M156.8 751.3h0M157.2 750.8h0M157.6 753.6h0M158 751.4h0M158.4 750.9h0M158.8 749.2h0M159.2 750.1h0M159.5 748h0M159.9 752.7h0M160.3 749.7h0M160.7 754.1h0M161.1 747.3h0M161.5 750.1h0M161.9 750.8h0M162.3 748.2h0M162.7 745.5h0M163 747.7h0M163.4 744.9h0M163.8 750.1h0M164.2 746.5h0M164.6 744.4h0M165 748.6h0M165.4 747.3h0M165.8 738.9h0M166.2 741.6h0M166.5 732.8h0M166.9 728.9h0M167.3 712.3h0M167.7 678h0M168.1 629.6h0M168.5 616h0M168.9 616h0M169.3 616h0M169.6 616h0M170 616h0M170.4 616h0M170.8 616h0M171.2 616h0M171.6 616h0M172 616h0M172.4 616h0M172.8 616h0M173.1 616h0M173.5 652.8h0M173.9 697.6h0M174.3 717.8h0M174.7 733.6h0M175.1 744.8h0M175.5 748h0M175.9 745.2h0M176.3 751h0M176.6 748h0M177 743.9h0M177.4 745.4h0M177.8 752.4h0M178.2 752.2h0M178.6 749.8h0M179 750h0M179.4 746.1h0M179.7 755.1h0M180.1 751h0M180.5 751.6h0M180.9 750.8h0M181.3 748.9h0M181.7 750.3h0M182.1 750.1h0M182.5 755.1h0M182.9 748.4h0M183.2 753.7h0M183.6 757.4h0M184 749.7h0M184.4 753.6h0M184.8 756.6h0M185.2 756.8h0M185.6 750.4h0M186 750.5h0M186.4 756.6h0M186.7 748.5h0M187.1 755.6h0M187.5 748.6h0M187.9 750.1h0M188.3 753.2h0M188.7 754.6h0M189.1 750.1h0M189.5 757.4h0M189.8 757.4h0M190.2 752.2h0M190.6 749.4h0M191 752.4h0M191.4 752.9h0M191.8 749.6h0M192.2 751.8h0M192.6 747.9h0M193 750.7h0M193.3 749.6h0M193.7 752.9h0M194.1 745.5h0M194.5 745.8h0M194.9 743.9h0M195.3 744.1h0M195.7 742.8h0M196.1 738.6h0M196.5 746.8h0M196.8 736.4h0M197.2 738.3h0M197.6 744.5h0M198 741.3h0M198.4 740.5h0M198.8 743.8h0M199.2 740.4h0M199.6 742h0M200 743.5h0M200.3 752.5h0M200.7 747.1h0M201.1 747.5h0M201.5 753.8h0M201.9 750.9h0M202.3 749.4h0M202.7 751.4h0M203.1 752.7h0M203.4 751h0M203.8 755.1h0M204.2 750h0M204.6 754.3h0M205 753.9h0M205.4 756h0M205.8 755.3h0M206.2 749.8h0M206.6 751.6h0M206.9 755.8h0M207.3 755.3h0M207.7 750.1h0M208.1 756.3h0M208.5 755.4h0M208.9 749.4h0M209.3 756h0M209.7 753h0M210.1 748.9h0M210.4 756.3h0M210.8 752.6h0M211.2 755.7h0M211.6 756h0M212 750h0M212.4 750.7h0M212.8 756h0M213.2 749.7h0M213.5 749.8h0M213.9 755.2h0M214.3 751.8h0M214.7 749.1h0M215.1 750.4h0M215.5 748.6h0M215.9 749.3h0M216.3 753.5h0M216.7 749.4h0M217 748.4h0M217.4 749.2h0M217.8 751.1h0M218.2 747.1h0M218.6 750.2h0M219 747.2h0M219.4 748.2h0M219.8 753.8h0M220.2 749h0M220.5 746.1h0M220.9 747.4h0M221.3 748.5h0M221.7 752.7h0M222.1 753.6h0M222.5 750.7h0M222.9 750.8h0M223.3 753h0M223.6 753.2h0M224 747.7h0M224.4 754.4h0M224.8 748.9h0M225.2 756.1h0M225.6 752.3h0M226 753h0M226.4 751.1h0M226.8 749.2h0M227.1 757h0M227.5 750h0M227.9 756.3h0M228.3 749.7h0M228.7 755.5h0M229.1 751.8h0M229.5 756.2h0M229.9 751.4h0M230.3 753.1h0M230.6 755.9h0M231 752.2h0M231.4 752.5h0M231.8 754.5h0M232.2 749.5h0M232.6 755.1h0M233 751.9h0M233.4 749.9h0M233.7 752.4h0M234.1 751.8h0M234.5 748.1h0M234.9 754.2h0M235.3 750.1h0M235.7 744.7h0M236.1 744.1h0M236.5 733.8h0M236.9 722.6h0M237.2 701.3h0M237.6 689.1h0M238 673.4h0M238.4 661.1h0M238.8 656.2h0M239.2 662.2h0M239.6 670.3h0M240 691.6h0M240.4 708.2h0M240.7 719.3h0M241.1 736.4h0M241.5 737.7h0M241.9 743.8h0M242.3 750.2h0M242.7 750.3h0M243.1 746.9h0M243.5 752.7h0M243.9 749.3h0M244.2 746h0M244.6 749.1h0M245 749h0M245.4 746.5h0M245.8 749.7h0M246.2 752.2h0M246.6 753h0M247 749.1h0M247.3 750.7h0M247.7 751.8h0M248.1 751.4h0M248.5 752.8h0M248.9 751.6h0M249.3 754.5h0M249.7 751.7h0M250.1 750.6h0M250.5 750.5h0M250.8 748.6h0M251.2 755.3h0M251.6 753.2h0M252 754.4h0M252.4 753.7h0M252.8 750.4h0M253.2 751.6h0M253.6 749.3h0M254 749h0M254.3 754.5h0M254.7 751.2h0M255.1 752.9h0M255.5 750h0M255.9 754.8h0M256.3 752.9h0M256.7 755.6h0M257.1 748.2h0M257.4 755.5h0M257.8 750.7h0M258.2 747.6h0M258.6 748.3h0M259 747.1h0M259.4 752.8h0M259.8 754.2h0M260.2 750.7h0M260.6 749.9h0M260.9 745.9h0M261.3 752h0M261.7 752h0M262.1 746.7h0M262.5 746.1h0M262.9 751.3h0M263.3 752.4h0M263.7 754.5h0M264.1 754.7h0M264.4 752.5h0M264.8 747.6h0M265.2 754.2h0M265.6 753h0M266 754.7h0M266.4 751.1h0M266.8 749.7h0M267.2 748.8h0M267.5 748.5h0M267.9 752.2h0M268.3 754.1h0M268.7 754.5h0M269.1 747.4h0M269.5 750.6h0M269.9 748.1h0M270.3 753.1h0M270.7 748.3h0M271 747.4h0M271.4 747.6h0M271.8 747.6h0M272.2 750.9h0M272.6 755.1h0M273 748.5h0M273.4 747.5h0M273.8 747.8h0M274.2 751.5h0M274.5 748.5h0M274.9 752.5h0M275.3 754.2h0M275.7 747.8h0M276.1 754.8h0M276.5 753.2h0M276.9 752.3h0M277.3 747.8h0M277.7 750.8h0M278 754.1h0M278.4 748.6h0M278.8 749.9h0M279.2 751.7h0M279.6 747.6h0M280 755.4h0M280.4 756h0M280.8 749h0M281.1 751.4h0M281.5 755.6h0M281.9 750h0M282.3 747.8h0M282.7 752.3h0M283.1 749.9h0M283.5 753.1h0M283.9 751.5h0M284.3 751.7h0M284.6 748.3h0M285 749.3h0M285.4 747.4h0M285.8 745.6h0M286.2 745.2h0M286.6 745.3h0M287 746.2h0M287.4 744.9h0M287.8 752.4h0M288.1 750.3h0M288.5 752h0M288.9 748.6h0M289.3 745h0M289.7 748h0M290.1 746.6h0M290.5 747.4h0M290.9 748h0M291.2 748.6h0M291.6 743.4h0M292 742.7h0M292.4 748.9h0M292.8 741.7h0M293.2 747.8h0M293.6 742.9h0M294 736.6h0M294.4 732.8h0M294.7 723.6h0M295.1 709.3h0M295.5 673.1h0M295.9 616h0M296.3 616h0M296.7 616h0M297.1 616h0M297.5 616h0M297.9 616h0M298.2 616h0M298.6 616h0M299 616h0M299.4 616h0M299.8 616h0M300.2 616h0M300.6 616h0M301 616h0M301.3 661.1h0M301.7 700.6h0M302.1 723.6h0M302.5 733.9h0M302.9 737.9h0M303.3 745h0M303.7 744.6h0M304.1 741.1h0M304.5 747.8h0M304.8 745.7h0M305.2 744.7h0M305.6 741.5h0M306 742.3h0M306.4 742.5h0M306.8 748.3h0M307.2 742.9h0M307.6 745.1h0M308 750.4h0M308.3 745.5h0M308.7 749.9h0M309.1 750.8h0M309.5 742.9h0M309.9 750.2h0M310.3 747.5h0M310.7 745h0M311.1 750.8h0M311.4 746.1h0M311.8 744.3h0M312.2 743.9h0M312.6 745.8h0M313 748.7h0M313.4 746.8h0M313.8 745.2h0M314.2 748.9h0M314.6 742.3h0M314.9 740.4h0M315.3 740.4h0M315.7 733.9h0M316.1 731.4h0M316.5 726.5h0M316.9 714.9h0M317.3 720.7h0M317.7 716.6h0M318.1 711h0M318.4 716.3h0M318.8 720.6h0M319.2 725.6h0M319.6 727h0M320 735.7h0M320.4 730.6h0M320.8 739.6h0M321.2 737.4h0M321.6 739h0M321.9 747.4h0M322.3 743.2h0M322.7 742.9h0M323.1 750.5h0M323.5 747.1h0M323.9 749.5h0M324.3 746.6h0M324.7 748.6h0M325 746.8h0M325.4 751.8h0M325.8 750.6h0M326.2 746.1h0M326.6 746.8h0M327 750h0M327.4 745.9h0M327.8 750.3h0M328.2 753.1h0M328.5 746.7h0M328.9 754.3h0M329.3 746.4h0M329.7 752h0M330.1 746.5h0M330.5 750.6h0M330.9 754.2h0M331.3 747.3h0M331.7 751.2h0M332 745.6h0M332.4 752.6h0M332.8 752.9h0M333.2 746.4h0M333.6 752.3h0M334 753.6h0M334.4 748.4h0M334.8 750.5h0M335.1 749.1h0M335.5 750.8h0M335.9 751.8h0M336.3 746.5h0M336.7 747.5h0M337.1 750h0M337.5 752.4h0M337.9 752.4h0M338.3 752.1h0M338.6 755.4h0M339 748.1h0M339.4 749.7h0M339.8 753.8h0M340.2 750.5h0M340.6 749.7h0M341 751.1h0M341.4 747.1h0M341.8 755.4h0M342.1 751h0M342.5 747.9h0M342.9 750.5h0M343.3 749.7h0M343.7 750.7h0M344.1 750.3h0M344.5 750.8h0M344.9 747.1h0M345.2 752.9h0M345.6 752.4h0M346 747.6h0M346.4 751h0M346.8 747.3h0M347.2 752.4h0M347.6 751.4h0M348 750h0M348.4 746.2h0M348.7 741.2h0M349.1 744.8h0M349.5 742.4h0M349.9 740.2h0M350.3 739.3h0M350.7 737.1h0M351.1 736h0M351.5 735.4h0M351.9 732h0M352.2 737.1h0M352.6 734.3h0M353 742.5h0M353.4 743.4h0M353.8 742.9h0M354.2 747.8h0M354.6 748.2h0M355 747.2h0M355.4 744.1h0M355.7 747.4h0M356.1 745.9h0M356.5 745.3h0M356.9 746.7h0M357.3 751.7h0M357.7 751.3h0M358.1 753.2h0M358.5 746.8h0M358.8 745.3h0M359.2 749.1h0M359.6 746h0M360 751.7h0M360.4 749.1h0M360.8 745.7h0M361.2 743.8h0M361.6 747.6h0M362 750.6h0M362.3 748.7h0M362.7 750.7h0M363.1 745.9h0M363.5 744h0M363.9 749.2h0M364.3 747.8h0M364.7 749.4h0M365.1 749.4h0M365.5 743.7h0M365.8 744.2h0M366.2 742.9h0M366.6 748.4h0M367 743.3h0M367.4 747.1h0M367.8 745.4h0M368.2 746h0M368.6 747.1h0M368.9 745.2h0M369.3 741.6h0M369.7 738.3h0M370.1 744.1h0M370.5 737.8h0M370.9 737.5h0M371.3 736.7h0M371.7 737.1h0M372.1 732.8h0M372.4 732.2h0M372.8 732.1h0M373.2 723.8h0M373.6 727.3h0M374 714.1h0M374.4 700.5h0M374.8 679.1h0M375.2 647.7h0M375.6 616h0M375.9 616h0M376.3 616h0M376.7 616h0M377.1 616h0M377.5 616h0M377.9 616h0M378.3 616h0M378.7 616h0M379 629.5h0M379.4 666.8h0M379.8 691.7h0M380.2 708.9h0M380.6 720.3h0M381 730h0M381.4 729.5h0M381.8 732.5h0M382.2 734.1h0M382.5 738.1h0M382.9 742.3h0M383.3 742.8h0M383.7 741.9h0M384.1 743.2h0M384.5 745.7h0M384.9 745.6h0M385.3 743.3h0M385.7 744.7h0M386 741.4h0M386.4 748.2h0M386.8 744h0M387.2 748.8h0M387.6 745.6h0M388 746.7h0M388.4 746.7h0M388.8 746.1h0M389.1 750.4h0M389.5 751.3h0M389.9 750.5h0M390.3 743.8h0M390.7 748.2h0M391.1 744.3h0M391.5 751.2h0M391.9 748.2h0M392.3 749h0M392.6 748.2h0M393 747.7h0M393.4 748.7h0M393.8 746.7h0M394.2 746.2h0M394.6 746.2h0M395 745.4h0M395.4 744.5h0M395.8 747.4h0M396.1 744.8h0M396.5 745.3h0M396.9 741.1h0M397.3 744.6h0M397.7 740.4h0M398.1 736h0M398.5 731.7h0M398.9 718.9h0M399.3 707.2h0M399.6 695.8h0M400 671.6h0M400.4 656h0M400.8 648.2h0M401.2 636h0M401.6 640.7h0M402 655.4h0M402.4 675.1h0M402.7 692.6h0M403.1 705.7h0M403.5 713.3h0M403.9 727.2h0M404.3 735.8h0M404.7 737.1h0M405.1 736.5h0M405.5 739.2h0M405.9 740.6h0M406.2 740.5h0M406.6 745.4h0M407 742.7h0M407.4 747.9h0M407.8 748.6h0M408.2 744.7h0M408.6 751.1h0M409 750.3h0M409.4 749.2h0M409.7 748.6h0M410.1 748h0M410.5 744.1h0M410.9 749h0M411.3 750.4h0M411.7 747.4h0M412.1 749h0M412.5 745.5h0M412.8 744.5h0M413.2 748.6h0M413.6 743.4h0M414 749.3h0M414.4 743.3h0M414.8 744h0M415.2 745.1h0M415.6 741.5h0M416 741.2h0M416.3 743.6h0M416.7 747.5h0M417.1 738.6h0M417.5 740.3h0M417.9 738.3h0M418.3 743.6h0M418.7 742.4h0M419.1 733.5h0M419.5 737.8h0M419.8 737.5h0M420.2 737.7h0M420.6 738.7h0M421 736.2h0M421.4 741.3h0M421.8 743.9h0M422.2 746.4h0M422.6 741.8h0M422.9 749.7h0M423.3 742.2h0M423.7 745.1h0M424.1 749.8h0M424.5 749.2h0M424.9 751.6h0M425.3 750h0M425.7 748.2h0M426.1 745.8h0M426.4 752.9h0M426.8 746.7h0M427.2 751.2h0M427.6 746.7h0M428 752.8h0M428.4 746.2h0M428.8 747.3h0M429.2 749.6h0M429.6 747.3h0M429.9 745.1h0M430.3 744.6h0M430.7 746.9h0M431.1 751.5h0M431.5 743.9h0M431.9 744.6h0M432.3 749h0M432.7 746h0M433.1 747.5h0M433.4 750.7h0M433.8 746.5h0M434.2 748.3h0M434.6 746.6h0M435 743.8h0M435.4 750.5h0M435.8 748.2h0M436.2 743.5h0M436.5 746.3h0M436.9 746.3h0M437.3 746.8h0M437.7 750.5h0M438.1 745.7h0M438.5 748.5h0M438.9 749.9h0M439.3 745h0M439.7 748.4h0M440 754.7h0M440.4 747.6h0M440.8 752.5h0M441.2 753.7h0M441.6 752.2h0M442 753.2h0M442.4 750.8h0M442.8 750.5h0M443.2 742.9h0M443.5 749.1h0M443.9 746.9h0M444.3 745.2h0M444.7 747.2h0M445.1 738.2h0M445.5 729.4h0M445.9 730.2h0M446.3 720.3h0M446.6 715.4h0M447 713.4h0M447.4 707.6h0M447.8 713.4h0M448.2 706.7h0M448.6 714.5h0M449 711.3h0M449.4 717.5h0M449.8 724.5h0M450.1 717.8h0M450.5 733.5h0M450.9 737.6h0M451.3 734.4h0M451.7 739.5h0M452.1 740.1h0M452.5 746.5h0M452.9 742.5h0M453.3 745.4h0M453.6 745.4h0M454 751h0M454.4 751.3h0M454.8 747.7h0M455.2 745.5h0M455.6 746.6h0M456 750.7h0M456.4 744.2h0M456.7 750.2h0M457.1 749.1h0M457.5 747.2h0M457.9 744.2h0M458.3 746.6h0M458.7 747.7h0M459.1 750.5h0M459.5 744.7h0M459.9 746.6h0M460.2 746.7h0M460.6 745.8h0M461 743.7h0M461.4 742h0M461.8 745.2h0M462.2 746.3h0M462.6 742.9h0M463 743.8h0M463.4 738.1h0M463.7 741.5h0M464.1 738.2h0M464.5 732.7h0M464.9 730.4h0M465.3 731.3h0M465.7 733.4h0M466.1 724.8h0M466.5 729.3h0M466.8 734.6h0M467.2 726.8h0M467.6 732.6h0M468 736.3h0M468.4 740.1h0M468.8 734.2h0M469.2 741.2h0M469.6 746.7h0M470 742.2h0M470.3 746h0M470.7 742.2h0M471.1 744.8h0M471.5 748.3h0M471.9 744.4h0M472.3 749.3h0M472.7 750.1h0M473.1 748h0M473.5 748.4h0M473.8 745h0M474.2 749.3h0M474.6 745.4h0M475 749.8h0M475.4 747.9h0M475.8 748.7h0M476.2 743.6h0M476.6 743.4h0M477 748.9h0M477.3 746.6h0M477.7 747.5h0M478.1 742.7h0M478.5 750.9h0M478.9 749.8h0M479.3 744.7h0M479.7 747.3h0M480.1 749.1h0M480.4 744.5h0M480.8 747.3h0M481.2 746.6h0M481.6 745.8h0M482 746.8h0M482.4 744.6h0M482.8 751.5h0M483.2 745.8h0M483.6 742.6h0M483.9 749.3h0M484.3 748.2h0M484.7 744.8h0M485.1 746.9h0M485.5 746.5h0M485.9 747.3h0M486.3 745.2h0M486.7 747.5h0M487.1 745.6h0M487.4 745h0M487.8 743h0M488.2 746.9h0M488.6 749h0M489 748.8h0M489.4 742.9h0M489.8 743.4h0M490.2 740.1h0M490.5 748.2h0M490.9 744.8h0M491.3 738.5h0M491.7 739h0M492.1 727.1h0M492.5 721.7h0M492.9 721.1h0M493.3 719.1h0M493.7 705.6h0M494 699.8h0M494.4 698h0M494.8 702.3h0M495.2 704.5h0M495.6 709.5h0M496 701.2h0M496.4 712.8h0M496.8 719.1h0M497.2 721.9h0M497.5 728.8h0M497.9 737.3h0M498.3 732.4h0M498.7 740.4h0M499.1 738.5h0M499.5 739.8h0M499.9 739.9h0M500.3 742h0M500.6 745.2h0M501 750.8h0M501.4 750.7h0M501.8 742.8h0M502.2 747.1h0M502.6 750h0M503 747.7h0M503.4 743.5h0M503.8 748h0M504.1 745.2h0M504.5 744.2h0M504.9 744.5h0M505.3 744.6h0M505.7 748.1h0"/></defs>
<g clip-path="url(#ce)" fill="none" stroke-linecap="round"><use href="#oe" stroke="#b80000" stroke-width="7.9"/><use href="#oe" stroke="#ff0000" stroke-width="6.5"/></g>
<polyline clip-path="url(#ce)" points="40,756.9 40.2,756.9 40.4,756.9 40.6,756.9 40.8,756.9 41,756.9 41.2,756.9 41.4,756.9 41.6,756.9 41.8,756.9 42,756.9 42.2,756.9 42.4,756.9 42.6,756.9 42.8,756.9 43,756.9 43.2,756.9 43.4,756.8 43.6,756.8 43.8,756.8 44,756.8 44.2,756.8 44.4,756.8 44.6,756.8 44.8,756.8 45,756.8 45.2,756.8 45.4,756.8 45.6,756.8 45.8,756.8 46,756.8 46.2,756.8 46.4,756.8 46.6,756.8 46.8,756.8 47,756.8 47.2,756.7 47.4,756.7 47.6,756.7 47.8,756.7 48,756.7 48.2,756.7 48.4,756.7 48.6,756.7 48.8,756.7 49,756.7 49.2,756.7 49.4,756.7 49.6,756.7 49.8,756.7 50,756.7 50.2,756.7 50.4,756.7 50.6,756.7 50.8,756.6 51,756.6 51.2,756.6 51.4,756.6 51.6,756.6 51.8,756.6 52,756.6 52.2,756.6 52.4,756.6 52.6,756.6 52.8,756.6 53,756.6 53.2,756.6 53.4,756.6 53.6,756.6 53.8,756.6 54,756.6 54.2,756.5 54.4,756.5 54.6,756.5 54.8,756.5 55,756.5 55.2,756.5 55.4,756.5 55.6,756.5 55.8,756.5 56,756.5 56.2,756.5 56.4,756.5 56.6,756.5 56.8,756.5 57,756.5 57.2,756.5 57.4,756.5 57.6,756.4 57.8,756.4 58,756.4 58.2,756.4 58.4,756.4 58.6,756.4 58.8,756.4 59,756.4 59.2,756.4 59.4,756.4 59.6,756.4 59.8,756.4 60,756.4 60.2,756.4 60.4,756.4 60.6,756.4 60.8,756.3 61,756.3 61.2,756.3 61.4,756.3 61.6,756.3 61.8,756.3 62,756.3 62.2,756.3 62.4,756.3 62.6,756.3 62.8,756.3 63,756.3 63.2,756.3 63.4,756.3 63.6,756.3 63.8,756.2 64,756.2 64.2,756.2 64.4,756.2 64.6,756.2 64.8,756.2 65,756.2 65.2,756.2 65.4,756.2 65.6,756.2 65.8,756.2 66,756.2 66.2,756.2 66.4,756.2 66.6,756.1 66.8,756.1 67,756.1 67.2,756.1 67.4,756.1 67.6,756.1 67.8,756.1 68,756.1 68.2,756.1 68.4,756.1 68.6,756.1 68.8,756.1 69,756 69.2,756 69.4,756 69.6,756 69.8,756 70,756 70.2,756 70.4,756 70.6,756 70.8,756 71,755.9 71.2,755.9 71.4,755.9 71.6,755.9 71.8,755.9 72,755.9 72.2,755.9 72.4,755.9 72.6,755.8 72.8,755.8 73,755.8 73.2,755.8 73.4,755.8 73.6,755.8 73.8,755.8 74,755.7 74.2,755.7 74.4,755.7 74.6,755.7 74.8,755.7 75,755.7 75.2,755.6 75.4,755.6 75.6,755.6 75.8,755.6 76,755.5 76.2,755.5 76.4,755.5 76.6,755.5 76.8,755.4 77,755.4 77.2,755.4 77.4,755.3 77.6,755.3 77.8,755.3 78,755.2 78.2,755.2 78.4,755.1 78.6,755.1 78.8,755 79,755 79.2,754.9 79.4,754.8 79.6,754.8 79.8,754.7 80,754.6 80.2,754.5 80.4,754.3 80.6,754.2 80.8,754 81,753.8 81.2,753.5 81.4,753.2 81.6,752.7 81.8,752 82,751.1 82.2,749.9 82.4,748.3 82.6,746.2 82.8,743.4 83,739.8 83.2,735.4 83.4,730.1 83.6,723.9 83.8,716.7 84,708.9 84.2,700.5 84.4,691.9 84.6,683.5 84.8,675.9 85,669.5 85.2,664.8 85.4,662.3 85.6,662.3 85.8,664.8 86,669.4 86.2,675.8 86.4,683.4 86.6,691.8 86.8,700.3 87,708.7 87.2,716.5 87.4,723.7 87.6,729.9 87.8,735.2 88,739.5 88.2,743.1 88.4,745.8 88.6,748 88.8,749.5 89,750.7 89.2,751.6 89.4,752.2 89.6,752.7 89.8,753 90,753.3 90.2,753.5 90.4,753.6 90.6,753.7 90.8,753.8 91,753.9 91.2,754 91.4,754.1 91.6,754.1 91.8,754.2 92,754.2 92.2,754.3 92.4,754.3 92.6,754.3 92.8,754.4 93,754.4 93.2,754.4 93.4,754.4 93.6,754.4 93.8,754.5 94,754.5 94.2,754.5 94.4,754.5 94.6,754.5 94.8,754.5 95,754.5 95.2,754.5 95.4,754.5 95.6,754.5 95.8,754.5 96,754.5 96.2,754.5 96.4,754.5 96.6,754.5 96.8,754.5 97,754.5 97.2,754.5 97.4,754.5 97.6,754.5 97.8,754.5 98,754.5 98.2,754.5 98.4,754.5 98.6,754.5 98.8,754.5 99,754.5 99.2,754.5 99.4,754.4 99.6,754.4 99.8,754.4 100,754.4 100.2,754.4 100.4,754.4 100.6,754.4 100.8,754.4 101,754.4 101.2,754.3 101.4,754.3 101.6,754.3 101.8,754.3 102,754.3 102.2,754.3 102.4,754.3 102.6,754.3 102.8,754.2 103,754.2 103.2,754.2 103.4,754.2 103.6,754.2 103.8,754.2 104,754.2 104.2,754.1 104.4,754.1 104.6,754.1 104.8,754.1 105,754.1 105.2,754.1 105.4,754 105.6,754 105.8,754 106,754 106.2,754 106.4,753.9 106.6,753.9 106.8,753.9 107,753.9 107.2,753.8 107.4,753.8 107.6,753.8 107.8,753.8 108,753.8 108.2,753.7 108.4,753.7 108.6,753.7 108.8,753.7 109,753.6 109.2,753.6 109.4,753.6 109.6,753.6 109.8,753.5 110,753.5 110.2,753.5 110.4,753.4 110.6,753.4 110.8,753.4 111,753.3 111.2,753.3 111.4,753.2 111.6,753.2 111.8,753.2 112,753.1 112.2,753.1 112.4,753 112.6,752.9 112.8,752.9 113,752.8 113.2,752.7 113.4,752.7 113.6,752.6 113.8,752.5 114,752.4 114.2,752.3 114.4,752.2 114.6,752 114.8,751.9 115,751.7 115.2,751.5 115.4,751.2 115.6,750.9 115.8,750.6 116,750.2 116.2,749.8 116.4,749.2 116.6,748.6 116.8,747.9 117,747.1 117.2,746.3 117.4,745.3 117.6,744.1 117.8,742.9 118,741.6 118.2,740.2 118.4,738.7 118.6,737.1 118.8,735.5 119,733.9 119.2,732.3 119.4,730.8 119.6,729.4 119.8,728.1 120,727.1 120.2,726.4 120.4,726 120.6,726 120.8,726.3 121,726.9 121.2,727.8 121.4,729 121.6,730.3 121.8,731.7 122,733.2 122.2,734.7 122.4,736.2 122.6,737.7 122.8,739.1 123,740.4 123.2,741.6 123.4,742.7 123.6,743.6 123.8,744.5 124,745.2 124.2,745.9 124.4,746.4 124.6,746.9 124.8,747.2 125,747.5 125.2,747.7 125.4,747.8 125.6,747.9 125.8,747.9 126,747.8 126.2,747.6 126.4,747.3 126.6,746.8 126.8,746.1 127,745 127.2,743.3 127.4,740.8 127.6,737.1 127.8,731.6 128,723.8 128.2,712.9 128.4,697.8 128.6,677.6 128.8,651 129,621 129.2,621 129.4,621 129.6,621 129.8,621 130,621 130.2,621 130.4,621 130.6,621 130.8,621 131,621 131.2,621 131.4,621 131.6,621 131.8,621 132,621 132.2,621 132.4,621 132.6,621 132.8,621 133,621 133.2,621 133.4,621 133.6,621 133.8,621 134,621 134.2,621 134.4,621 134.6,635.2 134.8,665.5 135,688.8 135.2,706.3 135.4,719.2 135.6,728.5 135.8,735.1 136,739.7 136.2,742.8 136.4,744.9 136.6,746.4 136.8,747.3 137,748 137.2,748.5 137.4,748.9 137.6,749.2 137.8,749.5 138,749.7 138.2,749.8 138.4,750 138.6,750.2 138.8,750.3 139,750.4 139.2,750.6 139.4,750.7 139.6,750.8 139.8,750.9 140,751 140.2,751.1 140.4,751.1 140.6,751.2 140.8,751.3 141,751.4 141.2,751.4 141.4,751.5 141.6,751.5 141.8,751.6 142,751.6 142.2,751.7 142.4,751.7 142.6,751.7 142.8,751.8 143,751.8 143.2,751.8 143.4,751.9 143.6,751.9 143.8,751.9 144,751.9 144.2,752 144.4,752 144.6,752 144.8,752 145,752 145.2,752 145.4,752.1 145.6,752.1 145.8,752.1 146,752.1 146.2,752.1 146.4,752.1 146.6,752.1 146.8,752.1 147,752.1 147.2,752.1 147.4,752.1 147.6,752.1 147.8,752.1 148,752.1 148.2,752.1 148.4,752.1 148.6,752.1 148.8,752.1 149,752.1 149.2,752.1 149.4,752.1 149.6,752.1 149.8,752.1 150,752.1 150.2,752.1 150.4,752.1 150.6,752.1 150.8,752.1 151,752.1 151.2,752.1 151.4,752.1 151.6,752.1 151.8,752.1 152,752.1 152.2,752 152.4,752 152.6,752 152.8,752 153,752 153.2,752 153.4,752 153.6,752 153.8,752 154,752 154.2,751.9 154.4,751.9 154.6,751.9 154.8,751.9 155,751.9 155.2,751.9 155.4,751.9 155.6,751.8 155.8,751.8 156,751.8 156.2,751.8 156.4,751.8 156.6,751.7 156.8,751.7 157,751.7 157.2,751.7 157.4,751.7 157.6,751.6 157.8,751.6 158,751.6 158.2,751.5 158.4,751.5 158.6,751.5 158.8,751.5 159,751.4 159.2,751.4 159.4,751.3 159.6,751.3 159.8,751.3 160,751.2 160.2,751.2 160.4,751.1 160.6,751.1 160.8,751 161,750.9 161.2,750.9 161.4,750.8 161.6,750.7 161.8,750.7 162,750.6 162.2,750.5 162.4,750.4 162.6,750.3 162.8,750.2 163,750.1 163.2,750 163.4,749.9 163.6,749.7 163.8,749.6 164,749.5 164.2,749.3 164.4,749.1 164.6,748.9 164.8,748.7 165,748.5 165.2,748.3 165.4,748 165.6,747.6 165.8,747.1 166,746.3 166.2,745.3 166.4,743.7 166.6,741.4 166.8,737.9 167,732.6 167.2,724.8 167.4,713.7 167.6,698 167.8,676.4 168,647.6 168.2,621 168.4,621 168.6,621 168.8,621 169,621 169.2,621 169.4,621 169.6,621 169.8,621 170,621 170.2,621 170.4,621 170.6,621 170.8,621 171,621 171.2,621 171.4,621 171.6,621 171.8,621 172,621 172.2,621 172.4,621 172.6,621 172.8,621 173,621 173.2,621 173.4,629.9 173.6,662.8 173.8,687.8 174,706.2 174.2,719.5 174.4,728.8 174.6,735.2 174.8,739.5 175,742.4 175.2,744.3 175.4,745.6 175.6,746.4 175.8,747 176,747.4 176.2,747.8 176.4,748 176.6,748.2 176.8,748.4 177,748.6 177.2,748.8 177.4,748.9 177.6,749.1 177.8,749.2 178,749.3 178.2,749.4 178.4,749.5 178.6,749.6 178.8,749.7 179,749.8 179.2,749.9 179.4,750 179.6,750 179.8,750.1 180,750.2 180.2,750.2 180.4,750.3 180.6,750.3 180.8,750.4 181,750.4 181.2,750.5 181.4,750.5 181.6,750.5 181.8,750.6 182,750.6 182.2,750.6 182.4,750.6 182.6,750.7 182.8,750.7 183,750.7 183.2,750.7 183.4,750.7 183.6,750.8 183.8,750.8 184,750.8 184.2,750.8 184.4,750.8 184.6,750.8 184.8,750.8 185,750.8 185.2,750.8 185.4,750.9 185.6,750.9 185.8,750.9 186,750.9 186.2,750.9 186.4,750.9 186.6,750.9 186.8,750.9 187,750.9 187.2,750.9 187.4,750.9 187.6,750.9 187.8,750.9 188,750.9 188.2,750.9 188.4,750.9 188.6,750.9 188.8,750.9 189,750.9 189.2,750.9 189.4,750.9 189.6,750.9 189.8,750.9 190,750.9 190.2,750.9 190.4,750.9 190.6,750.9 190.8,750.8 191,750.8 191.2,750.8 191.4,750.8 191.6,750.8 191.8,750.8 192,750.8 192.2,750.8 192.4,750.7 192.6,750.7 192.8,750.7 193,750.7 193.2,750.6 193.4,750.5 193.6,750.5 193.8,750.4 194,750.2 194.2,750.1 194.4,749.9 194.6,749.6 194.8,749.3 195,749 195.2,748.6 195.4,748.1 195.6,747.6 195.8,747.1 196,746.5 196.2,745.9 196.4,745.4 196.6,744.8 196.8,744.3 197,744 197.2,743.7 197.4,743.5 197.6,743.5 197.8,743.7 198,743.9 198.2,744.3 198.4,744.8 198.6,745.3 198.8,745.8 199,746.4 199.2,747 199.4,747.5 199.6,748 199.8,748.4 200,748.8 200.2,749.2 200.4,749.4 200.6,749.7 200.8,749.9 201,750 201.2,750.1 201.4,750.2 201.6,750.3 201.8,750.3 202,750.4 202.2,750.4 202.4,750.4 202.6,750.4 202.8,750.3 203,750.3 203.2,750.2 203.4,750.1 203.6,750 203.8,749.8 204,749.7 204.2,749.4 204.4,749.2 204.6,748.9 204.8,748.7 205,748.4 205.2,748.1 205.4,747.9 205.6,747.7 205.8,747.6 206,747.5 206.2,747.6 206.4,747.7 206.6,747.9 206.8,748.1 207,748.4 207.2,748.6 207.4,748.9 207.6,749.2 207.8,749.4 208,749.6 208.2,749.8 208.4,750 208.6,750.1 208.8,750.2 209,750.3 209.2,750.3 209.4,750.4 209.6,750.4 209.8,750.4 210,750.4 210.2,750.4 210.4,750.4 210.6,750.5 210.8,750.5 211,750.5 211.2,750.5 211.4,750.5 211.6,750.5 211.8,750.4 212,750.4 212.2,750.4 212.4,750.4 212.6,750.4 212.8,750.4 213,750.4 213.2,750.4 213.4,750.4 213.6,750.4 213.8,750.4 214,750.4 214.2,750.4 214.4,750.4 214.6,750.4 214.8,750.4 215,750.4 215.2,750.4 215.4,750.4 215.6,750.4 215.8,750.4 216,750.4 216.2,750.4 216.4,750.4 216.6,750.4 216.8,750.3 217,750.3 217.2,750.3 217.4,750.3 217.6,750.3 217.8,750.3 218,750.3 218.2,750.3 218.4,750.3 218.6,750.3 218.8,750.3 219,750.3 219.2,750.3 219.4,750.3 219.6,750.3 219.8,750.3 220,750.3 220.2,750.2 220.4,750.2 220.6,750.2 220.8,750.2 221,750.2 221.2,750.2 221.4,750.2 221.6,750.2 221.8,750.2 222,750.2 222.2,750.2 222.4,750.2 222.6,750.2 222.8,750.1 223,750.1 223.2,750.1 223.4,750.1 223.6,750.1 223.8,750.1 224,750.1 224.2,750.1 224.4,750.1 224.6,750.1 224.8,750.1 225,750 225.2,750 225.4,750 225.6,750 225.8,750 226,750 226.2,750 226.4,750 226.6,749.9 226.8,749.9 227,749.9 227.2,749.9 227.4,749.9 227.6,749.9 227.8,749.9 228,749.8 228.2,749.8 228.4,749.8 228.6,749.8 228.8,749.8 229,749.7 229.2,749.7 229.4,749.7 229.6,749.7 229.8,749.7 230,749.6 230.2,749.6 230.4,749.6 230.6,749.5 230.8,749.5 231,749.5 231.2,749.4 231.4,749.4 231.6,749.3 231.8,749.3 232,749.2 232.2,749.2 232.4,749.1 232.6,749.1 232.8,749 233,748.9 233.2,748.8 233.4,748.7 233.6,748.6 233.8,748.5 234,748.4 234.2,748.2 234.4,747.9 234.6,747.6 234.8,747.2 235,746.6 235.2,745.9 235.4,744.8 235.6,743.4 235.8,741.5 236,739 236.2,735.8 236.4,731.9 236.6,727.1 236.8,721.4 237,714.8 237.2,707.5 237.4,699.7 237.6,691.5 237.8,683.5 238,676 238.2,669.6 238.4,664.7 238.6,661.9 238.8,661.3 239,663 239.2,666.9 239.4,672.6 239.6,679.6 239.8,687.4 240,695.5 240.2,703.6 240.4,711.2 240.6,718.1 240.8,724.2 241,729.5 241.2,733.8 241.4,737.4 241.6,740.2 241.8,742.3 242,744 242.2,745.2 242.4,746.1 242.6,746.7 242.8,747.2 243,747.6 243.2,747.8 243.4,748 243.6,748.2 243.8,748.3 244,748.4 244.2,748.5 244.4,748.6 244.6,748.7 244.8,748.7 245,748.8 245.2,748.8 245.4,748.9 245.6,748.9 245.8,749 246,749 246.2,749 246.4,749.1 246.6,749.1 246.8,749.1 247,749.1 247.2,749.1 247.4,749.2 247.6,749.2 247.8,749.2 248,749.2 248.2,749.2 248.4,749.2 248.6,749.2 248.8,749.3 249,749.3 249.2,749.3 249.4,749.3 249.6,749.3 249.8,749.3 250,749.3 250.2,749.3 250.4,749.3 250.6,749.3 250.8,749.3 251,749.3 251.2,749.3 251.4,749.3 251.6,749.3 251.8,749.3 252,749.3 252.2,749.3 252.4,749.3 252.6,749.3 252.8,749.3 253,749.3 253.2,749.3 253.4,749.3 253.6,749.3 253.8,749.3 254,749.3 254.2,749.3 254.4,749.3 254.6,749.3 254.8,749.3 255,749.3 255.2,749.2 255.4,749.2 255.6,749.2 255.8,749.2 256,749.2 256.2,749.2 256.4,749.1 256.6,749.1 256.8,749.1 257,749 257.2,748.9 257.4,748.9 257.6,748.7 257.8,748.6 258,748.4 258.2,748.2 258.4,748 258.6,747.7 258.8,747.3 259,747 259.2,746.5 259.4,746.1 259.6,745.7 259.8,745.2 260,744.8 260.2,744.4 260.4,744.1 260.6,743.8 260.8,743.6 261,743.6 261.2,743.6 261.4,743.8 261.6,744 261.8,744.4 262,744.7 262.2,745.2 262.4,745.6 262.6,746 262.8,746.5 263,746.9 263.2,747.2 263.4,747.6 263.6,747.8 263.8,748.1 264,748.3 264.2,748.5 264.4,748.6 264.6,748.7 264.8,748.8 265,748.8 265.2,748.9 265.4,748.9 265.6,748.9 265.8,749 266,749 266.2,749 266.4,749 266.6,749 266.8,749 267,749 267.2,749 267.4,749 267.6,749 267.8,749 268,749 268.2,749 268.4,749 268.6,749 268.8,749 269,749 269.2,749 269.4,749 269.6,749 269.8,749 270,748.9 270.2,748.9 270.4,748.9 270.6,748.9 270.8,748.9 271,748.9 271.2,748.9 271.4,748.9 271.6,748.9 271.8,748.9 272,748.9 272.2,748.9 272.4,748.9 272.6,748.9 272.8,748.9 273,748.9 273.2,748.9 273.4,748.8 273.6,748.8 273.8,748.8 274,748.8 274.2,748.8 274.4,748.8 274.6,748.8 274.8,748.8 275,748.8 275.2,748.8 275.4,748.8 275.6,748.8 275.8,748.8 276,748.7 276.2,748.7 276.4,748.7 276.6,748.7 276.8,748.7 277,748.7 277.2,748.7 277.4,748.7 277.6,748.7 277.8,748.7 278,748.7 278.2,748.6 278.4,748.6 278.6,748.6 278.8,748.6 279,748.6 279.2,748.6 279.4,748.6 279.6,748.6 279.8,748.6 280,748.5 280.2,748.5 280.4,748.5 280.6,748.5 280.8,748.5 281,748.5 281.2,748.5 281.4,748.5 281.6,748.4 281.8,748.4 282,748.4 282.2,748.4 282.4,748.4 282.6,748.4 282.8,748.3 283,748.3 283.2,748.3 283.4,748.3 283.6,748.3 283.8,748.3 284,748.2 284.2,748.2 284.4,748.2 284.6,748.2 284.8,748.2 285,748.1 285.2,748.1 285.4,748.1 285.6,748.1 285.8,748 286,748 286.2,748 286.4,747.9 286.6,747.9 286.8,747.9 287,747.8 287.2,747.8 287.4,747.8 287.6,747.7 287.8,747.7 288,747.6 288.2,747.6 288.4,747.5 288.6,747.5 288.8,747.4 289,747.3 289.2,747.3 289.4,747.2 289.6,747.1 289.8,747.1 290,747 290.2,746.9 290.4,746.8 290.6,746.7 290.8,746.6 291,746.5 291.2,746.4 291.4,746.3 291.6,746.1 291.8,746 292,745.8 292.2,745.7 292.4,745.5 292.6,745.3 292.8,745.1 293,744.8 293.2,744.5 293.4,744.1 293.6,743.6 293.8,742.8 294,741.7 294.2,739.9 294.4,737.4 294.6,733.5 294.8,727.6 295,719.1 295.2,707 295.4,689.9 295.6,666.7 295.8,635.9 296,621 296.2,621 296.4,621 296.6,621 296.8,621 297,621 297.2,621 297.4,621 297.6,621 297.8,621 298,621 298.2,621 298.4,621 298.6,621 298.8,621 299,621 299.2,621 299.4,621 299.6,621 299.8,621 300,621 300.2,621 300.4,621 300.6,621 300.8,621 301,621 301.2,635.8 301.4,666.5 301.6,689.7 301.8,706.8 302,718.9 302.2,727.4 302.4,733.2 302.6,737.1 302.8,739.7 303,741.4 303.2,742.5 303.4,743.2 303.6,743.8 303.8,744.2 304,744.5 304.2,744.7 304.4,744.9 304.6,745.1 304.8,745.3 305,745.4 305.2,745.5 305.4,745.7 305.6,745.8 305.8,745.9 306,746 306.2,746.1 306.4,746.2 306.6,746.3 306.8,746.3 307,746.4 307.2,746.5 307.4,746.5 307.6,746.6 307.8,746.6 308,746.7 308.2,746.7 308.4,746.7 308.6,746.8 308.8,746.8 309,746.8 309.2,746.8 309.4,746.9 309.6,746.9 309.8,746.9 310,746.9 310.2,746.9 310.4,746.9 310.6,746.9 310.8,746.9 311,746.9 311.2,746.9 311.4,746.9 311.6,746.8 311.8,746.8 312,746.8 312.2,746.7 312.4,746.6 312.6,746.5 312.8,746.4 313,746.3 313.2,746 313.4,745.8 313.6,745.4 313.8,745 314,744.5 314.2,743.9 314.4,743.1 314.6,742.1 314.8,741 315,739.7 315.2,738.2 315.4,736.6 315.6,734.7 315.8,732.7 316,730.5 316.2,728.2 316.4,725.8 316.6,723.5 316.8,721.2 317,719 317.2,717.1 317.4,715.5 317.6,714.3 317.8,713.5 318,713.3 318.2,713.5 318.4,714.3 318.6,715.5 318.8,717.1 319,719 319.2,721.1 319.4,723.4 319.6,725.8 319.8,728.1 320,730.4 320.2,732.5 320.4,734.6 320.6,736.4 320.8,738 321,739.5 321.2,740.7 321.4,741.7 321.6,742.4 321.8,743 322,743.4 322.2,743.5 322.4,743.5 322.6,743.4 322.8,743.1 323,742.7 323.2,742.2 323.4,741.6 323.6,741.1 323.8,740.6 324,740.1 324.2,739.8 324.4,739.7 324.6,739.7 324.8,739.9 325,740.3 325.2,740.9 325.4,741.5 325.6,742.2 325.8,742.9 326,743.6 326.2,744.2 326.4,744.8 326.6,745.3 326.8,745.7 327,746.1 327.2,746.4 327.4,746.6 327.6,746.8 327.8,746.9 328,747 328.2,747.1 328.4,747.1 328.6,747.2 328.8,747.2 329,747.2 329.2,747.3 329.4,747.3 329.6,747.3 329.8,747.3 330,747.3 330.2,747.3 330.4,747.3 330.6,747.3 330.8,747.3 331,747.3 331.2,747.3 331.4,747.4 331.6,747.4 331.8,747.4 332,747.4 332.2,747.4 332.4,747.4 332.6,747.4 332.8,747.4 333,747.4 333.2,747.4 333.4,747.4 333.6,747.4 333.8,747.4 334,747.4 334.2,747.4 334.4,747.4 334.6,747.4 334.8,747.4 335,747.4 335.2,747.4 335.4,747.4 335.6,747.3 335.8,747.3 336,747.3 336.2,747.3 336.4,747.3 336.6,747.3 336.8,747.3 337,747.3 337.2,747.3 337.4,747.3 337.6,747.3 337.8,747.3 338,747.3 338.2,747.3 338.4,747.3 338.6,747.3 338.8,747.3 339,747.3 339.2,747.3 339.4,747.3 339.6,747.3 339.8,747.2 340,747.2 340.2,747.2 340.4,747.2 340.6,747.2 340.8,747.2 341,747.2 341.2,747.2 341.4,747.2 341.6,747.2 341.8,747.2 342,747.2 342.2,747.1 342.4,747.1 342.6,747.1 342.8,747.1 343,747.1 343.2,747.1 343.4,747.1 343.6,747.1 343.8,747 344,747 344.2,747 344.4,747 344.6,747 344.8,747 345,746.9 345.2,746.9 345.4,746.9 345.6,746.9 345.8,746.8 346,746.8 346.2,746.7 346.4,746.7 346.6,746.6 346.8,746.5 347,746.4 347.2,746.2 347.4,746 347.6,745.7 347.8,745.4 348,745 348.2,744.5 348.4,743.8 348.6,743.1 348.8,742.2 349,741.2 349.2,740.1 349.4,738.8 349.6,737.5 349.8,736.1 350,734.7 350.2,733.4 350.4,732.1 350.6,731 350.8,730.1 351,729.5 351.2,729.3 351.4,729.3 351.6,729.7 351.8,730.5 352,731.4 352.2,732.6 352.4,733.9 352.6,735.3 352.8,736.7 353,738 353.2,739.3 353.4,740.4 353.6,741.5 353.8,742.4 354,743.2 354.2,743.9 354.4,744.4 354.6,744.9 354.8,745.2 355,745.5 355.2,745.7 355.4,745.9 355.6,746 355.8,746.1 356,746.1 356.2,746.2 356.4,746.2 356.6,746.2 356.8,746.2 357,746.3 357.2,746.3 357.4,746.3 357.6,746.3 357.8,746.3 358,746.2 358.2,746.2 358.4,746.2 358.6,746.2 358.8,746.2 359,746.2 359.2,746.2 359.4,746.2 359.6,746.1 359.8,746.1 360,746.1 360.2,746.1 360.4,746.1 360.6,746 360.8,746 361,746 361.2,746 361.4,745.9 361.6,745.9 361.8,745.9 362,745.9 362.2,745.8 362.4,745.8 362.6,745.7 362.8,745.7 363,745.7 363.2,745.6 363.4,745.6 363.6,745.5 363.8,745.5 364,745.4 364.2,745.4 364.4,745.3 364.6,745.3 364.8,745.2 365,745.2 365.2,745.1 365.4,745 365.6,745 365.8,744.9 366,744.8 366.2,744.7 366.4,744.6 366.6,744.5 366.8,744.4 367,744.3 367.2,744.2 367.4,744.1 367.6,744 367.8,743.8 368,743.7 368.2,743.5 368.4,743.4 368.6,743.2 368.8,743 369,742.8 369.2,742.6 369.4,742.4 369.6,742.1 369.8,741.9 370,741.6 370.2,741.3 370.4,741 370.6,740.7 370.8,740.3 371,739.9 371.2,739.4 371.4,739 371.6,738.4 371.8,737.9 372,737.2 372.2,736.5 372.4,735.7 372.6,734.7 372.8,733.6 373,732.2 373.2,730.5 373.4,728.3 373.6,725.5 373.8,721.9 374,717.2 374.2,711.1 374.4,703.4 374.6,693.6 374.8,681.4 375,666.6 375.2,649 375.4,628.6 375.6,621 375.8,621 376,621 376.2,621 376.4,621 376.6,621 376.8,621 377,621 377.2,621 377.4,621 377.6,621 377.8,621 378,621 378.2,621 378.4,621 378.6,621 378.8,621 379,628.6 379.2,649 379.4,666.6 379.6,681.4 379.8,693.5 380,703.3 380.2,711.1 380.4,717.1 380.6,721.8 380.8,725.4 381,728.2 381.2,730.3 381.4,732 381.6,733.4 381.8,734.5 382,735.5 382.2,736.3 382.4,737 382.6,737.6 382.8,738.2 383,738.7 383.2,739.1 383.4,739.5 383.6,739.9 383.8,740.3 384,740.6 384.2,740.9 384.4,741.2 384.6,741.4 384.8,741.6 385,741.9 385.2,742.1 385.4,742.2 385.6,742.4 385.8,742.6 386,742.7 386.2,742.8 386.4,743 386.6,743.1 386.8,743.2 387,743.3 387.2,743.4 387.4,743.5 387.6,743.6 387.8,743.6 388,743.7 388.2,743.8 388.4,743.8 388.6,743.9 388.8,743.9 389,743.9 389.2,744 389.4,744 389.6,744 389.8,744.1 390,744.1 390.2,744.1 390.4,744.1 390.6,744.1 390.8,744.1 391,744.1 391.2,744.1 391.4,744.1 391.6,744.1 391.8,744 392,744 392.2,744 392.4,743.9 392.6,743.9 392.8,743.9 393,743.8 393.2,743.7 393.4,743.7 393.6,743.6 393.8,743.5 394,743.4 394.2,743.3 394.4,743.2 394.6,743.1 394.8,742.9 395,742.8 395.2,742.6 395.4,742.4 395.6,742.2 395.8,742 396,741.7 396.2,741.4 396.4,741 396.6,740.5 396.8,740 397,739.3 397.2,738.4 397.4,737.4 397.6,736 397.8,734.3 398,732.2 398.2,729.5 398.4,726.2 398.6,722.2 398.8,717.4 399,711.8 399.2,705.3 399.4,698.1 399.6,690.1 399.8,681.5 400,672.5 400.2,663.5 400.4,654.9 400.6,647.1 400.8,640.7 401,636.3 401.2,634.3 401.4,635 401.6,638.2 401.8,643.7 402,650.8 402.2,659.1 402.4,668 402.6,677.1 402.8,685.9 403,694.2 403.2,701.9 403.4,708.8 403.6,714.8 403.8,720 404,724.4 404.2,728 404.4,731 404.6,733.4 404.8,735.3 405,736.9 405.2,738.1 405.4,739 405.6,739.8 405.8,740.4 406,741 406.2,741.4 406.4,741.7 406.6,742 406.8,742.3 407,742.6 407.2,742.8 407.4,743 407.6,743.1 407.8,743.3 408,743.4 408.2,743.6 408.4,743.7 408.6,743.8 408.8,743.9 409,744 409.2,744.1 409.4,744.2 409.6,744.2 409.8,744.3 410,744.4 410.2,744.4 410.4,744.5 410.6,744.5 410.8,744.6 411,744.6 411.2,744.7 411.4,744.7 411.6,744.7 411.8,744.8 412,744.8 412.2,744.8 412.4,744.8 412.6,744.9 412.8,744.9 413,744.9 413.2,744.9 413.4,744.9 413.6,744.8 413.8,744.8 414,744.8 414.2,744.7 414.4,744.6 414.6,744.5 414.8,744.4 415,744.3 415.2,744.1 415.4,743.8 415.6,743.6 415.8,743.2 416,742.9 416.2,742.4 416.4,742 416.6,741.4 416.8,740.8 417,740.2 417.2,739.5 417.4,738.8 417.6,738 417.8,737.3 418,736.6 418.2,735.8 418.4,735.2 418.6,734.6 418.8,734.1 419,733.7 419.2,733.4 419.4,733.2 419.6,733.2 419.8,733.4 420,733.7 420.2,734.1 420.4,734.6 420.6,735.2 420.8,735.9 421,736.6 421.2,737.4 421.4,738.1 421.6,738.9 421.8,739.6 422,740.3 422.2,741 422.4,741.6 422.6,742.1 422.8,742.6 423,743.1 423.2,743.5 423.4,743.8 423.6,744.1 423.8,744.3 424,744.5 424.2,744.7 424.4,744.8 424.6,745 424.8,745.1 425,745.1 425.2,745.2 425.4,745.2 425.6,745.3 425.8,745.3 426,745.3 426.2,745.4 426.4,745.4 426.6,745.4 426.8,745.4 427,745.4 427.2,745.4 427.4,745.4 427.6,745.5 427.8,745.5 428,745.5 428.2,745.5 428.4,745.5 428.6,745.5 428.8,745.5 429,745.5 429.2,745.5 429.4,745.5 429.6,745.5 429.8,745.5 430,745.5 430.2,745.5 430.4,745.5 430.6,745.5 430.8,745.5 431,745.5 431.2,745.5 431.4,745.5 431.6,745.5 431.8,745.5 432,745.5 432.2,745.5 432.4,745.5 432.6,745.5 432.8,745.5 433,745.5 433.2,745.5 433.4,745.5 433.6,745.5 433.8,745.5 434,745.5 434.2,745.5 434.4,745.5 434.6,745.5 434.8,745.5 435,745.5 435.2,745.4 435.4,745.4 435.6,745.4 435.8,745.4 436,745.4 436.2,745.4 436.4,745.4 436.6,745.4 436.8,745.4 437,745.4 437.2,745.4 437.4,745.4 437.6,745.4 437.8,745.4 438,745.3 438.2,745.3 438.4,745.3 438.6,745.3 438.8,745.3 439,745.3 439.2,745.3 439.4,745.3 439.6,745.2 439.8,745.2 440,745.2 440.2,745.2 440.4,745.2 440.6,745.2 440.8,745.1 441,745.1 441.2,745.1 441.4,745.1 441.6,745 441.8,745 442,745 442.2,744.9 442.4,744.9 442.6,744.8 442.8,744.8 443,744.7 443.2,744.6 443.4,744.5 443.6,744.3 443.8,744.1 444,743.9 444.2,743.6 444.4,743.1 444.6,742.6 444.8,741.9 445,741 445.2,739.9 445.4,738.6 445.6,737 445.8,735.2 446,733 446.2,730.6 446.4,728 446.6,725.2 446.8,722.3 447,719.3 447.2,716.4 447.4,713.8 447.6,711.5 447.8,709.6 448,708.4 448.2,707.8 448.4,708 448.6,708.9 448.8,710.4 449,712.5 449.2,715 449.4,717.8 449.6,720.7 449.8,723.7 450,726.6 450.2,729.3 450.4,731.8 450.6,734 450.8,736 451,737.7 451.2,739.2 451.4,740.4 451.6,741.3 451.8,742.1 452,742.7 452.2,743.2 452.4,743.6 452.6,743.8 452.8,744 453,744.2 453.2,744.3 453.4,744.4 453.6,744.5 453.8,744.5 454,744.6 454.2,744.6 454.4,744.7 454.6,744.7 454.8,744.7 455,744.7 455.2,744.8 455.4,744.8 455.6,744.8 455.8,744.8 456,744.8 456.2,744.8 456.4,744.8 456.6,744.8 456.8,744.8 457,744.8 457.2,744.8 457.4,744.8 457.6,744.8 457.8,744.8 458,744.8 458.2,744.8 458.4,744.8 458.6,744.8 458.8,744.8 459,744.8 459.2,744.8 459.4,744.7 459.6,744.7 459.8,744.7 460,744.7 460.2,744.6 460.4,744.6 460.6,744.6 460.8,744.5 461,744.4 461.2,744.3 461.4,744.2 461.6,744 461.8,743.8 462,743.6 462.2,743.3 462.4,742.9 462.6,742.4 462.8,741.9 463,741.2 463.2,740.4 463.4,739.5 463.6,738.5 463.8,737.4 464,736.1 464.2,734.8 464.4,733.4 464.6,731.9 464.8,730.5 465,729.1 465.2,727.7 465.4,726.5 465.6,725.4 465.8,724.6 466,724.1 466.2,723.8 466.4,723.9 466.6,724.3 466.8,725 467,725.9 467.2,727 467.4,728.3 467.6,729.7 467.8,731.2 468,732.6 468.2,734.1 468.4,735.4 468.6,736.7 468.8,737.9 469,739 469.2,739.9 469.4,740.7 469.6,741.5 469.8,742.1 470,742.6 470.2,743 470.4,743.3 470.6,743.6 470.8,743.8 471,744 471.2,744.1 471.4,744.3 471.6,744.3 471.8,744.4 472,744.5 472.2,744.5 472.4,744.5 472.6,744.6 472.8,744.6 473,744.6 473.2,744.6 473.4,744.6 473.6,744.6 473.8,744.7 474,744.7 474.2,744.7 474.4,744.7 474.6,744.7 474.8,744.7 475,744.7 475.2,744.7 475.4,744.7 475.6,744.7 475.8,744.7 476,744.7 476.2,744.7 476.4,744.7 476.6,744.7 476.8,744.7 477,744.7 477.2,744.7 477.4,744.7 477.6,744.7 477.8,744.7 478,744.7 478.2,744.7 478.4,744.7 478.6,744.7 478.8,744.7 479,744.7 479.2,744.7 479.4,744.7 479.6,744.7 479.8,744.7 480,744.7 480.2,744.7 480.4,744.7 480.6,744.7 480.8,744.7 481,744.6 481.2,744.6 481.4,744.6 481.6,744.6 481.8,744.6 482,744.6 482.2,744.6 482.4,744.6 482.6,744.6 482.8,744.6 483,744.6 483.2,744.6 483.4,744.5 483.6,744.5 483.8,744.5 484,744.5 484.2,744.5 484.4,744.5 484.6,744.5 484.8,744.5 485,744.5 485.2,744.4 485.4,744.4 485.6,744.4 485.8,744.4 486,744.4 486.2,744.3 486.4,744.3 486.6,744.3 486.8,744.3 487,744.3 487.2,744.2 487.4,744.2 487.6,744.2 487.8,744.1 488,744.1 488.2,744.1 488.4,744 488.6,744 488.8,743.9 489,743.8 489.2,743.7 489.4,743.6 489.6,743.5 489.8,743.3 490,743.1 490.2,742.8 490.4,742.5 490.6,742.1 490.8,741.6 491,740.9 491.2,740.1 491.4,739.2 491.6,738 491.8,736.7 492,735.1 492.2,733.3 492.4,731.2 492.6,728.9 492.8,726.5 493,723.8 493.2,721 493.4,718.2 493.6,715.3 493.8,712.5 494,709.9 494.2,707.6 494.4,705.6 494.6,704.2 494.8,703.2 495,702.9 495.2,703.2 495.4,704.2 495.6,705.6 495.8,707.6 496,709.9 496.2,712.5 496.4,715.2 496.6,718.1 496.8,721 497,723.7 497.2,726.4 497.4,728.9 497.6,731.1 497.8,733.2 498,735 498.2,736.6 498.4,737.9 498.6,739.1 498.8,740 499,740.8 499.2,741.4 499.4,742 499.6,742.4 499.8,742.7 500,742.9 500.2,743.1 500.4,743.3 500.6,743.4 500.8,743.5 501,743.6 501.2,743.7 501.4,743.7 501.6,743.8 501.8,743.8 502,743.9 502.2,743.9 502.4,743.9 502.6,743.9 502.8,744 503,744 503.2,744 503.4,744 503.6,744 503.8,744.1 504,744.1 504.2,744.1 504.4,744.1 504.6,744.1 504.8,744.1 505,744.1 505.2,744.1 505.4,744.1 505.6,744.2 505.8,744.2 506,744.2" stroke="#000" stroke-width="3" fill="none" stroke-linejoin="round"/>
<g fill="#000">
<rect x="38" y="0" width="3" height="790.6"/>
<rect x="504.5" y="0" width="3" height="780.3"/>
<rect x="38" y="0" width="469.5" height="3"/>
<rect x="38" y="156" width="469.5" height="3"/>
<rect x="38" y="311" width="469.5" height="3"/>
<rect x="38" y="467.3" width="469.5" height="3"/>
<rect x="38" y="623.2" width="469.5" height="3"/>
<rect x="38" y="777.3" width="469.5" height="3"/>
<rect x="38" y="779" width="3" height="11.6"/>
<rect x="53.5" y="779" width="3" height="6.6"/>
<rect x="69.1" y="779" width="3" height="6.6"/>
<rect x="84.6" y="779" width="3" height="6.6"/>
<rect x="100.2" y="779" width="3" height="6.6"/>
<rect x="115.7" y="779" width="3" height="11.6"/>
<rect x="131.2" y="779" width="3" height="6.6"/>
<rect x="146.8" y="779" width="3" height="6.6"/>
<rect x="162.3" y="779" width="3" height="6.6"/>
<rect x="177.9" y="779" width="3" height="6.6"/>
<rect x="193.4" y="779" width="3" height="11.6"/>
<rect x="208.9" y="779" width="3" height="6.6"/>
<rect x="224.5" y="779" width="3" height="6.6"/>
<rect x="240" y="779" width="3" height="6.6"/>
<rect x="255.6" y="779" width="3" height="6.6"/>
<rect x="271.1" y="779" width="3" height="11.6"/>
<rect x="286.6" y="779" width="3" height="6.6"/>
<rect x="302.2" y="779" width="3" height="6.6"/>
<rect x="317.7" y="779" width="3" height="6.6"/>
<rect x="333.3" y="779" width="3" height="6.6"/>
<rect x="348.8" y="779" width="3" height="11.6"/>
<rect x="364.3" y="779" width="3" height="6.6"/>
<rect x="379.9" y="779" width="3" height="6.6"/>
<rect x="395.4" y="779" width="3" height="6.6"/>
<rect x="411" y="779" width="3" height="6.6"/>
<rect x="426.5" y="779" width="3" height="11.6"/>
<rect x="442" y="779" width="3" height="6.6"/>
<rect x="457.6" y="779" width="3" height="6.6"/>
<rect x="473.1" y="779" width="3" height="6.6"/>
<rect x="488.7" y="779" width="3" height="6.6"/>
<rect x="504.2" y="779" width="3" height="11.6"/>
<rect x="54.2" y="154.5" width="1.6" height="2"/>
<rect x="69.8" y="154.5" width="1.6" height="2"/>
<rect x="85.3" y="154.5" width="1.6" height="2"/>
<rect x="100.9" y="154.5" width="1.6" height="2"/>
<rect x="116.4" y="154.5" width="1.6" height="2"/>
<rect x="131.9" y="154.5" width="1.6" height="2"/>
<rect x="147.5" y="154.5" width="1.6" height="2"/>
<rect x="163" y="154.5" width="1.6" height="2"/>
<rect x="178.6" y="154.5" width="1.6" height="2"/>
<rect x="194.1" y="154.5" width="1.6" height="2"/>
<rect x="209.6" y="154.5" width="1.6" height="2"/>
<rect x="225.2" y="154.5" width="1.6" height="2"/>
<rect x="240.7" y="154.5" width="1.6" height="2"/>
<rect x="256.3" y="154.5" width="1.6" height="2"/>
<rect x="271.8" y="154.5" width="1.6" height="2"/>
<rect x="287.3" y="154.5" width="1.6" height="2"/>
<rect x="302.9" y="154.5" width="1.6" height="2"/>
<rect x="318.4" y="154.5" width="1.6" height="2"/>
<rect x="334" y="154.5" width="1.6" height="2"/>
<rect x="349.5" y="154.5" width="1.6" height="2"/>
<rect x="365" y="154.5" width="1.6" height="2"/>
<rect x="380.6" y="154.5" width="1.6" height="2"/>
<rect x="396.1" y="154.5" width="1.6" height="2"/>
<rect x="411.7" y="154.5" width="1.6" height="2"/>
<rect x="427.2" y="154.5" width="1.6" height="2"/>
<rect x="442.7" y="154.5" width="1.6" height="2"/>
<rect x="458.3" y="154.5" width="1.6" height="2"/>
<rect x="473.8" y="154.5" width="1.6" height="2"/>
<rect x="489.4" y="154.5" width="1.6" height="2"/>
<rect x="54.2" y="309.5" width="1.6" height="2"/>
<rect x="69.8" y="309.5" width="1.6" height="2"/>
<rect x="85.3" y="309.5" width="1.6" height="2"/>
<rect x="100.9" y="309.5" width="1.6" height="2"/>
<rect x="116.4" y="309.5" width="1.6" height="2"/>
<rect x="131.9" y="309.5" width="1.6" height="2"/>
<rect x="147.5" y="309.5" width="1.6" height="2"/>
<rect x="163" y="309.5" width="1.6" height="2"/>
<rect x="178.6" y="309.5" width="1.6" height="2"/>
<rect x="194.1" y="309.5" width="1.6" height="2"/>
<rect x="209.6" y="309.5" width="1.6" height="2"/>
<rect x="225.2" y="309.5" width="1.6" height="2"/>
<rect x="240.7" y="309.5" width="1.6" height="2"/>
<rect x="256.3" y="309.5" width="1.6" height="2"/>
<rect x="271.8" y="309.5" width="1.6" height="2"/>
<rect x="287.3" y="309.5" width="1.6" height="2"/>
<rect x="302.9" y="309.5" width="1.6" height="2"/>
<rect x="318.4" y="309.5" width="1.6" height="2"/>
<rect x="334" y="309.5" width="1.6" height="2"/>
<rect x="349.5" y="309.5" width="1.6" height="2"/>
<rect x="365" y="309.5" width="1.6" height="2"/>
<rect x="380.6" y="309.5" width="1.6" height="2"/>
<rect x="396.1" y="309.5" width="1.6" height="2"/>
<rect x="411.7" y="309.5" width="1.6" height="2"/>
<rect x="427.2" y="309.5" width="1.6" height="2"/>
<rect x="442.7" y="309.5" width="1.6" height="2"/>
<rect x="458.3" y="309.5" width="1.6" height="2"/>
<rect x="473.8" y="309.5" width="1.6" height="2"/>
<rect x="489.4" y="309.5" width="1.6" height="2"/>
<rect x="54.2" y="465.8" width="1.6" height="2"/>
<rect x="69.8" y="465.8" width="1.6" height="2"/>
<rect x="85.3" y="465.8" width="1.6" height="2"/>
<rect x="100.9" y="465.8" width="1.6" height="2"/>
<rect x="116.4" y="465.8" width="1.6" height="2"/>
<rect x="131.9" y="465.8" width="1.6" height="2"/>
<rect x="147.5" y="465.8" width="1.6" height="2"/>
<rect x="163" y="465.8" width="1.6" height="2"/>
<rect x="178.6" y="465.8" width="1.6" height="2"/>
<rect x="194.1" y="465.8" width="1.6" height="2"/>
<rect x="209.6" y="465.8" width="1.6" height="2"/>
<rect x="225.2" y="465.8" width="1.6" height="2"/>
<rect x="240.7" y="465.8" width="1.6" height="2"/>
<rect x="256.3" y="465.8" width="1.6" height="2"/>
<rect x="271.8" y="465.8" width="1.6" height="2"/>
<rect x="287.3" y="465.8" width="1.6" height="2"/>
<rect x="302.9" y="465.8" width="1.6" height="2"/>
<rect x="318.4" y="465.8" width="1.6" height="2"/>
<rect x="334" y="465.8" width="1.6" height="2"/>
<rect x="349.5" y="465.8" width="1.6" height="2"/>
<rect x="365" y="465.8" width="1.6" height="2"/>
<rect x="380.6" y="465.8" width="1.6" height="2"/>
<rect x="396.1" y="465.8" width="1.6" height="2"/>
<rect x="411.7" y="465.8" width="1.6" height="2"/>
<rect x="427.2" y="465.8" width="1.6" height="2"/>
<rect x="442.7" y="465.8" width="1.6" height="2"/>
<rect x="458.3" y="465.8" width="1.6" height="2"/>
<rect x="473.8" y="465.8" width="1.6" height="2"/>
<rect x="489.4" y="465.8" width="1.6" height="2"/>
<rect x="54.2" y="621.7" width="1.6" height="2"/>
<rect x="69.8" y="621.7" width="1.6" height="2"/>
<rect x="85.3" y="621.7" width="1.6" height="2"/>
<rect x="100.9" y="621.7" width="1.6" height="2"/>
<rect x="116.4" y="621.7" width="1.6" height="2"/>
<rect x="131.9" y="621.7" width="1.6" height="2"/>
<rect x="147.5" y="621.7" width="1.6" height="2"/>
<rect x="163" y="621.7" width="1.6" height="2"/>
<rect x="178.6" y="621.7" width="1.6" height="2"/>
<rect x="194.1" y="621.7" width="1.6" height="2"/>
<rect x="209.6" y="621.7" width="1.6" height="2"/>
<rect x="225.2" y="621.7" width="1.6" height="2"/>
<rect x="240.7" y="621.7" width="1.6" height="2"/>
<rect x="256.3" y="621.7" width="1.6" height="2"/>
<rect x="271.8" y="621.7" width="1.6" height="2"/>
<rect x="287.3" y="621.7" width="1.6" height="2"/>
<rect x="302.9" y="621.7" width="1.6" height="2"/>
<rect x="318.4" y="621.7" width="1.6" height="2"/>
<rect x="334" y="621.7" width="1.6" height="2"/>
<rect x="349.5" y="621.7" width="1.6" height="2"/>
<rect x="365" y="621.7" width="1.6" height="2"/>
<rect x="380.6" y="621.7" width="1.6" height="2"/>
<rect x="396.1" y="621.7" width="1.6" height="2"/>
<rect x="411.7" y="621.7" width="1.6" height="2"/>
<rect x="427.2" y="621.7" width="1.6" height="2"/>
<rect x="442.7" y="621.7" width="1.6" height="2"/>
<rect x="458.3" y="621.7" width="1.6" height="2"/>
<rect x="473.8" y="621.7" width="1.6" height="2"/>
<rect x="489.4" y="621.7" width="1.6" height="2"/>
</g>
<path d="M122.7 129.5 Q125.3 136.5 127.4 144.5 L118 144.5 Q120.1 136.5 122.7 129.5 Z" fill="#000"/><rect x="121.2" y="142.5" width="2.9" height="13.5" fill="#000"/>
<path d="M198 130.5 Q200.6 137.5 202.7 146 L193.3 146 Q195.4 137.5 198 130.5 Z" fill="#000"/><rect x="196.6" y="144" width="2.9" height="12" fill="#000"/>
<path d="M318 130 Q320.6 137 322.7 146 L313.3 146 Q315.4 137 318 130 Z" fill="#000"/><rect x="316.6" y="144" width="2.9" height="12" fill="#000"/>
<path d="M419.3 127.5 Q421.9 134.5 424 143.5 L414.6 143.5 Q416.7 134.5 419.3 127.5 Z" fill="#000"/><rect x="417.9" y="141.5" width="2.9" height="14.5" fill="#000"/>
<path d="M464.5 128.7 Q467.1 135.7 469.2 143.7 L459.8 143.7 Q461.9 135.7 464.5 128.7 Z" fill="#000"/><rect x="463.1" y="141.7" width="2.9" height="14.3" fill="#000"/>
<text x="45.2" y="37" style="font-family:'Liberation Serif','Times New Roman',serif;font-size:33px;font-weight:bold;">(a)</text>
<text x="42.3" y="193.5" style="font-family:'Liberation Serif','Times New Roman',serif;font-size:33px;font-weight:bold;">(b)</text>
<text x="43.2" y="349.5" style="font-family:'Liberation Serif','Times New Roman',serif;font-size:33px;font-weight:bold;">(c)</text>
<text x="43.2" y="498.8" style="font-family:'Liberation Serif','Times New Roman',serif;font-size:33px;font-weight:bold;">(d)</text>
<text x="43.2" y="653.8" style="font-family:'Liberation Serif','Times New Roman',serif;font-size:33px;font-weight:bold;">(e)</text>
<text x="421.1" y="35.9" style="font-family:'Liberation Serif','Times New Roman',serif;font-size:33px;font-weight:bold;">P4mm</text>
<text x="416.5" y="186.8" style="font-family:'Liberation Serif','Times New Roman',serif;font-size:33px;font-weight:bold;letter-spacing:-0.9px;">Bmm2</text>
<text x="452.5" y="346.5" style="font-family:'Liberation Serif','Times New Roman',serif;font-size:33px;font-weight:bold;">Pm</text>
<text x="435.2" y="507.2" style="font-family:'Liberation Serif','Times New Roman',serif;font-size:33px;font-weight:bold;">R3m</text>
<text x="435.2" y="661.2" style="font-family:'Liberation Serif','Times New Roman',serif;font-size:33px;font-weight:bold;">R3c</text>
<text x="108.1" y="89.2" style="font-family:'Liberation Serif','Times New Roman',serif;font-size:34px;font-weight:bold">S</text>
<text x="187" y="105" style="font-family:'Liberation Serif','Times New Roman',serif;font-size:34px;font-weight:bold">S</text>
<text x="311.6" y="73.5" style="font-family:'Liberation Serif','Times New Roman',serif;font-size:34px;font-weight:bold">S</text>
<text x="411.8" y="98.5" style="font-family:'Liberation Serif','Times New Roman',serif;font-size:34px;font-weight:bold">S</text>
<text x="455.1" y="86.5" style="font-family:'Liberation Serif','Times New Roman',serif;font-size:34px;font-weight:bold">S</text>
<text x="191.2" y="380.4" style="font-family:'Liberation Serif','Times New Roman',serif;font-size:34px;font-weight:bold">S</text>
<text x="40" y="819.7" text-anchor="middle" style="font-family:'Liberation Serif','Times New Roman',serif;font-size:31px">20</text>
<text x="117.7" y="819.7" text-anchor="middle" style="font-family:'Liberation Serif','Times New Roman',serif;font-size:31px">30</text>
<text x="195.4" y="819.7" text-anchor="middle" style="font-family:'Liberation Serif','Times New Roman',serif;font-size:31px">40</text>
<text x="273.1" y="819.7" text-anchor="middle" style="font-family:'Liberation Serif','Times New Roman',serif;font-size:31px">50</text>
<text x="350.8" y="819.7" text-anchor="middle" style="font-family:'Liberation Serif','Times New Roman',serif;font-size:31px">60</text>
<text x="428.5" y="819.7" text-anchor="middle" style="font-family:'Liberation Serif','Times New Roman',serif;font-size:31px">70</text>
<text x="506.2" y="819.7" text-anchor="middle" style="font-family:'Liberation Serif','Times New Roman',serif;font-size:31px">80</text>
<text x="184" y="856.5" style="font-family:'Liberation Serif','Times New Roman',serif;font-size:33px">2θ (degree)</text>
<text transform="translate(22.3 532.5) rotate(-90)" x="0" y="0" style="font-family:'Liberation Serif','Times New Roman',serif;font-size:33px">Intensity (arb. units)</text>
</svg></body></html>
